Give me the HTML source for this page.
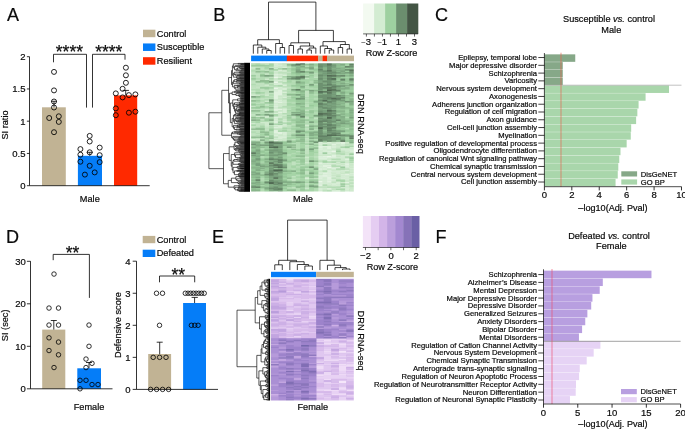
<!DOCTYPE html>
<html lang="en">
<head>
<meta charset="utf-8">
<title>Figure</title>
<style>
html,body{margin:0;padding:0;background:#fff;}
body{width:685px;height:430px;overflow:hidden;}
svg{display:block;font-family:'Liberation Sans', Arial, sans-serif;fill:#000;}
svg text{fill:#0a0a0a;stroke:#0a0a0a;stroke-width:.2px;}
</style>
</head>
<body>
<svg width="685" height="430" viewBox="0 0 685 430" font-family="'Liberation Sans', Arial, sans-serif">
<rect width="685" height="430" fill="#fff"/>
<text x="7" y="21.2" font-size="18" text-anchor="start">A</text>
<text x="213.3" y="21.2" font-size="18" text-anchor="start">B</text>
<text x="435" y="21.2" font-size="18" text-anchor="start">C</text>
<text x="6" y="242.5" font-size="18" text-anchor="start">D</text>
<text x="212" y="242.5" font-size="18" text-anchor="start">E</text>
<text x="435.5" y="242.5" font-size="18" text-anchor="start">F</text>
<rect x="42" y="107.3" width="23.8" height="78.4" fill="#c1b394"/>
<rect x="77.9" y="155.8" width="24.1" height="29.9" fill="#057df8"/>
<rect x="114" y="95.4" width="23.2" height="90.3" fill="#ff2900"/>
<path d="M29.5 56.7V185.7H149.7" stroke="#000" stroke-width="0.8" fill="none"/>
<path d="M26.9 185.7L29.5 185.7" stroke="#000" stroke-width="0.8" fill="none"/>
<text x="25.5" y="189.05" font-size="9.5" text-anchor="end">0</text>
<path d="M26.9 153.45L29.5 153.45" stroke="#000" stroke-width="0.8" fill="none"/>
<text x="25.5" y="156.8" font-size="9.5" text-anchor="end">0.5</text>
<path d="M26.9 121.2L29.5 121.2" stroke="#000" stroke-width="0.8" fill="none"/>
<text x="25.5" y="124.55" font-size="9.5" text-anchor="end">1</text>
<path d="M26.9 88.95L29.5 88.95" stroke="#000" stroke-width="0.8" fill="none"/>
<text x="25.5" y="92.3" font-size="9.5" text-anchor="end">1.5</text>
<path d="M26.9 56.7L29.5 56.7" stroke="#000" stroke-width="0.8" fill="none"/>
<text x="25.5" y="60.05" font-size="9.5" text-anchor="end">2</text>
<text transform="translate(8.2 125) rotate(-90)" font-size="9.2" text-anchor="middle">SI ratio</text>
<text x="89.8" y="201.8" font-size="9.2" text-anchor="middle">Male</text>
<path d="M54 107.3V101.3M51 101.3H57" stroke="#000" stroke-width="0.8" fill="none"/>
<path d="M89.8 155.8V152.3M86.8 152.3H92.8" stroke="#000" stroke-width="0.8" fill="none"/>
<path d="M125.7 95.4V90.4M122.5 90.4H128.9" stroke="#000" stroke-width="0.8" fill="none"/>
<g fill="none" stroke="#000" stroke-width="0.85">
<circle cx="54" cy="71.9" r="2.5"/>
<circle cx="54" cy="90.4" r="2.5"/>
<circle cx="54" cy="101.5" r="2.5"/>
<circle cx="54" cy="107.5" r="2.5"/>
<circle cx="58.8" cy="116.3" r="2.5"/>
<circle cx="49.2" cy="118" r="2.5"/>
<circle cx="58.8" cy="121.9" r="2.5"/>
<circle cx="54" cy="132.2" r="2.5"/>
</g>
<g fill="none" stroke="#000" stroke-width="0.85">
<circle cx="89.7" cy="135.9" r="2.5"/>
<circle cx="89.7" cy="141.5" r="2.5"/>
<circle cx="80.4" cy="149.1" r="2.5"/>
<circle cx="99.7" cy="147.6" r="2.5"/>
<circle cx="89.7" cy="152.3" r="2.5"/>
<circle cx="80.4" cy="154.7" r="2.5"/>
<circle cx="99.7" cy="155.2" r="2.5"/>
<circle cx="80.4" cy="161.7" r="2.5"/>
<circle cx="99.7" cy="162.1" r="2.5"/>
<circle cx="89.7" cy="165.8" r="2.5"/>
<circle cx="94.7" cy="172.4" r="2.5"/>
<circle cx="84.9" cy="174.6" r="2.5"/>
</g>
<g fill="none" stroke="#000" stroke-width="0.85">
<circle cx="125.9" cy="67.7" r="2.5"/>
<circle cx="125.9" cy="75.3" r="2.5"/>
<circle cx="125.9" cy="82.8" r="2.5"/>
<circle cx="122.6" cy="88.8" r="2.5"/>
<circle cx="115.8" cy="93.4" r="2.5"/>
<circle cx="128.9" cy="95.1" r="2.5"/>
<circle cx="135.4" cy="94.4" r="2.5"/>
<circle cx="122.6" cy="97.4" r="2.5"/>
<circle cx="115.8" cy="108.4" r="2.5"/>
<circle cx="115.8" cy="115.2" r="2.5"/>
<circle cx="128.9" cy="112.7" r="2.5"/>
<circle cx="135.4" cy="111.7" r="2.5"/>
</g>
<path d="M53.5 62.3V54.3H86.5V107.6" stroke="#000" stroke-width="0.8" fill="none"/>
<path d="M92.5 107.6V54.3H125V59.7" stroke="#000" stroke-width="0.8" fill="none"/>
<text x="69.4" y="58.4" font-size="17.5" text-anchor="middle" stroke="#111" stroke-width="0.25">****</text>
<text x="108.8" y="58.4" font-size="17.5" text-anchor="middle" stroke="#111" stroke-width="0.25">****</text>
<rect x="143" y="29.7" width="12.4" height="7.5" fill="#c1b394"/>
<text x="156.8" y="36.7" font-size="9.2" text-anchor="start">Control</text>
<rect x="143" y="43.45" width="12.4" height="7.5" fill="#057df8"/>
<text x="156.8" y="50.45" font-size="9.2" text-anchor="start">Susceptible</text>
<rect x="143" y="57.2" width="12.4" height="7.5" fill="#ff2900"/>
<text x="156.8" y="64.2" font-size="9.2" text-anchor="start">Resilient</text>
<rect x="42.2" y="329.6" width="23.1" height="59.2" fill="#c1b394"/>
<rect x="77.3" y="368.3" width="23.7" height="20.5" fill="#057df8"/>
<path d="M30.5 261.2V388.8H112.5" stroke="#000" stroke-width="0.8" fill="none"/>
<path d="M26.9 388.8L30.5 388.8" stroke="#000" stroke-width="0.8" fill="none"/>
<text x="25.8" y="392.15" font-size="9.5" text-anchor="end">0</text>
<path d="M26.9 346.3L30.5 346.3" stroke="#000" stroke-width="0.8" fill="none"/>
<text x="25.8" y="349.65" font-size="9.5" text-anchor="end">10</text>
<path d="M26.9 303.8L30.5 303.8" stroke="#000" stroke-width="0.8" fill="none"/>
<text x="25.8" y="307.15" font-size="9.5" text-anchor="end">20</text>
<path d="M26.9 261.3L30.5 261.3" stroke="#000" stroke-width="0.8" fill="none"/>
<text x="25.8" y="264.65" font-size="9.5" text-anchor="end">30</text>
<text transform="translate(8.4 325.3) rotate(-90)" font-size="9.2" text-anchor="middle">SI (sec)</text>
<text x="89" y="410.2" font-size="9.2" text-anchor="middle">Female</text>
<path d="M53.8 329.6V320.5M50.8 320.5H56.8" stroke="#000" stroke-width="0.8" fill="none"/>
<path d="M89 368.3V362.5M86 362.5H92" stroke="#000" stroke-width="0.8" fill="none"/>
<g fill="none" stroke="#000" stroke-width="0.8">
<circle cx="54" cy="274.05" r="2.25"/>
<circle cx="49" cy="308.05" r="2.25"/>
<circle cx="58.5" cy="308.05" r="2.25"/>
<circle cx="49" cy="325.05" r="2.25"/>
<circle cx="58.5" cy="325.05" r="2.25"/>
<circle cx="49" cy="337.8" r="2.25"/>
<circle cx="58.5" cy="342.05" r="2.25"/>
<circle cx="49" cy="350.55" r="2.25"/>
<circle cx="58.5" cy="354.8" r="2.25"/>
<circle cx="54" cy="367.55" r="2.25"/>
</g>
<g fill="none" stroke="#000" stroke-width="0.8">
<circle cx="89" cy="325.05" r="2.25"/>
<circle cx="89" cy="346.3" r="2.25"/>
<circle cx="86" cy="359.05" r="2.25"/>
<circle cx="92" cy="363.3" r="2.25"/>
<circle cx="86" cy="367.55" r="2.25"/>
<circle cx="80" cy="380.3" r="2.25"/>
<circle cx="86" cy="380.3" r="2.25"/>
<circle cx="92" cy="384.55" r="2.25"/>
<circle cx="98" cy="384.55" r="2.25"/>
<circle cx="80" cy="388.8" r="2.25"/>
</g>
<path d="M53.2 260.2V254.4H89.4V297.9" stroke="#000" stroke-width="0.8" fill="none"/>
<text x="72.5" y="258.8" font-size="17.5" text-anchor="middle" stroke="#111" stroke-width="0.25">**</text>
<rect x="148.2" y="354" width="22.9" height="35.4" fill="#c1b394"/>
<rect x="183.1" y="303" width="22.9" height="86.4" fill="#057df8"/>
<path d="M136.5 261.2V389.4H218" stroke="#000" stroke-width="0.8" fill="none"/>
<path d="M132.7 389.4L136.5 389.4" stroke="#000" stroke-width="0.8" fill="none"/>
<text x="130.5" y="392.75" font-size="9.5" text-anchor="end">0</text>
<path d="M132.7 357.35L136.5 357.35" stroke="#000" stroke-width="0.8" fill="none"/>
<text x="130.5" y="360.7" font-size="9.5" text-anchor="end">1</text>
<path d="M132.7 325.3L136.5 325.3" stroke="#000" stroke-width="0.8" fill="none"/>
<text x="130.5" y="328.65" font-size="9.5" text-anchor="end">2</text>
<path d="M132.7 293.25L136.5 293.25" stroke="#000" stroke-width="0.8" fill="none"/>
<text x="130.5" y="296.6" font-size="9.5" text-anchor="end">3</text>
<path d="M132.7 261.2L136.5 261.2" stroke="#000" stroke-width="0.8" fill="none"/>
<text x="130.5" y="264.55" font-size="9.5" text-anchor="end">4</text>
<text transform="translate(120.6 325) rotate(-90)" font-size="9.2" text-anchor="middle">Defensive score</text>
<path d="M159.7 354V342.2M156.7 342.2H162.7" stroke="#000" stroke-width="0.8" fill="none"/>
<path d="M194.6 303V297.4M191.6 297.4H197.8" stroke="#000" stroke-width="0.8" fill="none"/>
<g fill="none" stroke="#000" stroke-width="0.8">
<circle cx="156.5" cy="293.25" r="2.25"/>
<circle cx="162.5" cy="293.25" r="2.25"/>
<circle cx="159.5" cy="325.3" r="2.25"/>
<circle cx="153.2" cy="357.35" r="2.25"/>
<circle cx="159.6" cy="357.35" r="2.25"/>
<circle cx="166" cy="357.35" r="2.25"/>
<circle cx="150.6" cy="389.4" r="2.25"/>
<circle cx="156.6" cy="389.4" r="2.25"/>
<circle cx="162.6" cy="389.4" r="2.25"/>
<circle cx="168.6" cy="389.4" r="2.25"/>
</g>
<g fill="none" stroke="#000" stroke-width="0.8">
<circle cx="185.3" cy="293.25" r="2.25"/>
<circle cx="188" cy="293.25" r="2.25"/>
<circle cx="190.7" cy="293.25" r="2.25"/>
<circle cx="193.4" cy="293.25" r="2.25"/>
<circle cx="196.1" cy="293.25" r="2.25"/>
<circle cx="198.8" cy="293.25" r="2.25"/>
<circle cx="201.5" cy="293.25" r="2.25"/>
<circle cx="204.2" cy="293.25" r="2.25"/>
<circle cx="191.4" cy="325.3" r="2.25"/>
<circle cx="194.75" cy="325.3" r="2.25"/>
<circle cx="198.1" cy="325.3" r="2.25"/>
</g>
<path d="M159.5 282.3V276H194.7V282.3" stroke="#000" stroke-width="0.8" fill="none"/>
<text x="178.2" y="281.2" font-size="17.5" text-anchor="middle" stroke="#111" stroke-width="0.25">**</text>
<rect x="142.7" y="235.9" width="12.6" height="7.3" fill="#c1b394"/>
<text x="156.7" y="242.5" font-size="9.2" text-anchor="start">Control</text>
<rect x="142.7" y="249.7" width="12.6" height="7.3" fill="#057df8"/>
<text x="156.7" y="256.3" font-size="9.2" text-anchor="start">Defeated</text>
<rect x="544.4" y="54.35" width="30.85" height="7.48" fill="#86a888"/>
<path d="M538.3 57.54L544.4 57.54" stroke="#000" stroke-width="0.75" fill="none"/>
<text x="537" y="59.99" font-size="7.65" text-anchor="end">Epilepsy, temporal lobe</text>
<rect x="544.4" y="62.13" width="18.37" height="7.48" fill="#86a888"/>
<path d="M538.3 65.32L544.4 65.32" stroke="#000" stroke-width="0.75" fill="none"/>
<text x="537" y="67.77" font-size="7.65" text-anchor="end">Major depressive disorder</text>
<rect x="544.4" y="69.91" width="18.37" height="7.48" fill="#86a888"/>
<path d="M538.3 73.1L544.4 73.1" stroke="#000" stroke-width="0.75" fill="none"/>
<text x="537" y="75.55" font-size="7.65" text-anchor="end">Schizophrenia</text>
<rect x="544.4" y="77.69" width="18.37" height="7.48" fill="#86a888"/>
<path d="M538.3 80.88L544.4 80.88" stroke="#000" stroke-width="0.75" fill="none"/>
<text x="537" y="83.33" font-size="7.65" text-anchor="end">Varicosity</text>
<rect x="544.4" y="85.47" width="124.62" height="7.48" fill="#a9d6ab"/>
<path d="M538.3 88.66L544.4 88.66" stroke="#000" stroke-width="0.75" fill="none"/>
<text x="537" y="91.11" font-size="7.65" text-anchor="end">Nervous system development</text>
<rect x="544.4" y="93.25" width="101.18" height="7.48" fill="#a9d6ab"/>
<path d="M538.3 96.44L544.4 96.44" stroke="#000" stroke-width="0.75" fill="none"/>
<text x="537" y="98.89" font-size="7.65" text-anchor="end">Axonogenesis</text>
<rect x="544.4" y="101.03" width="94.19" height="7.48" fill="#a9d6ab"/>
<path d="M538.3 104.22L544.4 104.22" stroke="#000" stroke-width="0.75" fill="none"/>
<text x="537" y="106.67" font-size="7.65" text-anchor="end">Adherens junction organization</text>
<rect x="544.4" y="108.81" width="92.95" height="7.48" fill="#a9d6ab"/>
<path d="M538.3 112L544.4 112" stroke="#000" stroke-width="0.75" fill="none"/>
<text x="537" y="114.45" font-size="7.65" text-anchor="end">Regulation of cell migration</text>
<rect x="544.4" y="116.59" width="91.72" height="7.48" fill="#a9d6ab"/>
<path d="M538.3 119.78L544.4 119.78" stroke="#000" stroke-width="0.75" fill="none"/>
<text x="537" y="122.23" font-size="7.65" text-anchor="end">Axon guidance</text>
<rect x="544.4" y="124.37" width="86.78" height="7.48" fill="#a9d6ab"/>
<path d="M538.3 127.56L544.4 127.56" stroke="#000" stroke-width="0.75" fill="none"/>
<text x="537" y="130.01" font-size="7.65" text-anchor="end">Cell-cell junction assembly</text>
<rect x="544.4" y="132.15" width="86.37" height="7.48" fill="#a9d6ab"/>
<path d="M538.3 135.34L544.4 135.34" stroke="#000" stroke-width="0.75" fill="none"/>
<text x="537" y="137.79" font-size="7.65" text-anchor="end">Myelination</text>
<rect x="544.4" y="139.93" width="82.26" height="7.48" fill="#a9d6ab"/>
<path d="M538.3 143.12L544.4 143.12" stroke="#000" stroke-width="0.75" fill="none"/>
<text x="537" y="145.57" font-size="7.65" text-anchor="end">Positive regulation of developmental process</text>
<rect x="544.4" y="147.71" width="76.09" height="7.48" fill="#a9d6ab"/>
<path d="M538.3 150.9L544.4 150.9" stroke="#000" stroke-width="0.75" fill="none"/>
<text x="537" y="153.35" font-size="7.65" text-anchor="end">Oligodendrocyte differentiation</text>
<rect x="544.4" y="155.49" width="74.86" height="7.48" fill="#a9d6ab"/>
<path d="M538.3 158.68L544.4 158.68" stroke="#000" stroke-width="0.75" fill="none"/>
<text x="537" y="161.13" font-size="7.65" text-anchor="end">Regulation of canonical Wnt signaling pathway</text>
<rect x="544.4" y="163.27" width="73.9" height="7.48" fill="#a9d6ab"/>
<path d="M538.3 166.46L544.4 166.46" stroke="#000" stroke-width="0.75" fill="none"/>
<text x="537" y="168.91" font-size="7.65" text-anchor="end">Chemical synaptic transmission</text>
<rect x="544.4" y="171.05" width="73.35" height="7.48" fill="#a9d6ab"/>
<path d="M538.3 174.24L544.4 174.24" stroke="#000" stroke-width="0.75" fill="none"/>
<text x="537" y="176.69" font-size="7.65" text-anchor="end">Central nervous system development</text>
<rect x="544.4" y="178.83" width="71.15" height="7.48" fill="#a9d6ab"/>
<path d="M538.3 182.02L544.4 182.02" stroke="#000" stroke-width="0.75" fill="none"/>
<text x="537" y="184.47" font-size="7.65" text-anchor="end">Cell junction assembly</text>
<path d="M544.4 85.2L681.5 85.2" stroke="#a8a8a8" stroke-width="0.7" fill="none"/>
<path d="M561 52.7V186.7" stroke="#e8604a" stroke-width="1" stroke-opacity="0.62" fill="none"/>
<path d="M544.4 53.0V186.7H681.5" stroke="#000" stroke-width="0.7" fill="none"/>
<path d="M544.4 186.7L544.4 190.4" stroke="#000" stroke-width="0.8" fill="none"/>
<text x="544.4" y="198" font-size="9.5" text-anchor="middle">0</text>
<path d="M571.82 186.7L571.82 190.4" stroke="#000" stroke-width="0.8" fill="none"/>
<text x="571.82" y="198" font-size="9.5" text-anchor="middle">2</text>
<path d="M599.24 186.7L599.24 190.4" stroke="#000" stroke-width="0.8" fill="none"/>
<text x="599.24" y="198" font-size="9.5" text-anchor="middle">4</text>
<path d="M626.66 186.7L626.66 190.4" stroke="#000" stroke-width="0.8" fill="none"/>
<text x="626.66" y="198" font-size="9.5" text-anchor="middle">6</text>
<path d="M654.08 186.7L654.08 190.4" stroke="#000" stroke-width="0.8" fill="none"/>
<text x="654.08" y="198" font-size="9.5" text-anchor="middle">8</text>
<path d="M681.5 186.7L681.5 190.4" stroke="#000" stroke-width="0.8" fill="none"/>
<text x="681.5" y="198" font-size="9.5" text-anchor="middle">10</text>
<text x="613" y="210.5" font-size="9.1" text-anchor="middle">–log10(Adj. Pval)</text>
<text x="609" y="21.6" font-size="9.2" text-anchor="middle">Susceptible <tspan font-style="italic">vs.</tspan> control</text>
<text x="611.3" y="33.3" font-size="9.2" text-anchor="middle">Male</text>
<rect x="621.3" y="171.3" width="15.8" height="5.2" fill="#86a888"/>
<rect x="621.3" y="179.4" width="15.8" height="5.2" fill="#a9d6ab"/>
<text x="640.8" y="176.6" font-size="7.6" text-anchor="start">DisGeNET</text>
<text x="640.8" y="184.7" font-size="7.6" text-anchor="start">GO BP</text>
<rect x="543.5" y="270.65" width="107.97" height="7.54" fill="#b89fe0"/>
<path d="M538.3 274.57L543.5 274.57" stroke="#000" stroke-width="0.75" fill="none"/>
<text x="537" y="277.02" font-size="7.65" text-anchor="end">Schizophrenia</text>
<rect x="543.5" y="278.49" width="59.3" height="7.54" fill="#b89fe0"/>
<path d="M538.3 282.41L543.5 282.41" stroke="#000" stroke-width="0.75" fill="none"/>
<text x="537" y="284.86" font-size="7.65" text-anchor="end">Alzheimer’s Disease</text>
<rect x="543.5" y="286.33" width="56.21" height="7.54" fill="#b89fe0"/>
<path d="M538.3 290.25L543.5 290.25" stroke="#000" stroke-width="0.75" fill="none"/>
<text x="537" y="292.7" font-size="7.65" text-anchor="end">Mental Depression</text>
<rect x="543.5" y="294.17" width="48.94" height="7.54" fill="#b89fe0"/>
<path d="M538.3 298.09L543.5 298.09" stroke="#000" stroke-width="0.75" fill="none"/>
<text x="537" y="300.54" font-size="7.65" text-anchor="end">Major Depressive Disorder</text>
<rect x="543.5" y="302.01" width="47.71" height="7.54" fill="#b89fe0"/>
<path d="M538.3 305.93L543.5 305.93" stroke="#000" stroke-width="0.75" fill="none"/>
<text x="537" y="308.38" font-size="7.65" text-anchor="end">Depressive Disorder</text>
<rect x="543.5" y="309.85" width="43.87" height="7.54" fill="#b89fe0"/>
<path d="M538.3 313.77L543.5 313.77" stroke="#000" stroke-width="0.75" fill="none"/>
<text x="537" y="316.22" font-size="7.65" text-anchor="end">Generalized Seizures</text>
<rect x="543.5" y="317.69" width="41.75" height="7.54" fill="#b89fe0"/>
<path d="M538.3 321.61L543.5 321.61" stroke="#000" stroke-width="0.75" fill="none"/>
<text x="537" y="324.06" font-size="7.65" text-anchor="end">Anxiety Disorders</text>
<rect x="543.5" y="325.53" width="38.59" height="7.54" fill="#b89fe0"/>
<path d="M538.3 329.45L543.5 329.45" stroke="#000" stroke-width="0.75" fill="none"/>
<text x="537" y="331.9" font-size="7.65" text-anchor="end">Bipolar Disorder</text>
<rect x="543.5" y="333.37" width="35.44" height="7.54" fill="#b89fe0"/>
<path d="M538.3 337.29L543.5 337.29" stroke="#000" stroke-width="0.75" fill="none"/>
<text x="537" y="339.74" font-size="7.65" text-anchor="end">Mental Disorders</text>
<rect x="543.5" y="341.21" width="56.9" height="7.54" fill="#e6d3f5"/>
<path d="M538.3 345.13L543.5 345.13" stroke="#000" stroke-width="0.75" fill="none"/>
<text x="537" y="347.58" font-size="7.65" text-anchor="end">Regulation of Cation Channel Activity</text>
<rect x="543.5" y="349.05" width="50.18" height="7.54" fill="#e6d3f5"/>
<path d="M538.3 352.97L543.5 352.97" stroke="#000" stroke-width="0.75" fill="none"/>
<text x="537" y="355.42" font-size="7.65" text-anchor="end">Nervous System Development</text>
<rect x="543.5" y="356.89" width="43.19" height="7.54" fill="#e6d3f5"/>
<path d="M538.3 360.81L543.5 360.81" stroke="#000" stroke-width="0.75" fill="none"/>
<text x="537" y="363.26" font-size="7.65" text-anchor="end">Chemical Synaptic Transmission</text>
<rect x="543.5" y="364.73" width="36.26" height="7.54" fill="#e6d3f5"/>
<path d="M538.3 368.65L543.5 368.65" stroke="#000" stroke-width="0.75" fill="none"/>
<text x="537" y="371.1" font-size="7.65" text-anchor="end">Anterograde trans-synaptic signaling</text>
<rect x="543.5" y="372.57" width="35.58" height="7.54" fill="#e6d3f5"/>
<path d="M538.3 376.49L543.5 376.49" stroke="#000" stroke-width="0.75" fill="none"/>
<text x="537" y="378.94" font-size="7.65" text-anchor="end">Regulation of Neuron Apoptotic Process</text>
<rect x="543.5" y="380.41" width="32.49" height="7.54" fill="#e6d3f5"/>
<path d="M538.3 384.33L543.5 384.33" stroke="#000" stroke-width="0.75" fill="none"/>
<text x="537" y="386.78" font-size="7.65" text-anchor="end">Regulation of Neurotransmitter Receptor Activity</text>
<rect x="543.5" y="388.25" width="32.22" height="7.54" fill="#e6d3f5"/>
<path d="M538.3 392.17L543.5 392.17" stroke="#000" stroke-width="0.75" fill="none"/>
<text x="537" y="394.62" font-size="7.65" text-anchor="end">Neuron Differentiation</text>
<rect x="543.5" y="396.09" width="26.46" height="7.54" fill="#e6d3f5"/>
<path d="M538.3 400.01L543.5 400.01" stroke="#000" stroke-width="0.75" fill="none"/>
<text x="537" y="402.46" font-size="7.65" text-anchor="end">Regulation of Neuronal Synaptic Plasticity</text>
<path d="M543.5 341.3L680.6 341.3" stroke="#7a7a7a" stroke-width="0.7" fill="none"/>
<path d="M552 269V404" stroke="#ee4a6a" stroke-width="1" stroke-opacity="0.62" fill="none"/>
<path d="M543.5 269.3V404H680.6" stroke="#000" stroke-width="0.7" fill="none"/>
<path d="M543.5 404L543.5 407.7" stroke="#000" stroke-width="0.8" fill="none"/>
<text x="543.5" y="415.6" font-size="9.5" text-anchor="middle">0</text>
<path d="M577.77 404L577.77 407.7" stroke="#000" stroke-width="0.8" fill="none"/>
<text x="577.77" y="415.6" font-size="9.5" text-anchor="middle">5</text>
<path d="M612.05 404L612.05 407.7" stroke="#000" stroke-width="0.8" fill="none"/>
<text x="612.05" y="415.6" font-size="9.5" text-anchor="middle">10</text>
<path d="M646.33 404L646.33 407.7" stroke="#000" stroke-width="0.8" fill="none"/>
<text x="646.33" y="415.6" font-size="9.5" text-anchor="middle">15</text>
<path d="M680.6 404L680.6 407.7" stroke="#000" stroke-width="0.8" fill="none"/>
<text x="680.6" y="415.6" font-size="9.5" text-anchor="middle">20</text>
<text x="613" y="426.5" font-size="9.1" text-anchor="middle">–log10(Adj. Pval)</text>
<text x="609" y="238.5" font-size="9.2" text-anchor="middle">Defeated <tspan font-style="italic">vs.</tspan> control</text>
<text x="611.4" y="248.9" font-size="9.2" text-anchor="middle">Female</text>
<rect x="621" y="389" width="15.8" height="5.2" fill="#b89fe0"/>
<rect x="621" y="397.1" width="15.8" height="5.2" fill="#e6d3f5"/>
<text x="640.5" y="394.3" font-size="7.6" text-anchor="start">DisGeNET</text>
<text x="640.5" y="402.4" font-size="7.6" text-anchor="start">GO BP</text>
<defs><filter id="hb1" x="-5%" y="-5%" width="110%" height="110%"><feGaussianBlur stdDeviation="0.32"/></filter><clipPath id="hc1"><rect x="251.1" y="63.2" width="102.7" height="128.4"/></clipPath></defs>
<g clip-path="url(#hc1)"><g filter="url(#hb1)">
<rect x="248.1" y="60.2" width="108.7" height="134.4" fill="#9ed0a0"/>
<path d="M273.43 101.32h4.72v1.25h-4.72zM273.43 122.38h4.72v1.25h-4.72zM273.43 124.39h4.72v1.25h-4.72zM273.43 129.41h4.72v1.25h-4.72zM331.47 157.49h4.72v1.25h-4.72zM327.01 159.5h4.72v1.25h-4.72zM327.01 162.51h4.72v1.25h-4.72zM318.08 172.54h4.72v1.25h-4.72zM322.54 175.55h4.72v1.25h-4.72zM327.01 176.55h4.72v1.25h-4.72zM327.01 178.56h4.72v1.25h-4.72zM327.01 181.57h4.72v1.25h-4.72z" fill="#f2f9f0"/>
<path d="M273.43 64.2h4.72v1.25h-4.72zM273.43 71.22h4.72v1.25h-4.72zM273.43 74.23h4.72v1.25h-4.72zM273.43 76.24h4.72v1.25h-4.72zM273.43 77.24h4.72v1.25h-4.72zM277.89 80.25h4.72v1.25h-4.72zM273.43 81.26h4.72v1.25h-4.72zM273.43 82.26h4.72v1.25h-4.72zM273.43 84.27h4.72v1.25h-4.72zM273.43 87.28h4.72v1.25h-4.72zM273.43 88.28h4.72v1.25h-4.72zM273.43 90.28h4.72v1.25h-4.72zM273.43 106.33h4.72v1.25h-4.72zM273.43 110.35h4.72v1.25h-4.72zM273.43 117.37h4.72v1.25h-4.72zM273.43 120.38h4.72v1.25h-4.72zM273.43 126.4h4.72v1.25h-4.72zM282.36 131.41h4.72v1.25h-4.72zM273.43 135.43h4.72v1.25h-4.72zM273.43 137.43h4.72v1.25h-4.72zM318.08 142.45h4.72v1.25h-4.72zM318.08 148.47h4.72v1.25h-4.72zM327.01 150.47h4.72v1.25h-4.72zM331.47 150.47h4.72v1.25h-4.72zM318.08 151.47h4.72v1.25h-4.72zM331.47 151.47h4.72v1.25h-4.72zM318.08 153.48h4.72v1.25h-4.72zM318.08 155.49h4.72v1.25h-4.72zM327.01 155.49h4.72v1.25h-4.72zM327.01 156.49h4.72v1.25h-4.72zM318.08 157.49h4.72v1.25h-4.72zM322.54 157.49h4.72v1.25h-4.72zM322.54 162.51h4.72v1.25h-4.72zM331.47 162.51h4.72v1.25h-4.72zM344.87 162.51h4.72v1.25h-4.72zM318.08 165.52h4.72v1.25h-4.72zM340.4 165.52h4.72v1.25h-4.72zM344.87 165.52h4.72v1.25h-4.72zM327.01 166.52h4.72v1.25h-4.72zM327.01 167.52h4.72v1.25h-4.72zM331.47 167.52h4.72v1.25h-4.72zM318.08 168.53h4.72v1.25h-4.72zM344.87 169.53h4.72v1.25h-4.72zM327.01 170.53h4.72v1.25h-4.72zM331.47 170.53h4.72v1.25h-4.72zM327.01 172.54h4.72v1.25h-4.72zM335.94 172.54h4.72v1.25h-4.72zM322.54 174.55h4.72v1.25h-4.72zM327.01 174.55h4.72v1.25h-4.72zM318.08 175.55h4.72v1.25h-4.72zM318.08 177.56h4.72v1.25h-4.72zM327.01 177.56h4.72v1.25h-4.72zM340.4 177.56h4.72v1.25h-4.72zM318.08 180.57h4.72v1.25h-4.72zM327.01 180.57h4.72v1.25h-4.72zM318.08 181.57h4.72v1.25h-4.72zM318.08 183.57h4.72v1.25h-4.72zM327.01 183.57h4.72v1.25h-4.72zM318.08 187.59h4.72v1.25h-4.72zM327.01 187.59h4.72v1.25h-4.72zM335.94 187.59h4.72v1.25h-4.72zM318.08 190.6h4.72v1.25h-4.72z" fill="#eaf6e8"/>
<path d="M277.89 65.21h4.72v1.25h-4.72zM273.43 66.21h4.72v1.25h-4.72zM273.43 68.22h4.72v1.25h-4.72zM273.43 73.23h4.72v1.25h-4.72zM277.89 74.23h4.72v1.25h-4.72zM273.43 80.25h4.72v1.25h-4.72zM277.89 84.27h4.72v1.25h-4.72zM277.89 87.28h4.72v1.25h-4.72zM277.89 89.28h4.72v1.25h-4.72zM277.89 90.28h4.72v1.25h-4.72zM273.43 91.29h4.72v1.25h-4.72zM277.89 91.29h4.72v1.25h-4.72zM273.43 92.29h4.72v1.25h-4.72zM277.89 92.29h4.72v1.25h-4.72zM273.43 93.29h4.72v1.25h-4.72zM277.89 93.29h4.72v1.25h-4.72zM273.43 94.3h4.72v1.25h-4.72zM277.89 94.3h4.72v1.25h-4.72zM273.43 95.3h4.72v1.25h-4.72zM273.43 96.3h4.72v1.25h-4.72zM273.43 97.31h4.72v1.25h-4.72zM277.89 97.31h4.72v1.25h-4.72zM273.43 98.31h4.72v1.25h-4.72zM273.43 100.32h4.72v1.25h-4.72zM277.89 101.32h4.72v1.25h-4.72zM282.36 101.32h4.72v1.25h-4.72zM273.43 102.32h4.72v1.25h-4.72zM277.89 102.32h4.72v1.25h-4.72zM273.43 105.33h4.72v1.25h-4.72zM273.43 108.34h4.72v1.25h-4.72zM277.89 108.34h4.72v1.25h-4.72zM273.43 109.34h4.72v1.25h-4.72zM277.89 109.34h4.72v1.25h-4.72zM277.89 111.35h4.72v1.25h-4.72zM277.89 112.35h4.72v1.25h-4.72zM282.36 114.36h4.72v1.25h-4.72zM273.43 116.37h4.72v1.25h-4.72zM277.89 117.37h4.72v1.25h-4.72zM282.36 120.38h4.72v1.25h-4.72zM273.43 121.38h4.72v1.25h-4.72zM277.89 122.38h4.72v1.25h-4.72zM277.89 124.39h4.72v1.25h-4.72zM282.36 124.39h4.72v1.25h-4.72zM273.43 127.4h4.72v1.25h-4.72zM273.43 130.41h4.72v1.25h-4.72zM273.43 131.41h4.72v1.25h-4.72zM277.89 131.41h4.72v1.25h-4.72zM273.43 132.42h4.72v1.25h-4.72zM277.89 132.42h4.72v1.25h-4.72zM277.89 133.42h4.72v1.25h-4.72zM273.43 134.42h4.72v1.25h-4.72zM277.89 135.43h4.72v1.25h-4.72zM282.36 135.43h4.72v1.25h-4.72zM273.43 139.44h4.72v1.25h-4.72zM282.36 139.44h4.72v1.25h-4.72zM273.43 140.44h4.72v1.25h-4.72zM318.08 141.44h4.72v1.25h-4.72zM335.94 141.44h4.72v1.25h-4.72zM340.4 141.44h4.72v1.25h-4.72zM340.4 142.45h4.72v1.25h-4.72zM344.87 142.45h4.72v1.25h-4.72zM327.01 143.45h4.72v1.25h-4.72zM331.47 143.45h4.72v1.25h-4.72zM340.4 143.45h4.72v1.25h-4.72zM331.47 144.45h4.72v1.25h-4.72zM349.33 144.45h4.72v1.25h-4.72zM318.08 145.46h4.72v1.25h-4.72zM322.54 145.46h4.72v1.25h-4.72zM327.01 145.46h4.72v1.25h-4.72zM335.94 145.46h4.72v1.25h-4.72zM340.4 145.46h4.72v1.25h-4.72zM318.08 146.46h4.72v1.25h-4.72zM322.54 146.46h4.72v1.25h-4.72zM327.01 146.46h4.72v1.25h-4.72zM318.08 147.46h4.72v1.25h-4.72zM327.01 147.46h4.72v1.25h-4.72zM335.94 147.46h4.72v1.25h-4.72zM322.54 148.47h4.72v1.25h-4.72zM327.01 148.47h4.72v1.25h-4.72zM340.4 148.47h4.72v1.25h-4.72zM344.87 148.47h4.72v1.25h-4.72zM349.33 148.47h4.72v1.25h-4.72zM318.08 149.47h4.72v1.25h-4.72zM331.47 149.47h4.72v1.25h-4.72zM344.87 150.47h4.72v1.25h-4.72zM327.01 151.47h4.72v1.25h-4.72zM331.47 154.48h4.72v1.25h-4.72zM335.94 154.48h4.72v1.25h-4.72zM322.54 155.49h4.72v1.25h-4.72zM331.47 155.49h4.72v1.25h-4.72zM340.4 155.49h4.72v1.25h-4.72zM318.08 156.49h4.72v1.25h-4.72zM322.54 156.49h4.72v1.25h-4.72zM331.47 156.49h4.72v1.25h-4.72zM327.01 157.49h4.72v1.25h-4.72zM335.94 157.49h4.72v1.25h-4.72zM340.4 157.49h4.72v1.25h-4.72zM318.08 158.5h4.72v1.25h-4.72zM322.54 158.5h4.72v1.25h-4.72zM344.87 158.5h4.72v1.25h-4.72zM335.94 159.5h4.72v1.25h-4.72zM344.87 159.5h4.72v1.25h-4.72zM340.4 160.5h4.72v1.25h-4.72zM335.94 161.51h4.72v1.25h-4.72zM318.08 162.51h4.72v1.25h-4.72zM340.4 162.51h4.72v1.25h-4.72zM318.08 163.51h4.72v1.25h-4.72zM344.87 163.51h4.72v1.25h-4.72zM322.54 164.52h4.72v1.25h-4.72zM327.01 164.52h4.72v1.25h-4.72zM335.94 164.52h4.72v1.25h-4.72zM344.87 164.52h4.72v1.25h-4.72zM322.54 165.52h4.72v1.25h-4.72zM327.01 165.52h4.72v1.25h-4.72zM322.54 166.52h4.72v1.25h-4.72zM344.87 166.52h4.72v1.25h-4.72zM318.08 167.52h4.72v1.25h-4.72zM349.33 167.52h4.72v1.25h-4.72zM331.47 168.53h4.72v1.25h-4.72zM318.08 169.53h4.72v1.25h-4.72zM327.01 169.53h4.72v1.25h-4.72zM335.94 170.53h4.72v1.25h-4.72zM340.4 170.53h4.72v1.25h-4.72zM327.01 171.54h4.72v1.25h-4.72zM322.54 172.54h4.72v1.25h-4.72zM322.54 173.54h4.72v1.25h-4.72zM327.01 173.54h4.72v1.25h-4.72zM331.47 173.54h4.72v1.25h-4.72zM344.87 173.54h4.72v1.25h-4.72zM318.08 174.55h4.72v1.25h-4.72zM344.87 174.55h4.72v1.25h-4.72zM349.33 174.55h4.72v1.25h-4.72zM327.01 175.55h4.72v1.25h-4.72zM340.4 175.55h4.72v1.25h-4.72zM318.08 176.55h4.72v1.25h-4.72zM322.54 176.55h4.72v1.25h-4.72zM331.47 176.55h4.72v1.25h-4.72zM344.87 176.55h4.72v1.25h-4.72zM318.08 178.56h4.72v1.25h-4.72zM322.54 178.56h4.72v1.25h-4.72zM331.47 178.56h4.72v1.25h-4.72zM344.87 178.56h4.72v1.25h-4.72zM327.01 179.56h4.72v1.25h-4.72zM322.54 180.57h4.72v1.25h-4.72zM331.47 180.57h4.72v1.25h-4.72zM344.87 181.57h4.72v1.25h-4.72zM318.08 182.57h4.72v1.25h-4.72zM322.54 182.57h4.72v1.25h-4.72zM331.47 182.57h4.72v1.25h-4.72zM344.87 182.57h4.72v1.25h-4.72zM318.08 184.58h4.72v1.25h-4.72zM335.94 184.58h4.72v1.25h-4.72zM318.08 185.58h4.72v1.25h-4.72zM331.47 185.58h4.72v1.25h-4.72zM344.87 186.58h4.72v1.25h-4.72zM322.54 187.59h4.72v1.25h-4.72zM340.4 187.59h4.72v1.25h-4.72zM327.01 188.59h4.72v1.25h-4.72zM331.47 189.59h4.72v1.25h-4.72zM344.87 190.6h4.72v1.25h-4.72z" fill="#e1f2df"/>
<path d="M273.43 63.2h4.72v1.25h-4.72zM277.89 64.2h4.72v1.25h-4.72zM282.36 64.2h4.72v1.25h-4.72zM273.43 65.21h4.72v1.25h-4.72zM282.36 66.21h4.72v1.25h-4.72zM251.1 67.21h4.72v1.25h-4.72zM277.89 67.21h4.72v1.25h-4.72zM282.36 67.21h4.72v1.25h-4.72zM277.89 69.22h4.72v1.25h-4.72zM277.89 70.22h4.72v1.25h-4.72zM277.89 73.23h4.72v1.25h-4.72zM282.36 74.23h4.72v1.25h-4.72zM273.43 75.24h4.72v1.25h-4.72zM282.36 75.24h4.72v1.25h-4.72zM304.68 75.24h4.72v1.25h-4.72zM277.89 76.24h4.72v1.25h-4.72zM277.89 77.24h4.72v1.25h-4.72zM273.43 79.25h4.72v1.25h-4.72zM277.89 79.25h4.72v1.25h-4.72zM277.89 82.26h4.72v1.25h-4.72zM273.43 83.26h4.72v1.25h-4.72zM277.89 83.26h4.72v1.25h-4.72zM282.36 84.27h4.72v1.25h-4.72zM282.36 85.27h4.72v1.25h-4.72zM273.43 86.27h4.72v1.25h-4.72zM277.89 86.27h4.72v1.25h-4.72zM255.57 87.28h4.72v1.25h-4.72zM282.36 87.28h4.72v1.25h-4.72zM277.89 88.28h4.72v1.25h-4.72zM282.36 88.28h4.72v1.25h-4.72zM273.43 89.28h4.72v1.25h-4.72zM282.36 89.28h4.72v1.25h-4.72zM251.1 90.28h4.72v1.25h-4.72zM282.36 91.29h4.72v1.25h-4.72zM282.36 92.29h4.72v1.25h-4.72zM251.1 93.29h4.72v1.25h-4.72zM264.5 93.29h4.72v1.25h-4.72zM255.57 94.3h4.72v1.25h-4.72zM282.36 94.3h4.72v1.25h-4.72zM277.89 95.3h4.72v1.25h-4.72zM282.36 96.3h4.72v1.25h-4.72zM282.36 97.31h4.72v1.25h-4.72zM273.43 99.31h4.72v1.25h-4.72zM277.89 99.31h4.72v1.25h-4.72zM277.89 100.32h4.72v1.25h-4.72zM282.36 102.32h4.72v1.25h-4.72zM273.43 103.32h4.72v1.25h-4.72zM273.43 104.33h4.72v1.25h-4.72zM282.36 104.33h4.72v1.25h-4.72zM277.89 106.33h4.72v1.25h-4.72zM273.43 107.34h4.72v1.25h-4.72zM282.36 108.34h4.72v1.25h-4.72zM255.57 109.34h4.72v1.25h-4.72zM282.36 109.34h4.72v1.25h-4.72zM282.36 110.35h4.72v1.25h-4.72zM282.36 111.35h4.72v1.25h-4.72zM273.43 112.35h4.72v1.25h-4.72zM282.36 112.35h4.72v1.25h-4.72zM273.43 113.36h4.72v1.25h-4.72zM277.89 114.36h4.72v1.25h-4.72zM273.43 118.37h4.72v1.25h-4.72zM273.43 119.38h4.72v1.25h-4.72zM277.89 120.38h4.72v1.25h-4.72zM282.36 121.38h4.72v1.25h-4.72zM282.36 123.39h4.72v1.25h-4.72zM277.89 125.39h4.72v1.25h-4.72zM255.57 126.4h4.72v1.25h-4.72zM264.5 126.4h4.72v1.25h-4.72zM277.89 126.4h4.72v1.25h-4.72zM282.36 126.4h4.72v1.25h-4.72zM277.89 127.4h4.72v1.25h-4.72zM255.57 131.41h4.72v1.25h-4.72zM282.36 132.42h4.72v1.25h-4.72zM255.57 133.42h4.72v1.25h-4.72zM273.43 133.42h4.72v1.25h-4.72zM282.36 133.42h4.72v1.25h-4.72zM282.36 134.42h4.72v1.25h-4.72zM255.57 135.43h4.72v1.25h-4.72zM277.89 136.43h4.72v1.25h-4.72zM282.36 136.43h4.72v1.25h-4.72zM277.89 137.43h4.72v1.25h-4.72zM282.36 137.43h4.72v1.25h-4.72zM251.1 138.43h4.72v1.25h-4.72zM277.89 138.43h4.72v1.25h-4.72zM251.1 139.44h4.72v1.25h-4.72zM327.01 141.44h4.72v1.25h-4.72zM322.54 142.45h4.72v1.25h-4.72zM327.01 142.45h4.72v1.25h-4.72zM331.47 142.45h4.72v1.25h-4.72zM335.94 142.45h4.72v1.25h-4.72zM318.08 143.45h4.72v1.25h-4.72zM322.54 143.45h4.72v1.25h-4.72zM335.94 143.45h4.72v1.25h-4.72zM304.68 144.45h4.72v1.25h-4.72zM318.08 144.45h4.72v1.25h-4.72zM340.4 144.45h4.72v1.25h-4.72zM344.87 144.45h4.72v1.25h-4.72zM331.47 145.46h4.72v1.25h-4.72zM331.47 146.46h4.72v1.25h-4.72zM291.29 147.46h4.72v1.25h-4.72zM322.54 147.46h4.72v1.25h-4.72zM331.47 147.46h4.72v1.25h-4.72zM340.4 147.46h4.72v1.25h-4.72zM322.54 149.47h4.72v1.25h-4.72zM327.01 149.47h4.72v1.25h-4.72zM340.4 149.47h4.72v1.25h-4.72zM344.87 149.47h4.72v1.25h-4.72zM349.33 149.47h4.72v1.25h-4.72zM318.08 150.47h4.72v1.25h-4.72zM322.54 150.47h4.72v1.25h-4.72zM349.33 150.47h4.72v1.25h-4.72zM322.54 151.47h4.72v1.25h-4.72zM349.33 151.47h4.72v1.25h-4.72zM318.08 152.48h4.72v1.25h-4.72zM327.01 152.48h4.72v1.25h-4.72zM344.87 152.48h4.72v1.25h-4.72zM322.54 153.48h4.72v1.25h-4.72zM327.01 153.48h4.72v1.25h-4.72zM331.47 153.48h4.72v1.25h-4.72zM340.4 154.48h4.72v1.25h-4.72zM344.87 154.48h4.72v1.25h-4.72zM344.87 155.49h4.72v1.25h-4.72zM335.94 156.49h4.72v1.25h-4.72zM340.4 156.49h4.72v1.25h-4.72zM344.87 157.49h4.72v1.25h-4.72zM318.08 159.5h4.72v1.25h-4.72zM322.54 159.5h4.72v1.25h-4.72zM327.01 160.5h4.72v1.25h-4.72zM318.08 161.51h4.72v1.25h-4.72zM322.54 163.51h4.72v1.25h-4.72zM327.01 163.51h4.72v1.25h-4.72zM331.47 163.51h4.72v1.25h-4.72zM335.94 163.51h4.72v1.25h-4.72zM318.08 164.52h4.72v1.25h-4.72zM340.4 164.52h4.72v1.25h-4.72zM349.33 164.52h4.72v1.25h-4.72zM318.08 166.52h4.72v1.25h-4.72zM331.47 166.52h4.72v1.25h-4.72zM335.94 166.52h4.72v1.25h-4.72zM322.54 167.52h4.72v1.25h-4.72zM335.94 167.52h4.72v1.25h-4.72zM344.87 167.52h4.72v1.25h-4.72zM322.54 168.53h4.72v1.25h-4.72zM349.33 168.53h4.72v1.25h-4.72zM322.54 169.53h4.72v1.25h-4.72zM340.4 169.53h4.72v1.25h-4.72zM344.87 170.53h4.72v1.25h-4.72zM318.08 171.54h4.72v1.25h-4.72zM322.54 171.54h4.72v1.25h-4.72zM335.94 171.54h4.72v1.25h-4.72zM349.33 172.54h4.72v1.25h-4.72zM304.68 173.54h4.72v1.25h-4.72zM340.4 173.54h4.72v1.25h-4.72zM349.33 173.54h4.72v1.25h-4.72zM335.94 174.55h4.72v1.25h-4.72zM340.4 174.55h4.72v1.25h-4.72zM331.47 175.55h4.72v1.25h-4.72zM344.87 175.55h4.72v1.25h-4.72zM349.33 175.55h4.72v1.25h-4.72zM335.94 176.55h4.72v1.25h-4.72zM340.4 176.55h4.72v1.25h-4.72zM304.68 177.56h4.72v1.25h-4.72zM322.54 177.56h4.72v1.25h-4.72zM344.87 177.56h4.72v1.25h-4.72zM349.33 177.56h4.72v1.25h-4.72zM304.68 178.56h4.72v1.25h-4.72zM335.94 178.56h4.72v1.25h-4.72zM340.4 178.56h4.72v1.25h-4.72zM318.08 179.56h4.72v1.25h-4.72zM322.54 179.56h4.72v1.25h-4.72zM331.47 179.56h4.72v1.25h-4.72zM344.87 179.56h4.72v1.25h-4.72zM322.54 181.57h4.72v1.25h-4.72zM335.94 181.57h4.72v1.25h-4.72zM327.01 182.57h4.72v1.25h-4.72zM335.94 182.57h4.72v1.25h-4.72zM322.54 183.57h4.72v1.25h-4.72zM331.47 183.57h4.72v1.25h-4.72zM335.94 183.57h4.72v1.25h-4.72zM331.47 184.58h4.72v1.25h-4.72zM340.4 184.58h4.72v1.25h-4.72zM344.87 184.58h4.72v1.25h-4.72zM322.54 185.58h4.72v1.25h-4.72zM327.01 185.58h4.72v1.25h-4.72zM335.94 185.58h4.72v1.25h-4.72zM344.87 185.58h4.72v1.25h-4.72zM340.4 186.58h4.72v1.25h-4.72zM304.68 187.59h4.72v1.25h-4.72zM331.47 187.59h4.72v1.25h-4.72zM344.87 187.59h4.72v1.25h-4.72zM349.33 187.59h4.72v1.25h-4.72zM318.08 188.59h4.72v1.25h-4.72zM344.87 188.59h4.72v1.25h-4.72zM318.08 189.59h4.72v1.25h-4.72zM322.54 189.59h4.72v1.25h-4.72zM327.01 189.59h4.72v1.25h-4.72zM335.94 189.59h4.72v1.25h-4.72zM340.4 189.59h4.72v1.25h-4.72zM344.87 189.59h4.72v1.25h-4.72zM331.47 190.6h4.72v1.25h-4.72zM335.94 190.6h4.72v1.25h-4.72z" fill="#d8eed6"/>
<path d="M277.89 63.2h4.72v1.25h-4.72zM264.5 64.2h4.72v1.25h-4.72zM282.36 65.21h4.72v1.25h-4.72zM304.68 65.21h4.72v1.25h-4.72zM251.1 66.21h4.72v1.25h-4.72zM255.57 66.21h4.72v1.25h-4.72zM260.03 66.21h4.72v1.25h-4.72zM277.89 66.21h4.72v1.25h-4.72zM268.96 67.21h4.72v1.25h-4.72zM273.43 67.21h4.72v1.25h-4.72zM286.82 67.21h4.72v1.25h-4.72zM251.1 68.22h4.72v1.25h-4.72zM260.03 69.22h4.72v1.25h-4.72zM282.36 69.22h4.72v1.25h-4.72zM273.43 70.22h4.72v1.25h-4.72zM282.36 70.22h4.72v1.25h-4.72zM277.89 71.22h4.72v1.25h-4.72zM282.36 71.22h4.72v1.25h-4.72zM255.57 72.23h4.72v1.25h-4.72zM260.03 72.23h4.72v1.25h-4.72zM273.43 72.23h4.72v1.25h-4.72zM251.1 73.23h4.72v1.25h-4.72zM282.36 73.23h4.72v1.25h-4.72zM255.57 74.23h4.72v1.25h-4.72zM277.89 75.24h4.72v1.25h-4.72zM282.36 77.24h4.72v1.25h-4.72zM264.5 78.25h4.72v1.25h-4.72zM273.43 78.25h4.72v1.25h-4.72zM304.68 78.25h4.72v1.25h-4.72zM264.5 79.25h4.72v1.25h-4.72zM268.96 79.25h4.72v1.25h-4.72zM282.36 79.25h4.72v1.25h-4.72zM282.36 80.25h4.72v1.25h-4.72zM282.36 81.26h4.72v1.25h-4.72zM251.1 82.26h4.72v1.25h-4.72zM282.36 83.26h4.72v1.25h-4.72zM255.57 84.27h4.72v1.25h-4.72zM264.5 84.27h4.72v1.25h-4.72zM251.1 85.27h4.72v1.25h-4.72zM260.03 85.27h4.72v1.25h-4.72zM264.5 85.27h4.72v1.25h-4.72zM304.68 86.27h4.72v1.25h-4.72zM286.82 87.28h4.72v1.25h-4.72zM251.1 88.28h4.72v1.25h-4.72zM251.1 91.29h4.72v1.25h-4.72zM260.03 91.29h4.72v1.25h-4.72zM291.29 92.29h4.72v1.25h-4.72zM251.1 94.3h4.72v1.25h-4.72zM264.5 94.3h4.72v1.25h-4.72zM251.1 95.3h4.72v1.25h-4.72zM255.57 95.3h4.72v1.25h-4.72zM264.5 95.3h4.72v1.25h-4.72zM282.36 95.3h4.72v1.25h-4.72zM268.96 96.3h4.72v1.25h-4.72zM277.89 96.3h4.72v1.25h-4.72zM304.68 96.3h4.72v1.25h-4.72zM264.5 98.31h4.72v1.25h-4.72zM268.96 98.31h4.72v1.25h-4.72zM277.89 98.31h4.72v1.25h-4.72zM304.68 98.31h4.72v1.25h-4.72zM282.36 99.31h4.72v1.25h-4.72zM264.5 100.32h4.72v1.25h-4.72zM282.36 100.32h4.72v1.25h-4.72zM264.5 101.32h4.72v1.25h-4.72zM260.03 102.32h4.72v1.25h-4.72zM304.68 102.32h4.72v1.25h-4.72zM255.57 103.32h4.72v1.25h-4.72zM277.89 103.32h4.72v1.25h-4.72zM282.36 103.32h4.72v1.25h-4.72zM277.89 104.33h4.72v1.25h-4.72zM304.68 104.33h4.72v1.25h-4.72zM255.57 105.33h4.72v1.25h-4.72zM264.5 105.33h4.72v1.25h-4.72zM277.89 105.33h4.72v1.25h-4.72zM282.36 105.33h4.72v1.25h-4.72zM251.1 106.33h4.72v1.25h-4.72zM282.36 107.34h4.72v1.25h-4.72zM264.5 108.34h4.72v1.25h-4.72zM260.03 109.34h4.72v1.25h-4.72zM264.5 109.34h4.72v1.25h-4.72zM286.82 109.34h4.72v1.25h-4.72zM264.5 110.35h4.72v1.25h-4.72zM277.89 110.35h4.72v1.25h-4.72zM304.68 110.35h4.72v1.25h-4.72zM260.03 111.35h4.72v1.25h-4.72zM255.57 113.36h4.72v1.25h-4.72zM277.89 113.36h4.72v1.25h-4.72zM251.1 114.36h4.72v1.25h-4.72zM255.57 115.36h4.72v1.25h-4.72zM264.5 115.36h4.72v1.25h-4.72zM277.89 115.36h4.72v1.25h-4.72zM282.36 115.36h4.72v1.25h-4.72zM255.57 116.37h4.72v1.25h-4.72zM264.5 116.37h4.72v1.25h-4.72zM277.89 116.37h4.72v1.25h-4.72zM291.29 116.37h4.72v1.25h-4.72zM264.5 117.37h4.72v1.25h-4.72zM282.36 118.37h4.72v1.25h-4.72zM282.36 119.38h4.72v1.25h-4.72zM268.96 120.38h4.72v1.25h-4.72zM260.03 121.38h4.72v1.25h-4.72zM264.5 121.38h4.72v1.25h-4.72zM251.1 122.38h4.72v1.25h-4.72zM260.03 122.38h4.72v1.25h-4.72zM264.5 122.38h4.72v1.25h-4.72zM251.1 123.39h4.72v1.25h-4.72zM264.5 123.39h4.72v1.25h-4.72zM260.03 124.39h4.72v1.25h-4.72zM264.5 124.39h4.72v1.25h-4.72zM268.96 124.39h4.72v1.25h-4.72zM286.82 124.39h4.72v1.25h-4.72zM291.29 124.39h4.72v1.25h-4.72zM304.68 124.39h4.72v1.25h-4.72zM251.1 125.39h4.72v1.25h-4.72zM264.5 125.39h4.72v1.25h-4.72zM273.43 125.39h4.72v1.25h-4.72zM282.36 125.39h4.72v1.25h-4.72zM304.68 125.39h4.72v1.25h-4.72zM286.82 126.4h4.72v1.25h-4.72zM251.1 127.4h4.72v1.25h-4.72zM264.5 128.4h4.72v1.25h-4.72zM282.36 128.4h4.72v1.25h-4.72zM251.1 129.41h4.72v1.25h-4.72zM255.57 129.41h4.72v1.25h-4.72zM277.89 129.41h4.72v1.25h-4.72zM286.82 129.41h4.72v1.25h-4.72zM304.68 129.41h4.72v1.25h-4.72zM264.5 130.41h4.72v1.25h-4.72zM291.29 131.41h4.72v1.25h-4.72zM251.1 133.42h4.72v1.25h-4.72zM286.82 133.42h4.72v1.25h-4.72zM277.89 134.42h4.72v1.25h-4.72zM251.1 135.43h4.72v1.25h-4.72zM264.5 135.43h4.72v1.25h-4.72zM286.82 135.43h4.72v1.25h-4.72zM304.68 135.43h4.72v1.25h-4.72zM255.57 138.43h4.72v1.25h-4.72zM273.43 138.43h4.72v1.25h-4.72zM282.36 138.43h4.72v1.25h-4.72zM255.57 139.44h4.72v1.25h-4.72zM277.89 139.44h4.72v1.25h-4.72zM304.68 139.44h4.72v1.25h-4.72zM264.5 140.44h4.72v1.25h-4.72zM277.89 140.44h4.72v1.25h-4.72zM304.68 141.44h4.72v1.25h-4.72zM331.47 141.44h4.72v1.25h-4.72zM344.87 141.44h4.72v1.25h-4.72zM335.94 144.45h4.72v1.25h-4.72zM335.94 146.46h4.72v1.25h-4.72zM349.33 146.46h4.72v1.25h-4.72zM295.75 147.46h4.72v1.25h-4.72zM304.68 147.46h4.72v1.25h-4.72zM344.87 147.46h4.72v1.25h-4.72zM349.33 147.46h4.72v1.25h-4.72zM331.47 148.47h4.72v1.25h-4.72zM304.68 149.47h4.72v1.25h-4.72zM335.94 149.47h4.72v1.25h-4.72zM340.4 150.47h4.72v1.25h-4.72zM344.87 151.47h4.72v1.25h-4.72zM331.47 152.48h4.72v1.25h-4.72zM349.33 152.48h4.72v1.25h-4.72zM344.87 153.48h4.72v1.25h-4.72zM318.08 154.48h4.72v1.25h-4.72zM322.54 154.48h4.72v1.25h-4.72zM327.01 154.48h4.72v1.25h-4.72zM349.33 154.48h4.72v1.25h-4.72zM335.94 155.49h4.72v1.25h-4.72zM349.33 155.49h4.72v1.25h-4.72zM304.68 156.49h4.72v1.25h-4.72zM313.61 156.49h4.72v1.25h-4.72zM304.68 157.49h4.72v1.25h-4.72zM327.01 158.5h4.72v1.25h-4.72zM340.4 158.5h4.72v1.25h-4.72zM331.47 159.5h4.72v1.25h-4.72zM340.4 159.5h4.72v1.25h-4.72zM331.47 160.5h4.72v1.25h-4.72zM344.87 160.5h4.72v1.25h-4.72zM349.33 160.5h4.72v1.25h-4.72zM304.68 161.51h4.72v1.25h-4.72zM344.87 161.51h4.72v1.25h-4.72zM295.75 162.51h4.72v1.25h-4.72zM304.68 162.51h4.72v1.25h-4.72zM335.94 162.51h4.72v1.25h-4.72zM349.33 162.51h4.72v1.25h-4.72zM340.4 163.51h4.72v1.25h-4.72zM349.33 163.51h4.72v1.25h-4.72zM349.33 165.52h4.72v1.25h-4.72zM349.33 166.52h4.72v1.25h-4.72zM304.68 167.52h4.72v1.25h-4.72zM327.01 168.53h4.72v1.25h-4.72zM331.47 169.53h4.72v1.25h-4.72zM335.94 169.53h4.72v1.25h-4.72zM349.33 169.53h4.72v1.25h-4.72zM318.08 170.53h4.72v1.25h-4.72zM349.33 170.53h4.72v1.25h-4.72zM331.47 171.54h4.72v1.25h-4.72zM340.4 171.54h4.72v1.25h-4.72zM349.33 171.54h4.72v1.25h-4.72zM331.47 172.54h4.72v1.25h-4.72zM340.4 172.54h4.72v1.25h-4.72zM344.87 172.54h4.72v1.25h-4.72zM318.08 173.54h4.72v1.25h-4.72zM335.94 173.54h4.72v1.25h-4.72zM313.61 174.55h4.72v1.25h-4.72zM331.47 174.55h4.72v1.25h-4.72zM304.68 176.55h4.72v1.25h-4.72zM335.94 177.56h4.72v1.25h-4.72zM349.33 178.56h4.72v1.25h-4.72zM304.68 180.57h4.72v1.25h-4.72zM344.87 180.57h4.72v1.25h-4.72zM349.33 180.57h4.72v1.25h-4.72zM340.4 181.57h4.72v1.25h-4.72zM349.33 181.57h4.72v1.25h-4.72zM340.4 182.57h4.72v1.25h-4.72zM349.33 183.57h4.72v1.25h-4.72zM327.01 184.58h4.72v1.25h-4.72zM349.33 184.58h4.72v1.25h-4.72zM349.33 186.58h4.72v1.25h-4.72zM304.68 188.59h4.72v1.25h-4.72zM322.54 188.59h4.72v1.25h-4.72zM349.33 188.59h4.72v1.25h-4.72zM349.33 189.59h4.72v1.25h-4.72zM349.33 190.6h4.72v1.25h-4.72z" fill="#cfeacd"/>
<path d="M260.03 63.2h4.72v1.25h-4.72zM264.5 63.2h4.72v1.25h-4.72zM282.36 63.2h4.72v1.25h-4.72zM304.68 63.2h4.72v1.25h-4.72zM251.1 64.2h4.72v1.25h-4.72zM264.5 66.21h4.72v1.25h-4.72zM268.96 66.21h4.72v1.25h-4.72zM286.82 66.21h4.72v1.25h-4.72zM255.57 67.21h4.72v1.25h-4.72zM260.03 67.21h4.72v1.25h-4.72zM260.03 68.22h4.72v1.25h-4.72zM251.1 69.22h4.72v1.25h-4.72zM264.5 69.22h4.72v1.25h-4.72zM286.82 69.22h4.72v1.25h-4.72zM255.57 70.22h4.72v1.25h-4.72zM264.5 70.22h4.72v1.25h-4.72zM304.68 70.22h4.72v1.25h-4.72zM251.1 71.22h4.72v1.25h-4.72zM286.82 71.22h4.72v1.25h-4.72zM251.1 72.23h4.72v1.25h-4.72zM264.5 72.23h4.72v1.25h-4.72zM277.89 72.23h4.72v1.25h-4.72zM282.36 72.23h4.72v1.25h-4.72zM286.82 72.23h4.72v1.25h-4.72zM255.57 73.23h4.72v1.25h-4.72zM264.5 73.23h4.72v1.25h-4.72zM304.68 73.23h4.72v1.25h-4.72zM313.61 73.23h4.72v1.25h-4.72zM251.1 74.23h4.72v1.25h-4.72zM264.5 74.23h4.72v1.25h-4.72zM268.96 74.23h4.72v1.25h-4.72zM255.57 75.24h4.72v1.25h-4.72zM251.1 76.24h4.72v1.25h-4.72zM255.57 76.24h4.72v1.25h-4.72zM268.96 76.24h4.72v1.25h-4.72zM313.61 76.24h4.72v1.25h-4.72zM255.57 77.24h4.72v1.25h-4.72zM264.5 77.24h4.72v1.25h-4.72zM268.96 77.24h4.72v1.25h-4.72zM304.68 77.24h4.72v1.25h-4.72zM313.61 77.24h4.72v1.25h-4.72zM282.36 78.25h4.72v1.25h-4.72zM255.57 79.25h4.72v1.25h-4.72zM286.82 79.25h4.72v1.25h-4.72zM251.1 80.25h4.72v1.25h-4.72zM255.57 80.25h4.72v1.25h-4.72zM251.1 81.26h4.72v1.25h-4.72zM277.89 81.26h4.72v1.25h-4.72zM291.29 81.26h4.72v1.25h-4.72zM255.57 82.26h4.72v1.25h-4.72zM260.03 82.26h4.72v1.25h-4.72zM268.96 82.26h4.72v1.25h-4.72zM251.1 83.26h4.72v1.25h-4.72zM255.57 83.26h4.72v1.25h-4.72zM260.03 83.26h4.72v1.25h-4.72zM264.5 83.26h4.72v1.25h-4.72zM268.96 83.26h4.72v1.25h-4.72zM260.03 84.27h4.72v1.25h-4.72zM286.82 84.27h4.72v1.25h-4.72zM304.68 84.27h4.72v1.25h-4.72zM255.57 85.27h4.72v1.25h-4.72zM268.96 85.27h4.72v1.25h-4.72zM251.1 86.27h4.72v1.25h-4.72zM255.57 86.27h4.72v1.25h-4.72zM260.03 86.27h4.72v1.25h-4.72zM264.5 86.27h4.72v1.25h-4.72zM268.96 86.27h4.72v1.25h-4.72zM282.36 86.27h4.72v1.25h-4.72zM286.82 86.27h4.72v1.25h-4.72zM251.1 87.28h4.72v1.25h-4.72zM255.57 88.28h4.72v1.25h-4.72zM260.03 88.28h4.72v1.25h-4.72zM268.96 88.28h4.72v1.25h-4.72zM286.82 88.28h4.72v1.25h-4.72zM304.68 88.28h4.72v1.25h-4.72zM313.61 88.28h4.72v1.25h-4.72zM260.03 89.28h4.72v1.25h-4.72zM264.5 89.28h4.72v1.25h-4.72zM268.96 89.28h4.72v1.25h-4.72zM260.03 90.28h4.72v1.25h-4.72zM264.5 90.28h4.72v1.25h-4.72zM268.96 90.28h4.72v1.25h-4.72zM282.36 90.28h4.72v1.25h-4.72zM286.82 90.28h4.72v1.25h-4.72zM304.68 90.28h4.72v1.25h-4.72zM255.57 91.29h4.72v1.25h-4.72zM264.5 91.29h4.72v1.25h-4.72zM304.68 91.29h4.72v1.25h-4.72zM313.61 91.29h4.72v1.25h-4.72zM264.5 92.29h4.72v1.25h-4.72zM268.96 92.29h4.72v1.25h-4.72zM286.82 92.29h4.72v1.25h-4.72zM304.68 92.29h4.72v1.25h-4.72zM260.03 93.29h4.72v1.25h-4.72zM268.96 93.29h4.72v1.25h-4.72zM282.36 93.29h4.72v1.25h-4.72zM304.68 93.29h4.72v1.25h-4.72zM260.03 94.3h4.72v1.25h-4.72zM304.68 94.3h4.72v1.25h-4.72zM313.61 94.3h4.72v1.25h-4.72zM286.82 95.3h4.72v1.25h-4.72zM304.68 95.3h4.72v1.25h-4.72zM286.82 96.3h4.72v1.25h-4.72zM260.03 97.31h4.72v1.25h-4.72zM264.5 97.31h4.72v1.25h-4.72zM251.1 98.31h4.72v1.25h-4.72zM260.03 98.31h4.72v1.25h-4.72zM282.36 98.31h4.72v1.25h-4.72zM286.82 98.31h4.72v1.25h-4.72zM313.61 98.31h4.72v1.25h-4.72zM251.1 99.31h4.72v1.25h-4.72zM255.57 99.31h4.72v1.25h-4.72zM260.03 99.31h4.72v1.25h-4.72zM255.57 101.32h4.72v1.25h-4.72zM260.03 101.32h4.72v1.25h-4.72zM251.1 102.32h4.72v1.25h-4.72zM291.29 102.32h4.72v1.25h-4.72zM309.15 102.32h4.72v1.25h-4.72zM344.87 102.32h4.72v1.25h-4.72zM264.5 103.32h4.72v1.25h-4.72zM264.5 104.33h4.72v1.25h-4.72zM251.1 105.33h4.72v1.25h-4.72zM304.68 105.33h4.72v1.25h-4.72zM268.96 106.33h4.72v1.25h-4.72zM304.68 106.33h4.72v1.25h-4.72zM277.89 107.34h4.72v1.25h-4.72zM251.1 108.34h4.72v1.25h-4.72zM268.96 108.34h4.72v1.25h-4.72zM251.1 109.34h4.72v1.25h-4.72zM304.68 109.34h4.72v1.25h-4.72zM273.43 111.35h4.72v1.25h-4.72zM286.82 111.35h4.72v1.25h-4.72zM264.5 112.35h4.72v1.25h-4.72zM268.96 112.35h4.72v1.25h-4.72zM251.1 113.36h4.72v1.25h-4.72zM260.03 113.36h4.72v1.25h-4.72zM268.96 113.36h4.72v1.25h-4.72zM304.68 113.36h4.72v1.25h-4.72zM251.1 115.36h4.72v1.25h-4.72zM260.03 115.36h4.72v1.25h-4.72zM260.03 116.37h4.72v1.25h-4.72zM282.36 116.37h4.72v1.25h-4.72zM286.82 116.37h4.72v1.25h-4.72zM304.68 116.37h4.72v1.25h-4.72zM282.36 117.37h4.72v1.25h-4.72zM291.29 117.37h4.72v1.25h-4.72zM304.68 117.37h4.72v1.25h-4.72zM313.61 117.37h4.72v1.25h-4.72zM344.87 117.37h4.72v1.25h-4.72zM251.1 118.37h4.72v1.25h-4.72zM255.57 118.37h4.72v1.25h-4.72zM260.03 118.37h4.72v1.25h-4.72zM304.68 118.37h4.72v1.25h-4.72zM313.61 118.37h4.72v1.25h-4.72zM260.03 119.38h4.72v1.25h-4.72zM277.89 119.38h4.72v1.25h-4.72zM251.1 120.38h4.72v1.25h-4.72zM286.82 120.38h4.72v1.25h-4.72zM304.68 120.38h4.72v1.25h-4.72zM286.82 121.38h4.72v1.25h-4.72zM255.57 122.38h4.72v1.25h-4.72zM255.57 123.39h4.72v1.25h-4.72zM260.03 123.39h4.72v1.25h-4.72zM291.29 123.39h4.72v1.25h-4.72zM304.68 123.39h4.72v1.25h-4.72zM255.57 124.39h4.72v1.25h-4.72zM255.57 125.39h4.72v1.25h-4.72zM286.82 125.39h4.72v1.25h-4.72zM251.1 126.4h4.72v1.25h-4.72zM260.03 126.4h4.72v1.25h-4.72zM268.96 126.4h4.72v1.25h-4.72zM291.29 126.4h4.72v1.25h-4.72zM264.5 127.4h4.72v1.25h-4.72zM304.68 127.4h4.72v1.25h-4.72zM273.43 128.4h4.72v1.25h-4.72zM277.89 128.4h4.72v1.25h-4.72zM286.82 128.4h4.72v1.25h-4.72zM304.68 128.4h4.72v1.25h-4.72zM313.61 128.4h4.72v1.25h-4.72zM264.5 129.41h4.72v1.25h-4.72zM251.1 130.41h4.72v1.25h-4.72zM255.57 130.41h4.72v1.25h-4.72zM268.96 131.41h4.72v1.25h-4.72zM286.82 131.41h4.72v1.25h-4.72zM251.1 132.42h4.72v1.25h-4.72zM286.82 132.42h4.72v1.25h-4.72zM268.96 133.42h4.72v1.25h-4.72zM291.29 133.42h4.72v1.25h-4.72zM304.68 133.42h4.72v1.25h-4.72zM251.1 134.42h4.72v1.25h-4.72zM260.03 135.43h4.72v1.25h-4.72zM264.5 136.43h4.72v1.25h-4.72zM273.43 136.43h4.72v1.25h-4.72zM255.57 137.43h4.72v1.25h-4.72zM304.68 137.43h4.72v1.25h-4.72zM260.03 138.43h4.72v1.25h-4.72zM268.96 138.43h4.72v1.25h-4.72zM291.29 138.43h4.72v1.25h-4.72zM304.68 138.43h4.72v1.25h-4.72zM268.96 139.44h4.72v1.25h-4.72zM286.82 139.44h4.72v1.25h-4.72zM291.29 139.44h4.72v1.25h-4.72zM309.15 139.44h4.72v1.25h-4.72zM255.57 140.44h4.72v1.25h-4.72zM282.36 140.44h4.72v1.25h-4.72zM322.54 141.44h4.72v1.25h-4.72zM291.29 142.45h4.72v1.25h-4.72zM304.68 142.45h4.72v1.25h-4.72zM309.15 142.45h4.72v1.25h-4.72zM313.61 143.45h4.72v1.25h-4.72zM344.87 143.45h4.72v1.25h-4.72zM349.33 143.45h4.72v1.25h-4.72zM309.15 144.45h4.72v1.25h-4.72zM327.01 144.45h4.72v1.25h-4.72zM291.29 145.46h4.72v1.25h-4.72zM304.68 145.46h4.72v1.25h-4.72zM313.61 145.46h4.72v1.25h-4.72zM344.87 145.46h4.72v1.25h-4.72zM304.68 146.46h4.72v1.25h-4.72zM304.68 148.47h4.72v1.25h-4.72zM295.75 150.47h4.72v1.25h-4.72zM304.68 150.47h4.72v1.25h-4.72zM313.61 150.47h4.72v1.25h-4.72zM304.68 151.47h4.72v1.25h-4.72zM335.94 151.47h4.72v1.25h-4.72zM340.4 151.47h4.72v1.25h-4.72zM304.68 152.48h4.72v1.25h-4.72zM340.4 152.48h4.72v1.25h-4.72zM304.68 153.48h4.72v1.25h-4.72zM335.94 153.48h4.72v1.25h-4.72zM304.68 155.49h4.72v1.25h-4.72zM313.61 155.49h4.72v1.25h-4.72zM304.68 158.5h4.72v1.25h-4.72zM349.33 158.5h4.72v1.25h-4.72zM304.68 159.5h4.72v1.25h-4.72zM313.61 159.5h4.72v1.25h-4.72zM304.68 160.5h4.72v1.25h-4.72zM318.08 160.5h4.72v1.25h-4.72zM335.94 160.5h4.72v1.25h-4.72zM291.29 161.51h4.72v1.25h-4.72zM260.03 162.51h4.72v1.25h-4.72zM291.29 162.51h4.72v1.25h-4.72zM291.29 163.51h4.72v1.25h-4.72zM304.68 163.51h4.72v1.25h-4.72zM291.29 164.52h4.72v1.25h-4.72zM300.22 164.52h4.72v1.25h-4.72zM313.61 164.52h4.72v1.25h-4.72zM331.47 164.52h4.72v1.25h-4.72zM295.75 165.52h4.72v1.25h-4.72zM313.61 165.52h4.72v1.25h-4.72zM344.87 168.53h4.72v1.25h-4.72zM295.75 170.53h4.72v1.25h-4.72zM304.68 170.53h4.72v1.25h-4.72zM304.68 171.54h4.72v1.25h-4.72zM344.87 171.54h4.72v1.25h-4.72zM304.68 172.54h4.72v1.25h-4.72zM295.75 174.55h4.72v1.25h-4.72zM291.29 175.55h4.72v1.25h-4.72zM335.94 175.55h4.72v1.25h-4.72zM291.29 176.55h4.72v1.25h-4.72zM349.33 176.55h4.72v1.25h-4.72zM260.03 177.56h4.72v1.25h-4.72zM313.61 177.56h4.72v1.25h-4.72zM331.47 177.56h4.72v1.25h-4.72zM286.82 178.56h4.72v1.25h-4.72zM291.29 178.56h4.72v1.25h-4.72zM295.75 178.56h4.72v1.25h-4.72zM313.61 178.56h4.72v1.25h-4.72zM291.29 179.56h4.72v1.25h-4.72zM349.33 179.56h4.72v1.25h-4.72zM260.03 180.57h4.72v1.25h-4.72zM291.29 180.57h4.72v1.25h-4.72zM313.61 180.57h4.72v1.25h-4.72zM335.94 180.57h4.72v1.25h-4.72zM331.47 181.57h4.72v1.25h-4.72zM304.68 182.57h4.72v1.25h-4.72zM349.33 182.57h4.72v1.25h-4.72zM304.68 183.57h4.72v1.25h-4.72zM344.87 183.57h4.72v1.25h-4.72zM304.68 184.58h4.72v1.25h-4.72zM313.61 184.58h4.72v1.25h-4.72zM349.33 185.58h4.72v1.25h-4.72zM291.29 186.58h4.72v1.25h-4.72zM304.68 186.58h4.72v1.25h-4.72zM318.08 186.58h4.72v1.25h-4.72zM322.54 186.58h4.72v1.25h-4.72zM291.29 187.59h4.72v1.25h-4.72zM331.47 188.59h4.72v1.25h-4.72zM295.75 190.6h4.72v1.25h-4.72zM313.61 190.6h4.72v1.25h-4.72z" fill="#c1e2c0"/>
<path d="M251.1 63.2h4.72v1.25h-4.72zM286.82 63.2h4.72v1.25h-4.72zM291.29 63.2h4.72v1.25h-4.72zM255.57 64.2h4.72v1.25h-4.72zM260.03 64.2h4.72v1.25h-4.72zM344.87 64.2h4.72v1.25h-4.72zM286.82 65.21h4.72v1.25h-4.72zM309.15 65.21h4.72v1.25h-4.72zM291.29 66.21h4.72v1.25h-4.72zM304.68 66.21h4.72v1.25h-4.72zM313.61 66.21h4.72v1.25h-4.72zM313.61 67.21h4.72v1.25h-4.72zM264.5 68.22h4.72v1.25h-4.72zM304.68 68.22h4.72v1.25h-4.72zM255.57 69.22h4.72v1.25h-4.72zM268.96 69.22h4.72v1.25h-4.72zM304.68 69.22h4.72v1.25h-4.72zM251.1 70.22h4.72v1.25h-4.72zM260.03 70.22h4.72v1.25h-4.72zM268.96 70.22h4.72v1.25h-4.72zM286.82 70.22h4.72v1.25h-4.72zM309.15 70.22h4.72v1.25h-4.72zM268.96 71.22h4.72v1.25h-4.72zM313.61 72.23h4.72v1.25h-4.72zM260.03 73.23h4.72v1.25h-4.72zM286.82 73.23h4.72v1.25h-4.72zM309.15 73.23h4.72v1.25h-4.72zM286.82 74.23h4.72v1.25h-4.72zM313.61 74.23h4.72v1.25h-4.72zM286.82 75.24h4.72v1.25h-4.72zM291.29 75.24h4.72v1.25h-4.72zM313.61 75.24h4.72v1.25h-4.72zM260.03 76.24h4.72v1.25h-4.72zM264.5 76.24h4.72v1.25h-4.72zM309.15 76.24h4.72v1.25h-4.72zM251.1 77.24h4.72v1.25h-4.72zM260.03 77.24h4.72v1.25h-4.72zM286.82 77.24h4.72v1.25h-4.72zM255.57 78.25h4.72v1.25h-4.72zM260.03 78.25h4.72v1.25h-4.72zM277.89 78.25h4.72v1.25h-4.72zM309.15 78.25h4.72v1.25h-4.72zM251.1 79.25h4.72v1.25h-4.72zM260.03 79.25h4.72v1.25h-4.72zM291.29 79.25h4.72v1.25h-4.72zM313.61 79.25h4.72v1.25h-4.72zM268.96 80.25h4.72v1.25h-4.72zM291.29 80.25h4.72v1.25h-4.72zM295.75 80.25h4.72v1.25h-4.72zM309.15 80.25h4.72v1.25h-4.72zM309.15 81.26h4.72v1.25h-4.72zM282.36 82.26h4.72v1.25h-4.72zM286.82 82.26h4.72v1.25h-4.72zM291.29 82.26h4.72v1.25h-4.72zM309.15 82.26h4.72v1.25h-4.72zM344.87 82.26h4.72v1.25h-4.72zM286.82 83.26h4.72v1.25h-4.72zM291.29 83.26h4.72v1.25h-4.72zM304.68 83.26h4.72v1.25h-4.72zM313.61 83.26h4.72v1.25h-4.72zM251.1 84.27h4.72v1.25h-4.72zM268.96 84.27h4.72v1.25h-4.72zM291.29 84.27h4.72v1.25h-4.72zM313.61 84.27h4.72v1.25h-4.72zM273.43 85.27h4.72v1.25h-4.72zM286.82 85.27h4.72v1.25h-4.72zM291.29 86.27h4.72v1.25h-4.72zM344.87 86.27h4.72v1.25h-4.72zM291.29 87.28h4.72v1.25h-4.72zM304.68 87.28h4.72v1.25h-4.72zM309.15 87.28h4.72v1.25h-4.72zM291.29 88.28h4.72v1.25h-4.72zM309.15 88.28h4.72v1.25h-4.72zM251.1 89.28h4.72v1.25h-4.72zM255.57 89.28h4.72v1.25h-4.72zM286.82 89.28h4.72v1.25h-4.72zM255.57 90.28h4.72v1.25h-4.72zM291.29 90.28h4.72v1.25h-4.72zM344.87 90.28h4.72v1.25h-4.72zM286.82 91.29h4.72v1.25h-4.72zM309.15 91.29h4.72v1.25h-4.72zM251.1 92.29h4.72v1.25h-4.72zM255.57 93.29h4.72v1.25h-4.72zM313.61 93.29h4.72v1.25h-4.72zM268.96 94.3h4.72v1.25h-4.72zM309.15 94.3h4.72v1.25h-4.72zM344.87 94.3h4.72v1.25h-4.72zM260.03 95.3h4.72v1.25h-4.72zM268.96 95.3h4.72v1.25h-4.72zM291.29 95.3h4.72v1.25h-4.72zM313.61 95.3h4.72v1.25h-4.72zM264.5 96.3h4.72v1.25h-4.72zM295.75 96.3h4.72v1.25h-4.72zM251.1 97.31h4.72v1.25h-4.72zM255.57 97.31h4.72v1.25h-4.72zM268.96 97.31h4.72v1.25h-4.72zM286.82 97.31h4.72v1.25h-4.72zM304.68 97.31h4.72v1.25h-4.72zM313.61 97.31h4.72v1.25h-4.72zM255.57 98.31h4.72v1.25h-4.72zM291.29 98.31h4.72v1.25h-4.72zM309.15 98.31h4.72v1.25h-4.72zM264.5 99.31h4.72v1.25h-4.72zM304.68 99.31h4.72v1.25h-4.72zM313.61 99.31h4.72v1.25h-4.72zM260.03 100.32h4.72v1.25h-4.72zM304.68 100.32h4.72v1.25h-4.72zM251.1 101.32h4.72v1.25h-4.72zM286.82 101.32h4.72v1.25h-4.72zM291.29 101.32h4.72v1.25h-4.72zM304.68 101.32h4.72v1.25h-4.72zM255.57 102.32h4.72v1.25h-4.72zM286.82 102.32h4.72v1.25h-4.72zM260.03 103.32h4.72v1.25h-4.72zM268.96 103.32h4.72v1.25h-4.72zM291.29 103.32h4.72v1.25h-4.72zM304.68 103.32h4.72v1.25h-4.72zM268.96 104.33h4.72v1.25h-4.72zM344.87 104.33h4.72v1.25h-4.72zM260.03 105.33h4.72v1.25h-4.72zM286.82 105.33h4.72v1.25h-4.72zM291.29 105.33h4.72v1.25h-4.72zM282.36 106.33h4.72v1.25h-4.72zM286.82 106.33h4.72v1.25h-4.72zM291.29 106.33h4.72v1.25h-4.72zM309.15 106.33h4.72v1.25h-4.72zM313.61 106.33h4.72v1.25h-4.72zM260.03 107.34h4.72v1.25h-4.72zM264.5 107.34h4.72v1.25h-4.72zM286.82 107.34h4.72v1.25h-4.72zM313.61 107.34h4.72v1.25h-4.72zM255.57 108.34h4.72v1.25h-4.72zM260.03 108.34h4.72v1.25h-4.72zM286.82 108.34h4.72v1.25h-4.72zM291.29 108.34h4.72v1.25h-4.72zM304.68 108.34h4.72v1.25h-4.72zM309.15 108.34h4.72v1.25h-4.72zM313.61 108.34h4.72v1.25h-4.72zM268.96 109.34h4.72v1.25h-4.72zM309.15 109.34h4.72v1.25h-4.72zM313.61 109.34h4.72v1.25h-4.72zM260.03 110.35h4.72v1.25h-4.72zM291.29 110.35h4.72v1.25h-4.72zM251.1 111.35h4.72v1.25h-4.72zM255.57 111.35h4.72v1.25h-4.72zM313.61 111.35h4.72v1.25h-4.72zM251.1 112.35h4.72v1.25h-4.72zM255.57 112.35h4.72v1.25h-4.72zM260.03 112.35h4.72v1.25h-4.72zM286.82 112.35h4.72v1.25h-4.72zM304.68 112.35h4.72v1.25h-4.72zM313.61 112.35h4.72v1.25h-4.72zM264.5 113.36h4.72v1.25h-4.72zM282.36 113.36h4.72v1.25h-4.72zM286.82 113.36h4.72v1.25h-4.72zM291.29 113.36h4.72v1.25h-4.72zM309.15 113.36h4.72v1.25h-4.72zM313.61 113.36h4.72v1.25h-4.72zM335.94 113.36h4.72v1.25h-4.72zM286.82 114.36h4.72v1.25h-4.72zM273.43 115.36h4.72v1.25h-4.72zM291.29 115.36h4.72v1.25h-4.72zM304.68 115.36h4.72v1.25h-4.72zM251.1 116.37h4.72v1.25h-4.72zM268.96 116.37h4.72v1.25h-4.72zM313.61 116.37h4.72v1.25h-4.72zM268.96 117.37h4.72v1.25h-4.72zM295.75 117.37h4.72v1.25h-4.72zM277.89 118.37h4.72v1.25h-4.72zM286.82 118.37h4.72v1.25h-4.72zM291.29 118.37h4.72v1.25h-4.72zM309.15 118.37h4.72v1.25h-4.72zM313.61 119.38h4.72v1.25h-4.72zM255.57 120.38h4.72v1.25h-4.72zM260.03 120.38h4.72v1.25h-4.72zM264.5 120.38h4.72v1.25h-4.72zM291.29 120.38h4.72v1.25h-4.72zM251.1 121.38h4.72v1.25h-4.72zM268.96 121.38h4.72v1.25h-4.72zM304.68 121.38h4.72v1.25h-4.72zM268.96 122.38h4.72v1.25h-4.72zM282.36 122.38h4.72v1.25h-4.72zM291.29 122.38h4.72v1.25h-4.72zM304.68 122.38h4.72v1.25h-4.72zM309.15 122.38h4.72v1.25h-4.72zM313.61 122.38h4.72v1.25h-4.72zM313.61 123.39h4.72v1.25h-4.72zM309.15 124.39h4.72v1.25h-4.72zM313.61 124.39h4.72v1.25h-4.72zM268.96 125.39h4.72v1.25h-4.72zM304.68 126.4h4.72v1.25h-4.72zM313.61 126.4h4.72v1.25h-4.72zM268.96 127.4h4.72v1.25h-4.72zM286.82 127.4h4.72v1.25h-4.72zM295.75 127.4h4.72v1.25h-4.72zM344.87 127.4h4.72v1.25h-4.72zM344.87 128.4h4.72v1.25h-4.72zM291.29 129.41h4.72v1.25h-4.72zM309.15 129.41h4.72v1.25h-4.72zM313.61 129.41h4.72v1.25h-4.72zM268.96 130.41h4.72v1.25h-4.72zM286.82 130.41h4.72v1.25h-4.72zM291.29 130.41h4.72v1.25h-4.72zM251.1 131.41h4.72v1.25h-4.72zM255.57 132.42h4.72v1.25h-4.72zM260.03 132.42h4.72v1.25h-4.72zM268.96 132.42h4.72v1.25h-4.72zM291.29 132.42h4.72v1.25h-4.72zM255.57 134.42h4.72v1.25h-4.72zM268.96 134.42h4.72v1.25h-4.72zM286.82 134.42h4.72v1.25h-4.72zM291.29 135.43h4.72v1.25h-4.72zM295.75 135.43h4.72v1.25h-4.72zM268.96 136.43h4.72v1.25h-4.72zM286.82 136.43h4.72v1.25h-4.72zM304.68 136.43h4.72v1.25h-4.72zM251.1 137.43h4.72v1.25h-4.72zM260.03 137.43h4.72v1.25h-4.72zM264.5 138.43h4.72v1.25h-4.72zM286.82 138.43h4.72v1.25h-4.72zM313.61 138.43h4.72v1.25h-4.72zM313.61 139.44h4.72v1.25h-4.72zM251.1 140.44h4.72v1.25h-4.72zM260.03 140.44h4.72v1.25h-4.72zM268.96 140.44h4.72v1.25h-4.72zM304.68 140.44h4.72v1.25h-4.72zM260.03 141.44h4.72v1.25h-4.72zM295.75 141.44h4.72v1.25h-4.72zM300.22 141.44h4.72v1.25h-4.72zM286.82 142.45h4.72v1.25h-4.72zM295.75 142.45h4.72v1.25h-4.72zM313.61 142.45h4.72v1.25h-4.72zM260.03 143.45h4.72v1.25h-4.72zM291.29 143.45h4.72v1.25h-4.72zM295.75 143.45h4.72v1.25h-4.72zM295.75 144.45h4.72v1.25h-4.72zM260.03 145.46h4.72v1.25h-4.72zM295.75 145.46h4.72v1.25h-4.72zM295.75 146.46h4.72v1.25h-4.72zM313.61 146.46h4.72v1.25h-4.72zM260.03 147.46h4.72v1.25h-4.72zM264.5 147.46h4.72v1.25h-4.72zM286.82 147.46h4.72v1.25h-4.72zM260.03 148.47h4.72v1.25h-4.72zM286.82 148.47h4.72v1.25h-4.72zM313.61 148.47h4.72v1.25h-4.72zM335.94 148.47h4.72v1.25h-4.72zM260.03 149.47h4.72v1.25h-4.72zM313.61 149.47h4.72v1.25h-4.72zM295.75 151.47h4.72v1.25h-4.72zM300.22 151.47h4.72v1.25h-4.72zM291.29 152.48h4.72v1.25h-4.72zM313.61 152.48h4.72v1.25h-4.72zM335.94 152.48h4.72v1.25h-4.72zM286.82 153.48h4.72v1.25h-4.72zM291.29 153.48h4.72v1.25h-4.72zM295.75 153.48h4.72v1.25h-4.72zM313.61 153.48h4.72v1.25h-4.72zM340.4 153.48h4.72v1.25h-4.72zM286.82 154.48h4.72v1.25h-4.72zM304.68 154.48h4.72v1.25h-4.72zM313.61 154.48h4.72v1.25h-4.72zM260.03 155.49h4.72v1.25h-4.72zM286.82 155.49h4.72v1.25h-4.72zM309.15 155.49h4.72v1.25h-4.72zM260.03 156.49h4.72v1.25h-4.72zM291.29 156.49h4.72v1.25h-4.72zM295.75 156.49h4.72v1.25h-4.72zM309.15 156.49h4.72v1.25h-4.72zM344.87 156.49h4.72v1.25h-4.72zM349.33 156.49h4.72v1.25h-4.72zM260.03 157.49h4.72v1.25h-4.72zM286.82 157.49h4.72v1.25h-4.72zM291.29 157.49h4.72v1.25h-4.72zM295.75 157.49h4.72v1.25h-4.72zM300.22 157.49h4.72v1.25h-4.72zM313.61 157.49h4.72v1.25h-4.72zM313.61 158.5h4.72v1.25h-4.72zM331.47 158.5h4.72v1.25h-4.72zM335.94 158.5h4.72v1.25h-4.72zM286.82 159.5h4.72v1.25h-4.72zM295.75 159.5h4.72v1.25h-4.72zM291.29 160.5h4.72v1.25h-4.72zM295.75 160.5h4.72v1.25h-4.72zM313.61 161.51h4.72v1.25h-4.72zM327.01 161.51h4.72v1.25h-4.72zM349.33 161.51h4.72v1.25h-4.72zM286.82 162.51h4.72v1.25h-4.72zM300.22 162.51h4.72v1.25h-4.72zM313.61 162.51h4.72v1.25h-4.72zM286.82 163.51h4.72v1.25h-4.72zM295.75 163.51h4.72v1.25h-4.72zM313.61 163.51h4.72v1.25h-4.72zM286.82 164.52h4.72v1.25h-4.72zM304.68 164.52h4.72v1.25h-4.72zM286.82 165.52h4.72v1.25h-4.72zM300.22 165.52h4.72v1.25h-4.72zM304.68 165.52h4.72v1.25h-4.72zM309.15 165.52h4.72v1.25h-4.72zM331.47 165.52h4.72v1.25h-4.72zM335.94 165.52h4.72v1.25h-4.72zM286.82 166.52h4.72v1.25h-4.72zM295.75 166.52h4.72v1.25h-4.72zM313.61 166.52h4.72v1.25h-4.72zM286.82 167.52h4.72v1.25h-4.72zM291.29 167.52h4.72v1.25h-4.72zM295.75 167.52h4.72v1.25h-4.72zM340.4 167.52h4.72v1.25h-4.72zM260.03 168.53h4.72v1.25h-4.72zM286.82 168.53h4.72v1.25h-4.72zM291.29 168.53h4.72v1.25h-4.72zM304.68 168.53h4.72v1.25h-4.72zM335.94 168.53h4.72v1.25h-4.72zM340.4 168.53h4.72v1.25h-4.72zM291.29 169.53h4.72v1.25h-4.72zM313.61 169.53h4.72v1.25h-4.72zM322.54 170.53h4.72v1.25h-4.72zM291.29 171.54h4.72v1.25h-4.72zM260.03 172.54h4.72v1.25h-4.72zM295.75 175.55h4.72v1.25h-4.72zM286.82 176.55h4.72v1.25h-4.72zM291.29 177.56h4.72v1.25h-4.72zM295.75 177.56h4.72v1.25h-4.72zM300.22 177.56h4.72v1.25h-4.72zM309.15 177.56h4.72v1.25h-4.72zM260.03 178.56h4.72v1.25h-4.72zM309.15 178.56h4.72v1.25h-4.72zM260.03 179.56h4.72v1.25h-4.72zM286.82 179.56h4.72v1.25h-4.72zM304.68 179.56h4.72v1.25h-4.72zM340.4 179.56h4.72v1.25h-4.72zM295.75 180.57h4.72v1.25h-4.72zM300.22 180.57h4.72v1.25h-4.72zM260.03 182.57h4.72v1.25h-4.72zM291.29 182.57h4.72v1.25h-4.72zM309.15 182.57h4.72v1.25h-4.72zM313.61 183.57h4.72v1.25h-4.72zM260.03 184.58h4.72v1.25h-4.72zM286.82 184.58h4.72v1.25h-4.72zM295.75 184.58h4.72v1.25h-4.72zM322.54 184.58h4.72v1.25h-4.72zM264.5 185.58h4.72v1.25h-4.72zM304.68 185.58h4.72v1.25h-4.72zM282.36 186.58h4.72v1.25h-4.72zM286.82 186.58h4.72v1.25h-4.72zM327.01 186.58h4.72v1.25h-4.72zM331.47 186.58h4.72v1.25h-4.72zM335.94 186.58h4.72v1.25h-4.72zM286.82 187.59h4.72v1.25h-4.72zM295.75 187.59h4.72v1.25h-4.72zM300.22 187.59h4.72v1.25h-4.72zM313.61 187.59h4.72v1.25h-4.72zM260.03 188.59h4.72v1.25h-4.72zM286.82 188.59h4.72v1.25h-4.72zM291.29 188.59h4.72v1.25h-4.72zM295.75 188.59h4.72v1.25h-4.72zM313.61 188.59h4.72v1.25h-4.72zM260.03 189.59h4.72v1.25h-4.72zM295.75 189.59h4.72v1.25h-4.72zM313.61 189.59h4.72v1.25h-4.72zM260.03 190.6h4.72v1.25h-4.72zM286.82 190.6h4.72v1.25h-4.72zM322.54 190.6h4.72v1.25h-4.72zM340.4 190.6h4.72v1.25h-4.72z" fill="#b3dbb3"/>
<path d="M255.57 63.2h4.72v1.25h-4.72zM268.96 63.2h4.72v1.25h-4.72zM313.61 63.2h4.72v1.25h-4.72zM268.96 64.2h4.72v1.25h-4.72zM300.22 64.2h4.72v1.25h-4.72zM335.94 64.2h4.72v1.25h-4.72zM268.96 65.21h4.72v1.25h-4.72zM295.75 65.21h4.72v1.25h-4.72zM313.61 65.21h4.72v1.25h-4.72zM344.87 65.21h4.72v1.25h-4.72zM264.5 67.21h4.72v1.25h-4.72zM291.29 67.21h4.72v1.25h-4.72zM300.22 67.21h4.72v1.25h-4.72zM277.89 68.22h4.72v1.25h-4.72zM286.82 68.22h4.72v1.25h-4.72zM313.61 68.22h4.72v1.25h-4.72zM273.43 69.22h4.72v1.25h-4.72zM309.15 69.22h4.72v1.25h-4.72zM291.29 70.22h4.72v1.25h-4.72zM313.61 70.22h4.72v1.25h-4.72zM291.29 71.22h4.72v1.25h-4.72zM313.61 71.22h4.72v1.25h-4.72zM344.87 71.22h4.72v1.25h-4.72zM268.96 72.23h4.72v1.25h-4.72zM268.96 73.23h4.72v1.25h-4.72zM291.29 73.23h4.72v1.25h-4.72zM300.22 73.23h4.72v1.25h-4.72zM344.87 73.23h4.72v1.25h-4.72zM291.29 74.23h4.72v1.25h-4.72zM304.68 74.23h4.72v1.25h-4.72zM309.15 74.23h4.72v1.25h-4.72zM340.4 74.23h4.72v1.25h-4.72zM295.75 75.24h4.72v1.25h-4.72zM282.36 76.24h4.72v1.25h-4.72zM344.87 76.24h4.72v1.25h-4.72zM349.33 76.24h4.72v1.25h-4.72zM309.15 77.24h4.72v1.25h-4.72zM340.4 77.24h4.72v1.25h-4.72zM344.87 77.24h4.72v1.25h-4.72zM268.96 78.25h4.72v1.25h-4.72zM313.61 78.25h4.72v1.25h-4.72zM335.94 78.25h4.72v1.25h-4.72zM300.22 79.25h4.72v1.25h-4.72zM304.68 79.25h4.72v1.25h-4.72zM309.15 79.25h4.72v1.25h-4.72zM286.82 80.25h4.72v1.25h-4.72zM300.22 80.25h4.72v1.25h-4.72zM304.68 80.25h4.72v1.25h-4.72zM335.94 80.25h4.72v1.25h-4.72zM286.82 81.26h4.72v1.25h-4.72zM304.68 81.26h4.72v1.25h-4.72zM313.61 81.26h4.72v1.25h-4.72zM304.68 82.26h4.72v1.25h-4.72zM335.94 82.26h4.72v1.25h-4.72zM295.75 83.26h4.72v1.25h-4.72zM309.15 83.26h4.72v1.25h-4.72zM300.22 84.27h4.72v1.25h-4.72zM340.4 84.27h4.72v1.25h-4.72zM344.87 84.27h4.72v1.25h-4.72zM277.89 85.27h4.72v1.25h-4.72zM304.68 85.27h4.72v1.25h-4.72zM313.61 85.27h4.72v1.25h-4.72zM295.75 86.27h4.72v1.25h-4.72zM309.15 86.27h4.72v1.25h-4.72zM313.61 86.27h4.72v1.25h-4.72zM268.96 87.28h4.72v1.25h-4.72zM295.75 87.28h4.72v1.25h-4.72zM313.61 87.28h4.72v1.25h-4.72zM340.4 87.28h4.72v1.25h-4.72zM264.5 88.28h4.72v1.25h-4.72zM295.75 88.28h4.72v1.25h-4.72zM300.22 88.28h4.72v1.25h-4.72zM300.22 89.28h4.72v1.25h-4.72zM309.15 89.28h4.72v1.25h-4.72zM313.61 89.28h4.72v1.25h-4.72zM349.33 90.28h4.72v1.25h-4.72zM291.29 91.29h4.72v1.25h-4.72zM260.03 92.29h4.72v1.25h-4.72zM295.75 92.29h4.72v1.25h-4.72zM313.61 92.29h4.72v1.25h-4.72zM286.82 93.29h4.72v1.25h-4.72zM291.29 93.29h4.72v1.25h-4.72zM295.75 93.29h4.72v1.25h-4.72zM309.15 93.29h4.72v1.25h-4.72zM335.94 93.29h4.72v1.25h-4.72zM344.87 93.29h4.72v1.25h-4.72zM349.33 94.3h4.72v1.25h-4.72zM295.75 95.3h4.72v1.25h-4.72zM309.15 95.3h4.72v1.25h-4.72zM260.03 96.3h4.72v1.25h-4.72zM291.29 96.3h4.72v1.25h-4.72zM309.15 96.3h4.72v1.25h-4.72zM313.61 96.3h4.72v1.25h-4.72zM344.87 96.3h4.72v1.25h-4.72zM309.15 97.31h4.72v1.25h-4.72zM349.33 97.31h4.72v1.25h-4.72zM344.87 98.31h4.72v1.25h-4.72zM286.82 99.31h4.72v1.25h-4.72zM291.29 99.31h4.72v1.25h-4.72zM309.15 99.31h4.72v1.25h-4.72zM286.82 100.32h4.72v1.25h-4.72zM291.29 100.32h4.72v1.25h-4.72zM309.15 100.32h4.72v1.25h-4.72zM268.96 101.32h4.72v1.25h-4.72zM309.15 101.32h4.72v1.25h-4.72zM295.75 102.32h4.72v1.25h-4.72zM313.61 102.32h4.72v1.25h-4.72zM251.1 103.32h4.72v1.25h-4.72zM286.82 103.32h4.72v1.25h-4.72zM309.15 103.32h4.72v1.25h-4.72zM313.61 103.32h4.72v1.25h-4.72zM344.87 103.32h4.72v1.25h-4.72zM255.57 104.33h4.72v1.25h-4.72zM260.03 104.33h4.72v1.25h-4.72zM286.82 104.33h4.72v1.25h-4.72zM291.29 104.33h4.72v1.25h-4.72zM295.75 104.33h4.72v1.25h-4.72zM309.15 104.33h4.72v1.25h-4.72zM313.61 104.33h4.72v1.25h-4.72zM268.96 105.33h4.72v1.25h-4.72zM300.22 105.33h4.72v1.25h-4.72zM313.61 105.33h4.72v1.25h-4.72zM344.87 105.33h4.72v1.25h-4.72zM255.57 106.33h4.72v1.25h-4.72zM264.5 106.33h4.72v1.25h-4.72zM295.75 106.33h4.72v1.25h-4.72zM344.87 106.33h4.72v1.25h-4.72zM349.33 106.33h4.72v1.25h-4.72zM291.29 107.34h4.72v1.25h-4.72zM295.75 107.34h4.72v1.25h-4.72zM300.22 107.34h4.72v1.25h-4.72zM304.68 107.34h4.72v1.25h-4.72zM309.15 107.34h4.72v1.25h-4.72zM291.29 109.34h4.72v1.25h-4.72zM340.4 109.34h4.72v1.25h-4.72zM344.87 109.34h4.72v1.25h-4.72zM268.96 110.35h4.72v1.25h-4.72zM286.82 110.35h4.72v1.25h-4.72zM295.75 110.35h4.72v1.25h-4.72zM313.61 110.35h4.72v1.25h-4.72zM344.87 110.35h4.72v1.25h-4.72zM291.29 111.35h4.72v1.25h-4.72zM304.68 111.35h4.72v1.25h-4.72zM344.87 111.35h4.72v1.25h-4.72zM344.87 112.35h4.72v1.25h-4.72zM295.75 113.36h4.72v1.25h-4.72zM273.43 114.36h4.72v1.25h-4.72zM304.68 114.36h4.72v1.25h-4.72zM309.15 114.36h4.72v1.25h-4.72zM313.61 114.36h4.72v1.25h-4.72zM309.15 115.36h4.72v1.25h-4.72zM340.4 115.36h4.72v1.25h-4.72zM309.15 116.37h4.72v1.25h-4.72zM344.87 116.37h4.72v1.25h-4.72zM264.5 118.37h4.72v1.25h-4.72zM268.96 118.37h4.72v1.25h-4.72zM300.22 118.37h4.72v1.25h-4.72zM349.33 118.37h4.72v1.25h-4.72zM286.82 119.38h4.72v1.25h-4.72zM309.15 119.38h4.72v1.25h-4.72zM309.15 120.38h4.72v1.25h-4.72zM313.61 120.38h4.72v1.25h-4.72zM349.33 120.38h4.72v1.25h-4.72zM255.57 121.38h4.72v1.25h-4.72zM291.29 121.38h4.72v1.25h-4.72zM313.61 121.38h4.72v1.25h-4.72zM344.87 121.38h4.72v1.25h-4.72zM286.82 122.38h4.72v1.25h-4.72zM295.75 122.38h4.72v1.25h-4.72zM300.22 122.38h4.72v1.25h-4.72zM273.43 123.39h4.72v1.25h-4.72zM286.82 123.39h4.72v1.25h-4.72zM309.15 123.39h4.72v1.25h-4.72zM251.1 124.39h4.72v1.25h-4.72zM260.03 125.39h4.72v1.25h-4.72zM291.29 125.39h4.72v1.25h-4.72zM295.75 126.4h4.72v1.25h-4.72zM340.4 126.4h4.72v1.25h-4.72zM282.36 127.4h4.72v1.25h-4.72zM291.29 127.4h4.72v1.25h-4.72zM300.22 127.4h4.72v1.25h-4.72zM313.61 127.4h4.72v1.25h-4.72zM268.96 128.4h4.72v1.25h-4.72zM291.29 128.4h4.72v1.25h-4.72zM260.03 129.41h4.72v1.25h-4.72zM282.36 129.41h4.72v1.25h-4.72zM295.75 129.41h4.72v1.25h-4.72zM300.22 129.41h4.72v1.25h-4.72zM260.03 130.41h4.72v1.25h-4.72zM277.89 130.41h4.72v1.25h-4.72zM282.36 130.41h4.72v1.25h-4.72zM304.68 130.41h4.72v1.25h-4.72zM309.15 130.41h4.72v1.25h-4.72zM313.61 130.41h4.72v1.25h-4.72zM300.22 131.41h4.72v1.25h-4.72zM344.87 131.41h4.72v1.25h-4.72zM349.33 131.41h4.72v1.25h-4.72zM264.5 132.42h4.72v1.25h-4.72zM304.68 132.42h4.72v1.25h-4.72zM340.4 132.42h4.72v1.25h-4.72zM344.87 132.42h4.72v1.25h-4.72zM260.03 133.42h4.72v1.25h-4.72zM295.75 133.42h4.72v1.25h-4.72zM300.22 133.42h4.72v1.25h-4.72zM340.4 133.42h4.72v1.25h-4.72zM344.87 133.42h4.72v1.25h-4.72zM260.03 134.42h4.72v1.25h-4.72zM304.68 134.42h4.72v1.25h-4.72zM300.22 135.43h4.72v1.25h-4.72zM313.61 135.43h4.72v1.25h-4.72zM335.94 135.43h4.72v1.25h-4.72zM291.29 136.43h4.72v1.25h-4.72zM309.15 136.43h4.72v1.25h-4.72zM344.87 136.43h4.72v1.25h-4.72zM286.82 137.43h4.72v1.25h-4.72zM291.29 137.43h4.72v1.25h-4.72zM295.75 137.43h4.72v1.25h-4.72zM300.22 137.43h4.72v1.25h-4.72zM344.87 137.43h4.72v1.25h-4.72zM295.75 138.43h4.72v1.25h-4.72zM309.15 138.43h4.72v1.25h-4.72zM344.87 138.43h4.72v1.25h-4.72zM349.33 138.43h4.72v1.25h-4.72zM264.5 139.44h4.72v1.25h-4.72zM295.75 139.44h4.72v1.25h-4.72zM344.87 139.44h4.72v1.25h-4.72zM291.29 140.44h4.72v1.25h-4.72zM313.61 140.44h4.72v1.25h-4.72zM349.33 140.44h4.72v1.25h-4.72zM309.15 141.44h4.72v1.25h-4.72zM251.1 142.45h4.72v1.25h-4.72zM260.03 142.45h4.72v1.25h-4.72zM349.33 142.45h4.72v1.25h-4.72zM264.5 143.45h4.72v1.25h-4.72zM282.36 143.45h4.72v1.25h-4.72zM286.82 143.45h4.72v1.25h-4.72zM300.22 143.45h4.72v1.25h-4.72zM304.68 143.45h4.72v1.25h-4.72zM300.22 144.45h4.72v1.25h-4.72zM251.1 145.46h4.72v1.25h-4.72zM264.5 145.46h4.72v1.25h-4.72zM282.36 145.46h4.72v1.25h-4.72zM286.82 145.46h4.72v1.25h-4.72zM300.22 145.46h4.72v1.25h-4.72zM309.15 145.46h4.72v1.25h-4.72zM349.33 145.46h4.72v1.25h-4.72zM282.36 146.46h4.72v1.25h-4.72zM300.22 146.46h4.72v1.25h-4.72zM309.15 146.46h4.72v1.25h-4.72zM340.4 146.46h4.72v1.25h-4.72zM282.36 147.46h4.72v1.25h-4.72zM300.22 147.46h4.72v1.25h-4.72zM309.15 147.46h4.72v1.25h-4.72zM282.36 148.47h4.72v1.25h-4.72zM295.75 148.47h4.72v1.25h-4.72zM286.82 149.47h4.72v1.25h-4.72zM291.29 149.47h4.72v1.25h-4.72zM264.5 150.47h4.72v1.25h-4.72zM282.36 150.47h4.72v1.25h-4.72zM286.82 150.47h4.72v1.25h-4.72zM291.29 150.47h4.72v1.25h-4.72zM264.5 151.47h4.72v1.25h-4.72zM286.82 151.47h4.72v1.25h-4.72zM291.29 151.47h4.72v1.25h-4.72zM309.15 151.47h4.72v1.25h-4.72zM313.61 151.47h4.72v1.25h-4.72zM260.03 152.48h4.72v1.25h-4.72zM286.82 152.48h4.72v1.25h-4.72zM295.75 152.48h4.72v1.25h-4.72zM309.15 152.48h4.72v1.25h-4.72zM260.03 153.48h4.72v1.25h-4.72zM264.5 153.48h4.72v1.25h-4.72zM300.22 153.48h4.72v1.25h-4.72zM309.15 153.48h4.72v1.25h-4.72zM291.29 154.48h4.72v1.25h-4.72zM295.75 154.48h4.72v1.25h-4.72zM300.22 154.48h4.72v1.25h-4.72zM309.15 154.48h4.72v1.25h-4.72zM264.5 155.49h4.72v1.25h-4.72zM291.29 155.49h4.72v1.25h-4.72zM264.5 156.49h4.72v1.25h-4.72zM282.36 156.49h4.72v1.25h-4.72zM286.82 156.49h4.72v1.25h-4.72zM300.22 156.49h4.72v1.25h-4.72zM264.5 157.49h4.72v1.25h-4.72zM309.15 157.49h4.72v1.25h-4.72zM286.82 158.5h4.72v1.25h-4.72zM291.29 158.5h4.72v1.25h-4.72zM309.15 158.5h4.72v1.25h-4.72zM264.5 159.5h4.72v1.25h-4.72zM309.15 159.5h4.72v1.25h-4.72zM349.33 159.5h4.72v1.25h-4.72zM260.03 160.5h4.72v1.25h-4.72zM322.54 160.5h4.72v1.25h-4.72zM260.03 161.51h4.72v1.25h-4.72zM282.36 161.51h4.72v1.25h-4.72zM286.82 161.51h4.72v1.25h-4.72zM295.75 161.51h4.72v1.25h-4.72zM309.15 161.51h4.72v1.25h-4.72zM322.54 161.51h4.72v1.25h-4.72zM331.47 161.51h4.72v1.25h-4.72zM340.4 161.51h4.72v1.25h-4.72zM264.5 162.51h4.72v1.25h-4.72zM282.36 162.51h4.72v1.25h-4.72zM309.15 162.51h4.72v1.25h-4.72zM309.15 163.51h4.72v1.25h-4.72zM264.5 164.52h4.72v1.25h-4.72zM295.75 164.52h4.72v1.25h-4.72zM309.15 164.52h4.72v1.25h-4.72zM291.29 165.52h4.72v1.25h-4.72zM260.03 166.52h4.72v1.25h-4.72zM291.29 166.52h4.72v1.25h-4.72zM300.22 167.52h4.72v1.25h-4.72zM309.15 167.52h4.72v1.25h-4.72zM295.75 168.53h4.72v1.25h-4.72zM309.15 168.53h4.72v1.25h-4.72zM286.82 169.53h4.72v1.25h-4.72zM295.75 169.53h4.72v1.25h-4.72zM304.68 169.53h4.72v1.25h-4.72zM309.15 169.53h4.72v1.25h-4.72zM260.03 170.53h4.72v1.25h-4.72zM264.5 170.53h4.72v1.25h-4.72zM313.61 170.53h4.72v1.25h-4.72zM260.03 171.54h4.72v1.25h-4.72zM273.43 171.54h4.72v1.25h-4.72zM282.36 171.54h4.72v1.25h-4.72zM286.82 171.54h4.72v1.25h-4.72zM295.75 171.54h4.72v1.25h-4.72zM309.15 171.54h4.72v1.25h-4.72zM313.61 171.54h4.72v1.25h-4.72zM264.5 172.54h4.72v1.25h-4.72zM291.29 172.54h4.72v1.25h-4.72zM260.03 173.54h4.72v1.25h-4.72zM286.82 173.54h4.72v1.25h-4.72zM291.29 173.54h4.72v1.25h-4.72zM295.75 173.54h4.72v1.25h-4.72zM313.61 173.54h4.72v1.25h-4.72zM282.36 174.55h4.72v1.25h-4.72zM286.82 174.55h4.72v1.25h-4.72zM291.29 174.55h4.72v1.25h-4.72zM300.22 174.55h4.72v1.25h-4.72zM304.68 174.55h4.72v1.25h-4.72zM255.57 175.55h4.72v1.25h-4.72zM260.03 175.55h4.72v1.25h-4.72zM286.82 175.55h4.72v1.25h-4.72zM300.22 175.55h4.72v1.25h-4.72zM304.68 175.55h4.72v1.25h-4.72zM309.15 175.55h4.72v1.25h-4.72zM313.61 175.55h4.72v1.25h-4.72zM260.03 176.55h4.72v1.25h-4.72zM295.75 176.55h4.72v1.25h-4.72zM264.5 177.56h4.72v1.25h-4.72zM282.36 177.56h4.72v1.25h-4.72zM251.1 178.56h4.72v1.25h-4.72zM282.36 178.56h4.72v1.25h-4.72zM300.22 178.56h4.72v1.25h-4.72zM264.5 179.56h4.72v1.25h-4.72zM295.75 179.56h4.72v1.25h-4.72zM300.22 179.56h4.72v1.25h-4.72zM335.94 179.56h4.72v1.25h-4.72zM264.5 180.57h4.72v1.25h-4.72zM286.82 180.57h4.72v1.25h-4.72zM309.15 180.57h4.72v1.25h-4.72zM340.4 180.57h4.72v1.25h-4.72zM304.68 181.57h4.72v1.25h-4.72zM282.36 182.57h4.72v1.25h-4.72zM300.22 182.57h4.72v1.25h-4.72zM295.75 183.57h4.72v1.25h-4.72zM309.15 183.57h4.72v1.25h-4.72zM291.29 184.58h4.72v1.25h-4.72zM300.22 184.58h4.72v1.25h-4.72zM260.03 185.58h4.72v1.25h-4.72zM291.29 185.58h4.72v1.25h-4.72zM260.03 187.59h4.72v1.25h-4.72zM309.15 187.59h4.72v1.25h-4.72zM282.36 188.59h4.72v1.25h-4.72zM309.15 188.59h4.72v1.25h-4.72zM335.94 188.59h4.72v1.25h-4.72zM340.4 188.59h4.72v1.25h-4.72zM264.5 189.59h4.72v1.25h-4.72zM282.36 189.59h4.72v1.25h-4.72zM300.22 189.59h4.72v1.25h-4.72zM304.68 189.59h4.72v1.25h-4.72zM309.15 189.59h4.72v1.25h-4.72zM282.36 190.6h4.72v1.25h-4.72zM291.29 190.6h4.72v1.25h-4.72zM304.68 190.6h4.72v1.25h-4.72zM309.15 190.6h4.72v1.25h-4.72zM327.01 190.6h4.72v1.25h-4.72z" fill="#a5d4a6"/>
<path d="M309.15 63.2h4.72v1.25h-4.72zM344.87 63.2h4.72v1.25h-4.72zM313.61 64.2h4.72v1.25h-4.72zM251.1 65.21h4.72v1.25h-4.72zM255.57 65.21h4.72v1.25h-4.72zM260.03 65.21h4.72v1.25h-4.72zM264.5 65.21h4.72v1.25h-4.72zM340.4 65.21h4.72v1.25h-4.72zM335.94 66.21h4.72v1.25h-4.72zM340.4 66.21h4.72v1.25h-4.72zM344.87 67.21h4.72v1.25h-4.72zM349.33 67.21h4.72v1.25h-4.72zM291.29 68.22h4.72v1.25h-4.72zM300.22 68.22h4.72v1.25h-4.72zM344.87 68.22h4.72v1.25h-4.72zM291.29 69.22h4.72v1.25h-4.72zM300.22 69.22h4.72v1.25h-4.72zM313.61 69.22h4.72v1.25h-4.72zM335.94 69.22h4.72v1.25h-4.72zM300.22 70.22h4.72v1.25h-4.72zM344.87 70.22h4.72v1.25h-4.72zM260.03 71.22h4.72v1.25h-4.72zM335.94 71.22h4.72v1.25h-4.72zM291.29 72.23h4.72v1.25h-4.72zM300.22 72.23h4.72v1.25h-4.72zM304.68 72.23h4.72v1.25h-4.72zM295.75 73.23h4.72v1.25h-4.72zM260.03 74.23h4.72v1.25h-4.72zM295.75 74.23h4.72v1.25h-4.72zM300.22 74.23h4.72v1.25h-4.72zM335.94 74.23h4.72v1.25h-4.72zM344.87 74.23h4.72v1.25h-4.72zM251.1 75.24h4.72v1.25h-4.72zM309.15 75.24h4.72v1.25h-4.72zM340.4 76.24h4.72v1.25h-4.72zM349.33 77.24h4.72v1.25h-4.72zM251.1 78.25h4.72v1.25h-4.72zM344.87 78.25h4.72v1.25h-4.72zM295.75 79.25h4.72v1.25h-4.72zM335.94 79.25h4.72v1.25h-4.72zM344.87 79.25h4.72v1.25h-4.72zM344.87 80.25h4.72v1.25h-4.72zM260.03 81.26h4.72v1.25h-4.72zM264.5 81.26h4.72v1.25h-4.72zM300.22 81.26h4.72v1.25h-4.72zM340.4 81.26h4.72v1.25h-4.72zM344.87 81.26h4.72v1.25h-4.72zM264.5 82.26h4.72v1.25h-4.72zM349.33 82.26h4.72v1.25h-4.72zM300.22 83.26h4.72v1.25h-4.72zM349.33 83.26h4.72v1.25h-4.72zM295.75 84.27h4.72v1.25h-4.72zM335.94 84.27h4.72v1.25h-4.72zM291.29 85.27h4.72v1.25h-4.72zM295.75 85.27h4.72v1.25h-4.72zM300.22 85.27h4.72v1.25h-4.72zM309.15 85.27h4.72v1.25h-4.72zM349.33 86.27h4.72v1.25h-4.72zM260.03 87.28h4.72v1.25h-4.72zM264.5 87.28h4.72v1.25h-4.72zM300.22 87.28h4.72v1.25h-4.72zM349.33 87.28h4.72v1.25h-4.72zM349.33 88.28h4.72v1.25h-4.72zM304.68 89.28h4.72v1.25h-4.72zM340.4 89.28h4.72v1.25h-4.72zM344.87 89.28h4.72v1.25h-4.72zM349.33 89.28h4.72v1.25h-4.72zM295.75 90.28h4.72v1.25h-4.72zM340.4 90.28h4.72v1.25h-4.72zM295.75 91.29h4.72v1.25h-4.72zM335.94 91.29h4.72v1.25h-4.72zM344.87 91.29h4.72v1.25h-4.72zM349.33 91.29h4.72v1.25h-4.72zM255.57 92.29h4.72v1.25h-4.72zM300.22 92.29h4.72v1.25h-4.72zM335.94 92.29h4.72v1.25h-4.72zM344.87 92.29h4.72v1.25h-4.72zM300.22 93.29h4.72v1.25h-4.72zM335.94 94.3h4.72v1.25h-4.72zM340.4 94.3h4.72v1.25h-4.72zM300.22 95.3h4.72v1.25h-4.72zM349.33 96.3h4.72v1.25h-4.72zM291.29 97.31h4.72v1.25h-4.72zM295.75 97.31h4.72v1.25h-4.72zM295.75 99.31h4.72v1.25h-4.72zM300.22 99.31h4.72v1.25h-4.72zM344.87 99.31h4.72v1.25h-4.72zM255.57 100.32h4.72v1.25h-4.72zM295.75 100.32h4.72v1.25h-4.72zM300.22 100.32h4.72v1.25h-4.72zM313.61 100.32h4.72v1.25h-4.72zM344.87 100.32h4.72v1.25h-4.72zM295.75 101.32h4.72v1.25h-4.72zM300.22 101.32h4.72v1.25h-4.72zM340.4 101.32h4.72v1.25h-4.72zM264.5 102.32h4.72v1.25h-4.72zM300.22 102.32h4.72v1.25h-4.72zM349.33 102.32h4.72v1.25h-4.72zM251.1 104.33h4.72v1.25h-4.72zM300.22 104.33h4.72v1.25h-4.72zM340.4 104.33h4.72v1.25h-4.72zM295.75 105.33h4.72v1.25h-4.72zM309.15 105.33h4.72v1.25h-4.72zM335.94 105.33h4.72v1.25h-4.72zM349.33 105.33h4.72v1.25h-4.72zM251.1 107.34h4.72v1.25h-4.72zM255.57 107.34h4.72v1.25h-4.72zM349.33 107.34h4.72v1.25h-4.72zM295.75 108.34h4.72v1.25h-4.72zM300.22 108.34h4.72v1.25h-4.72zM335.94 108.34h4.72v1.25h-4.72zM344.87 108.34h4.72v1.25h-4.72zM300.22 109.34h4.72v1.25h-4.72zM322.54 109.34h4.72v1.25h-4.72zM335.94 109.34h4.72v1.25h-4.72zM309.15 110.35h4.72v1.25h-4.72zM295.75 111.35h4.72v1.25h-4.72zM309.15 111.35h4.72v1.25h-4.72zM349.33 111.35h4.72v1.25h-4.72zM309.15 112.35h4.72v1.25h-4.72zM335.94 112.35h4.72v1.25h-4.72zM340.4 112.35h4.72v1.25h-4.72zM344.87 113.36h4.72v1.25h-4.72zM349.33 113.36h4.72v1.25h-4.72zM260.03 114.36h4.72v1.25h-4.72zM344.87 114.36h4.72v1.25h-4.72zM286.82 115.36h4.72v1.25h-4.72zM295.75 115.36h4.72v1.25h-4.72zM344.87 115.36h4.72v1.25h-4.72zM295.75 116.37h4.72v1.25h-4.72zM335.94 116.37h4.72v1.25h-4.72zM255.57 117.37h4.72v1.25h-4.72zM286.82 117.37h4.72v1.25h-4.72zM300.22 117.37h4.72v1.25h-4.72zM309.15 117.37h4.72v1.25h-4.72zM295.75 118.37h4.72v1.25h-4.72zM344.87 118.37h4.72v1.25h-4.72zM264.5 119.38h4.72v1.25h-4.72zM291.29 119.38h4.72v1.25h-4.72zM295.75 119.38h4.72v1.25h-4.72zM304.68 119.38h4.72v1.25h-4.72zM344.87 119.38h4.72v1.25h-4.72zM295.75 120.38h4.72v1.25h-4.72zM300.22 120.38h4.72v1.25h-4.72zM277.89 121.38h4.72v1.25h-4.72zM335.94 121.38h4.72v1.25h-4.72zM349.33 121.38h4.72v1.25h-4.72zM331.47 122.38h4.72v1.25h-4.72zM277.89 123.39h4.72v1.25h-4.72zM295.75 123.39h4.72v1.25h-4.72zM300.22 123.39h4.72v1.25h-4.72zM340.4 124.39h4.72v1.25h-4.72zM344.87 124.39h4.72v1.25h-4.72zM300.22 125.39h4.72v1.25h-4.72zM344.87 125.39h4.72v1.25h-4.72zM309.15 126.4h4.72v1.25h-4.72zM344.87 126.4h4.72v1.25h-4.72zM349.33 126.4h4.72v1.25h-4.72zM255.57 127.4h4.72v1.25h-4.72zM260.03 127.4h4.72v1.25h-4.72zM309.15 127.4h4.72v1.25h-4.72zM335.94 127.4h4.72v1.25h-4.72zM340.4 127.4h4.72v1.25h-4.72zM349.33 127.4h4.72v1.25h-4.72zM295.75 128.4h4.72v1.25h-4.72zM300.22 128.4h4.72v1.25h-4.72zM335.94 128.4h4.72v1.25h-4.72zM340.4 128.4h4.72v1.25h-4.72zM268.96 129.41h4.72v1.25h-4.72zM322.54 129.41h4.72v1.25h-4.72zM340.4 129.41h4.72v1.25h-4.72zM344.87 129.41h4.72v1.25h-4.72zM349.33 129.41h4.72v1.25h-4.72zM344.87 130.41h4.72v1.25h-4.72zM349.33 130.41h4.72v1.25h-4.72zM304.68 131.41h4.72v1.25h-4.72zM335.94 131.41h4.72v1.25h-4.72zM340.4 131.41h4.72v1.25h-4.72zM295.75 132.42h4.72v1.25h-4.72zM300.22 132.42h4.72v1.25h-4.72zM313.61 132.42h4.72v1.25h-4.72zM349.33 132.42h4.72v1.25h-4.72zM335.94 133.42h4.72v1.25h-4.72zM349.33 133.42h4.72v1.25h-4.72zM264.5 134.42h4.72v1.25h-4.72zM268.96 135.43h4.72v1.25h-4.72zM309.15 135.43h4.72v1.25h-4.72zM331.47 135.43h4.72v1.25h-4.72zM313.61 136.43h4.72v1.25h-4.72zM264.5 137.43h4.72v1.25h-4.72zM300.22 139.44h4.72v1.25h-4.72zM335.94 139.44h4.72v1.25h-4.72zM344.87 140.44h4.72v1.25h-4.72zM282.36 141.44h4.72v1.25h-4.72zM291.29 141.44h4.72v1.25h-4.72zM282.36 142.45h4.72v1.25h-4.72zM300.22 142.45h4.72v1.25h-4.72zM313.61 144.45h4.72v1.25h-4.72zM322.54 144.45h4.72v1.25h-4.72zM264.5 146.46h4.72v1.25h-4.72zM344.87 146.46h4.72v1.25h-4.72zM255.57 147.46h4.72v1.25h-4.72zM251.1 148.47h4.72v1.25h-4.72zM264.5 148.47h4.72v1.25h-4.72zM251.1 149.47h4.72v1.25h-4.72zM282.36 149.47h4.72v1.25h-4.72zM295.75 149.47h4.72v1.25h-4.72zM309.15 149.47h4.72v1.25h-4.72zM260.03 150.47h4.72v1.25h-4.72zM300.22 150.47h4.72v1.25h-4.72zM309.15 150.47h4.72v1.25h-4.72zM335.94 150.47h4.72v1.25h-4.72zM260.03 151.47h4.72v1.25h-4.72zM282.36 151.47h4.72v1.25h-4.72zM264.5 152.48h4.72v1.25h-4.72zM322.54 152.48h4.72v1.25h-4.72zM251.1 153.48h4.72v1.25h-4.72zM349.33 153.48h4.72v1.25h-4.72zM282.36 154.48h4.72v1.25h-4.72zM277.89 155.49h4.72v1.25h-4.72zM282.36 155.49h4.72v1.25h-4.72zM255.57 156.49h4.72v1.25h-4.72zM251.1 157.49h4.72v1.25h-4.72zM273.43 157.49h4.72v1.25h-4.72zM282.36 157.49h4.72v1.25h-4.72zM349.33 157.49h4.72v1.25h-4.72zM260.03 158.5h4.72v1.25h-4.72zM282.36 158.5h4.72v1.25h-4.72zM295.75 158.5h4.72v1.25h-4.72zM300.22 158.5h4.72v1.25h-4.72zM260.03 159.5h4.72v1.25h-4.72zM291.29 159.5h4.72v1.25h-4.72zM300.22 159.5h4.72v1.25h-4.72zM286.82 160.5h4.72v1.25h-4.72zM300.22 160.5h4.72v1.25h-4.72zM255.57 161.51h4.72v1.25h-4.72zM300.22 161.51h4.72v1.25h-4.72zM277.89 162.51h4.72v1.25h-4.72zM282.36 163.51h4.72v1.25h-4.72zM300.22 163.51h4.72v1.25h-4.72zM251.1 164.52h4.72v1.25h-4.72zM260.03 164.52h4.72v1.25h-4.72zM251.1 165.52h4.72v1.25h-4.72zM255.57 165.52h4.72v1.25h-4.72zM282.36 165.52h4.72v1.25h-4.72zM300.22 166.52h4.72v1.25h-4.72zM304.68 166.52h4.72v1.25h-4.72zM340.4 166.52h4.72v1.25h-4.72zM264.5 167.52h4.72v1.25h-4.72zM273.43 167.52h4.72v1.25h-4.72zM313.61 167.52h4.72v1.25h-4.72zM251.1 168.53h4.72v1.25h-4.72zM264.5 168.53h4.72v1.25h-4.72zM282.36 168.53h4.72v1.25h-4.72zM300.22 168.53h4.72v1.25h-4.72zM251.1 169.53h4.72v1.25h-4.72zM264.5 169.53h4.72v1.25h-4.72zM282.36 169.53h4.72v1.25h-4.72zM251.1 170.53h4.72v1.25h-4.72zM255.57 170.53h4.72v1.25h-4.72zM300.22 170.53h4.72v1.25h-4.72zM309.15 170.53h4.72v1.25h-4.72zM255.57 171.54h4.72v1.25h-4.72zM300.22 171.54h4.72v1.25h-4.72zM251.1 172.54h4.72v1.25h-4.72zM282.36 172.54h4.72v1.25h-4.72zM286.82 172.54h4.72v1.25h-4.72zM295.75 172.54h4.72v1.25h-4.72zM313.61 172.54h4.72v1.25h-4.72zM282.36 173.54h4.72v1.25h-4.72zM300.22 173.54h4.72v1.25h-4.72zM309.15 173.54h4.72v1.25h-4.72zM309.15 174.55h4.72v1.25h-4.72zM251.1 175.55h4.72v1.25h-4.72zM264.5 175.55h4.72v1.25h-4.72zM282.36 175.55h4.72v1.25h-4.72zM282.36 176.55h4.72v1.25h-4.72zM300.22 176.55h4.72v1.25h-4.72zM313.61 176.55h4.72v1.25h-4.72zM251.1 177.56h4.72v1.25h-4.72zM255.57 177.56h4.72v1.25h-4.72zM264.5 178.56h4.72v1.25h-4.72zM268.96 178.56h4.72v1.25h-4.72zM282.36 179.56h4.72v1.25h-4.72zM309.15 179.56h4.72v1.25h-4.72zM313.61 179.56h4.72v1.25h-4.72zM251.1 180.57h4.72v1.25h-4.72zM255.57 180.57h4.72v1.25h-4.72zM251.1 181.57h4.72v1.25h-4.72zM260.03 181.57h4.72v1.25h-4.72zM286.82 182.57h4.72v1.25h-4.72zM295.75 182.57h4.72v1.25h-4.72zM313.61 182.57h4.72v1.25h-4.72zM251.1 183.57h4.72v1.25h-4.72zM264.5 183.57h4.72v1.25h-4.72zM282.36 183.57h4.72v1.25h-4.72zM291.29 183.57h4.72v1.25h-4.72zM300.22 183.57h4.72v1.25h-4.72zM340.4 183.57h4.72v1.25h-4.72zM264.5 184.58h4.72v1.25h-4.72zM309.15 184.58h4.72v1.25h-4.72zM255.57 185.58h4.72v1.25h-4.72zM282.36 185.58h4.72v1.25h-4.72zM286.82 185.58h4.72v1.25h-4.72zM295.75 185.58h4.72v1.25h-4.72zM340.4 185.58h4.72v1.25h-4.72zM300.22 186.58h4.72v1.25h-4.72zM309.15 186.58h4.72v1.25h-4.72zM251.1 187.59h4.72v1.25h-4.72zM255.57 187.59h4.72v1.25h-4.72zM282.36 187.59h4.72v1.25h-4.72zM255.57 188.59h4.72v1.25h-4.72zM300.22 188.59h4.72v1.25h-4.72zM251.1 189.59h4.72v1.25h-4.72zM264.5 190.6h4.72v1.25h-4.72zM273.43 190.6h4.72v1.25h-4.72zM300.22 190.6h4.72v1.25h-4.72z" fill="#97c799"/>
<path d="M340.4 63.2h4.72v1.25h-4.72zM286.82 64.2h4.72v1.25h-4.72zM304.68 64.2h4.72v1.25h-4.72zM300.22 65.21h4.72v1.25h-4.72zM335.94 65.21h4.72v1.25h-4.72zM349.33 65.21h4.72v1.25h-4.72zM295.75 66.21h4.72v1.25h-4.72zM309.15 66.21h4.72v1.25h-4.72zM295.75 67.21h4.72v1.25h-4.72zM304.68 67.21h4.72v1.25h-4.72zM322.54 67.21h4.72v1.25h-4.72zM335.94 67.21h4.72v1.25h-4.72zM340.4 67.21h4.72v1.25h-4.72zM255.57 68.22h4.72v1.25h-4.72zM282.36 68.22h4.72v1.25h-4.72zM295.75 68.22h4.72v1.25h-4.72zM322.54 68.22h4.72v1.25h-4.72zM331.47 68.22h4.72v1.25h-4.72zM340.4 68.22h4.72v1.25h-4.72zM349.33 68.22h4.72v1.25h-4.72zM322.54 69.22h4.72v1.25h-4.72zM340.4 69.22h4.72v1.25h-4.72zM255.57 71.22h4.72v1.25h-4.72zM264.5 71.22h4.72v1.25h-4.72zM304.68 71.22h4.72v1.25h-4.72zM309.15 71.22h4.72v1.25h-4.72zM349.33 71.22h4.72v1.25h-4.72zM295.75 72.23h4.72v1.25h-4.72zM318.08 72.23h4.72v1.25h-4.72zM340.4 72.23h4.72v1.25h-4.72zM335.94 73.23h4.72v1.25h-4.72zM349.33 73.23h4.72v1.25h-4.72zM327.01 74.23h4.72v1.25h-4.72zM349.33 74.23h4.72v1.25h-4.72zM260.03 75.24h4.72v1.25h-4.72zM300.22 75.24h4.72v1.25h-4.72zM344.87 75.24h4.72v1.25h-4.72zM304.68 76.24h4.72v1.25h-4.72zM322.54 76.24h4.72v1.25h-4.72zM335.94 76.24h4.72v1.25h-4.72zM331.47 77.24h4.72v1.25h-4.72zM335.94 77.24h4.72v1.25h-4.72zM300.22 78.25h4.72v1.25h-4.72zM322.54 79.25h4.72v1.25h-4.72zM260.03 80.25h4.72v1.25h-4.72zM264.5 80.25h4.72v1.25h-4.72zM313.61 80.25h4.72v1.25h-4.72zM331.47 80.25h4.72v1.25h-4.72zM340.4 80.25h4.72v1.25h-4.72zM349.33 80.25h4.72v1.25h-4.72zM255.57 81.26h4.72v1.25h-4.72zM349.33 81.26h4.72v1.25h-4.72zM300.22 82.26h4.72v1.25h-4.72zM313.61 82.26h4.72v1.25h-4.72zM322.54 82.26h4.72v1.25h-4.72zM340.4 82.26h4.72v1.25h-4.72zM331.47 83.26h4.72v1.25h-4.72zM335.94 83.26h4.72v1.25h-4.72zM344.87 83.26h4.72v1.25h-4.72zM349.33 85.27h4.72v1.25h-4.72zM322.54 86.27h4.72v1.25h-4.72zM335.94 87.28h4.72v1.25h-4.72zM344.87 88.28h4.72v1.25h-4.72zM322.54 89.28h4.72v1.25h-4.72zM300.22 90.28h4.72v1.25h-4.72zM313.61 90.28h4.72v1.25h-4.72zM322.54 90.28h4.72v1.25h-4.72zM300.22 91.29h4.72v1.25h-4.72zM340.4 91.29h4.72v1.25h-4.72zM309.15 92.29h4.72v1.25h-4.72zM322.54 92.29h4.72v1.25h-4.72zM349.33 92.29h4.72v1.25h-4.72zM322.54 93.29h4.72v1.25h-4.72zM340.4 93.29h4.72v1.25h-4.72zM286.82 94.3h4.72v1.25h-4.72zM291.29 94.3h4.72v1.25h-4.72zM300.22 94.3h4.72v1.25h-4.72zM318.08 94.3h4.72v1.25h-4.72zM344.87 95.3h4.72v1.25h-4.72zM349.33 95.3h4.72v1.25h-4.72zM255.57 96.3h4.72v1.25h-4.72zM335.94 96.3h4.72v1.25h-4.72zM340.4 96.3h4.72v1.25h-4.72zM300.22 97.31h4.72v1.25h-4.72zM344.87 97.31h4.72v1.25h-4.72zM318.08 98.31h4.72v1.25h-4.72zM340.4 98.31h4.72v1.25h-4.72zM349.33 98.31h4.72v1.25h-4.72zM349.33 99.31h4.72v1.25h-4.72zM251.1 100.32h4.72v1.25h-4.72zM335.94 100.32h4.72v1.25h-4.72zM349.33 100.32h4.72v1.25h-4.72zM318.08 101.32h4.72v1.25h-4.72zM322.54 101.32h4.72v1.25h-4.72zM335.94 101.32h4.72v1.25h-4.72zM268.96 102.32h4.72v1.25h-4.72zM322.54 102.32h4.72v1.25h-4.72zM335.94 102.32h4.72v1.25h-4.72zM340.4 102.32h4.72v1.25h-4.72zM300.22 103.32h4.72v1.25h-4.72zM335.94 103.32h4.72v1.25h-4.72zM340.4 103.32h4.72v1.25h-4.72zM349.33 104.33h4.72v1.25h-4.72zM340.4 105.33h4.72v1.25h-4.72zM260.03 106.33h4.72v1.25h-4.72zM300.22 106.33h4.72v1.25h-4.72zM268.96 107.34h4.72v1.25h-4.72zM335.94 107.34h4.72v1.25h-4.72zM340.4 107.34h4.72v1.25h-4.72zM344.87 107.34h4.72v1.25h-4.72zM340.4 108.34h4.72v1.25h-4.72zM349.33 108.34h4.72v1.25h-4.72zM295.75 109.34h4.72v1.25h-4.72zM331.47 109.34h4.72v1.25h-4.72zM349.33 109.34h4.72v1.25h-4.72zM251.1 110.35h4.72v1.25h-4.72zM255.57 110.35h4.72v1.25h-4.72zM300.22 110.35h4.72v1.25h-4.72zM335.94 110.35h4.72v1.25h-4.72zM340.4 110.35h4.72v1.25h-4.72zM300.22 111.35h4.72v1.25h-4.72zM335.94 111.35h4.72v1.25h-4.72zM340.4 111.35h4.72v1.25h-4.72zM300.22 112.35h4.72v1.25h-4.72zM340.4 113.36h4.72v1.25h-4.72zM268.96 114.36h4.72v1.25h-4.72zM300.22 114.36h4.72v1.25h-4.72zM331.47 114.36h4.72v1.25h-4.72zM340.4 114.36h4.72v1.25h-4.72zM349.33 114.36h4.72v1.25h-4.72zM349.33 115.36h4.72v1.25h-4.72zM322.54 116.37h4.72v1.25h-4.72zM349.33 116.37h4.72v1.25h-4.72zM251.1 117.37h4.72v1.25h-4.72zM260.03 117.37h4.72v1.25h-4.72zM335.94 117.37h4.72v1.25h-4.72zM340.4 117.37h4.72v1.25h-4.72zM335.94 118.37h4.72v1.25h-4.72zM340.4 118.37h4.72v1.25h-4.72zM255.57 119.38h4.72v1.25h-4.72zM300.22 119.38h4.72v1.25h-4.72zM340.4 119.38h4.72v1.25h-4.72zM349.33 119.38h4.72v1.25h-4.72zM335.94 120.38h4.72v1.25h-4.72zM295.75 121.38h4.72v1.25h-4.72zM300.22 121.38h4.72v1.25h-4.72zM322.54 121.38h4.72v1.25h-4.72zM340.4 121.38h4.72v1.25h-4.72zM322.54 122.38h4.72v1.25h-4.72zM349.33 122.38h4.72v1.25h-4.72zM335.94 123.39h4.72v1.25h-4.72zM340.4 123.39h4.72v1.25h-4.72zM344.87 123.39h4.72v1.25h-4.72zM349.33 123.39h4.72v1.25h-4.72zM295.75 124.39h4.72v1.25h-4.72zM300.22 124.39h4.72v1.25h-4.72zM322.54 124.39h4.72v1.25h-4.72zM349.33 124.39h4.72v1.25h-4.72zM295.75 125.39h4.72v1.25h-4.72zM313.61 125.39h4.72v1.25h-4.72zM335.94 125.39h4.72v1.25h-4.72zM340.4 125.39h4.72v1.25h-4.72zM349.33 125.39h4.72v1.25h-4.72zM300.22 126.4h4.72v1.25h-4.72zM335.94 126.4h4.72v1.25h-4.72zM251.1 128.4h4.72v1.25h-4.72zM255.57 128.4h4.72v1.25h-4.72zM260.03 128.4h4.72v1.25h-4.72zM331.47 128.4h4.72v1.25h-4.72zM349.33 128.4h4.72v1.25h-4.72zM335.94 129.41h4.72v1.25h-4.72zM322.54 130.41h4.72v1.25h-4.72zM260.03 131.41h4.72v1.25h-4.72zM264.5 131.41h4.72v1.25h-4.72zM309.15 131.41h4.72v1.25h-4.72zM322.54 131.41h4.72v1.25h-4.72zM264.5 133.42h4.72v1.25h-4.72zM309.15 133.42h4.72v1.25h-4.72zM313.61 133.42h4.72v1.25h-4.72zM291.29 134.42h4.72v1.25h-4.72zM313.61 134.42h4.72v1.25h-4.72zM349.33 134.42h4.72v1.25h-4.72zM251.1 136.43h4.72v1.25h-4.72zM255.57 136.43h4.72v1.25h-4.72zM295.75 136.43h4.72v1.25h-4.72zM300.22 136.43h4.72v1.25h-4.72zM340.4 136.43h4.72v1.25h-4.72zM349.33 136.43h4.72v1.25h-4.72zM268.96 137.43h4.72v1.25h-4.72zM313.61 137.43h4.72v1.25h-4.72zM340.4 137.43h4.72v1.25h-4.72zM300.22 138.43h4.72v1.25h-4.72zM349.33 139.44h4.72v1.25h-4.72zM295.75 140.44h4.72v1.25h-4.72zM300.22 140.44h4.72v1.25h-4.72zM322.54 140.44h4.72v1.25h-4.72zM335.94 140.44h4.72v1.25h-4.72zM255.57 142.45h4.72v1.25h-4.72zM255.57 143.45h4.72v1.25h-4.72zM251.1 144.45h4.72v1.25h-4.72zM282.36 144.45h4.72v1.25h-4.72zM286.82 144.45h4.72v1.25h-4.72zM291.29 144.45h4.72v1.25h-4.72zM255.57 145.46h4.72v1.25h-4.72zM268.96 145.46h4.72v1.25h-4.72zM255.57 146.46h4.72v1.25h-4.72zM260.03 146.46h4.72v1.25h-4.72zM291.29 146.46h4.72v1.25h-4.72zM251.1 147.46h4.72v1.25h-4.72zM268.96 147.46h4.72v1.25h-4.72zM277.89 147.46h4.72v1.25h-4.72zM313.61 147.46h4.72v1.25h-4.72zM255.57 148.47h4.72v1.25h-4.72zM268.96 148.47h4.72v1.25h-4.72zM291.29 148.47h4.72v1.25h-4.72zM300.22 148.47h4.72v1.25h-4.72zM264.5 149.47h4.72v1.25h-4.72zM251.1 150.47h4.72v1.25h-4.72zM251.1 151.47h4.72v1.25h-4.72zM255.57 151.47h4.72v1.25h-4.72zM273.43 152.48h4.72v1.25h-4.72zM277.89 152.48h4.72v1.25h-4.72zM300.22 152.48h4.72v1.25h-4.72zM255.57 153.48h4.72v1.25h-4.72zM268.96 153.48h4.72v1.25h-4.72zM273.43 153.48h4.72v1.25h-4.72zM282.36 153.48h4.72v1.25h-4.72zM255.57 154.48h4.72v1.25h-4.72zM264.5 154.48h4.72v1.25h-4.72zM251.1 155.49h4.72v1.25h-4.72zM268.96 155.49h4.72v1.25h-4.72zM273.43 155.49h4.72v1.25h-4.72zM295.75 155.49h4.72v1.25h-4.72zM300.22 155.49h4.72v1.25h-4.72zM251.1 156.49h4.72v1.25h-4.72zM273.43 156.49h4.72v1.25h-4.72zM277.89 157.49h4.72v1.25h-4.72zM251.1 158.5h4.72v1.25h-4.72zM251.1 159.5h4.72v1.25h-4.72zM273.43 159.5h4.72v1.25h-4.72zM255.57 160.5h4.72v1.25h-4.72zM264.5 160.5h4.72v1.25h-4.72zM268.96 160.5h4.72v1.25h-4.72zM282.36 160.5h4.72v1.25h-4.72zM313.61 160.5h4.72v1.25h-4.72zM251.1 161.51h4.72v1.25h-4.72zM264.5 161.51h4.72v1.25h-4.72zM251.1 162.51h4.72v1.25h-4.72zM273.43 162.51h4.72v1.25h-4.72zM251.1 163.51h4.72v1.25h-4.72zM260.03 163.51h4.72v1.25h-4.72zM264.5 163.51h4.72v1.25h-4.72zM268.96 163.51h4.72v1.25h-4.72zM273.43 165.52h4.72v1.25h-4.72zM251.1 166.52h4.72v1.25h-4.72zM255.57 166.52h4.72v1.25h-4.72zM264.5 166.52h4.72v1.25h-4.72zM268.96 166.52h4.72v1.25h-4.72zM251.1 167.52h4.72v1.25h-4.72zM255.57 167.52h4.72v1.25h-4.72zM277.89 167.52h4.72v1.25h-4.72zM282.36 167.52h4.72v1.25h-4.72zM255.57 168.53h4.72v1.25h-4.72zM273.43 168.53h4.72v1.25h-4.72zM260.03 169.53h4.72v1.25h-4.72zM300.22 169.53h4.72v1.25h-4.72zM286.82 170.53h4.72v1.25h-4.72zM300.22 172.54h4.72v1.25h-4.72zM277.89 173.54h4.72v1.25h-4.72zM251.1 174.55h4.72v1.25h-4.72zM255.57 174.55h4.72v1.25h-4.72zM260.03 174.55h4.72v1.25h-4.72zM277.89 174.55h4.72v1.25h-4.72zM251.1 176.55h4.72v1.25h-4.72zM264.5 176.55h4.72v1.25h-4.72zM309.15 176.55h4.72v1.25h-4.72zM286.82 177.56h4.72v1.25h-4.72zM255.57 178.56h4.72v1.25h-4.72zM273.43 178.56h4.72v1.25h-4.72zM277.89 178.56h4.72v1.25h-4.72zM251.1 179.56h4.72v1.25h-4.72zM282.36 180.57h4.72v1.25h-4.72zM255.57 182.57h4.72v1.25h-4.72zM255.57 183.57h4.72v1.25h-4.72zM260.03 183.57h4.72v1.25h-4.72zM286.82 183.57h4.72v1.25h-4.72zM251.1 184.58h4.72v1.25h-4.72zM255.57 184.58h4.72v1.25h-4.72zM268.96 184.58h4.72v1.25h-4.72zM273.43 184.58h4.72v1.25h-4.72zM300.22 185.58h4.72v1.25h-4.72zM260.03 186.58h4.72v1.25h-4.72zM264.5 186.58h4.72v1.25h-4.72zM268.96 186.58h4.72v1.25h-4.72zM277.89 186.58h4.72v1.25h-4.72zM295.75 186.58h4.72v1.25h-4.72zM313.61 186.58h4.72v1.25h-4.72zM251.1 188.59h4.72v1.25h-4.72zM264.5 188.59h4.72v1.25h-4.72zM255.57 189.59h4.72v1.25h-4.72zM277.89 189.59h4.72v1.25h-4.72zM286.82 189.59h4.72v1.25h-4.72zM291.29 189.59h4.72v1.25h-4.72zM255.57 190.6h4.72v1.25h-4.72zM268.96 190.6h4.72v1.25h-4.72z" fill="#89b58b"/>
<path d="M331.47 63.2h4.72v1.25h-4.72zM335.94 63.2h4.72v1.25h-4.72zM349.33 63.2h4.72v1.25h-4.72zM309.15 64.2h4.72v1.25h-4.72zM322.54 64.2h4.72v1.25h-4.72zM331.47 64.2h4.72v1.25h-4.72zM340.4 64.2h4.72v1.25h-4.72zM291.29 65.21h4.72v1.25h-4.72zM300.22 66.21h4.72v1.25h-4.72zM322.54 66.21h4.72v1.25h-4.72zM331.47 66.21h4.72v1.25h-4.72zM309.15 67.21h4.72v1.25h-4.72zM318.08 67.21h4.72v1.25h-4.72zM331.47 67.21h4.72v1.25h-4.72zM268.96 68.22h4.72v1.25h-4.72zM309.15 68.22h4.72v1.25h-4.72zM335.94 68.22h4.72v1.25h-4.72zM295.75 69.22h4.72v1.25h-4.72zM331.47 69.22h4.72v1.25h-4.72zM295.75 70.22h4.72v1.25h-4.72zM318.08 70.22h4.72v1.25h-4.72zM331.47 70.22h4.72v1.25h-4.72zM335.94 70.22h4.72v1.25h-4.72zM340.4 70.22h4.72v1.25h-4.72zM340.4 71.22h4.72v1.25h-4.72zM322.54 72.23h4.72v1.25h-4.72zM318.08 73.23h4.72v1.25h-4.72zM331.47 73.23h4.72v1.25h-4.72zM340.4 73.23h4.72v1.25h-4.72zM322.54 74.23h4.72v1.25h-4.72zM268.96 75.24h4.72v1.25h-4.72zM349.33 75.24h4.72v1.25h-4.72zM286.82 76.24h4.72v1.25h-4.72zM291.29 76.24h4.72v1.25h-4.72zM318.08 76.24h4.72v1.25h-4.72zM327.01 76.24h4.72v1.25h-4.72zM322.54 77.24h4.72v1.25h-4.72zM322.54 78.25h4.72v1.25h-4.72zM340.4 78.25h4.72v1.25h-4.72zM318.08 80.25h4.72v1.25h-4.72zM295.75 81.26h4.72v1.25h-4.72zM318.08 81.26h4.72v1.25h-4.72zM331.47 81.26h4.72v1.25h-4.72zM335.94 81.26h4.72v1.25h-4.72zM295.75 82.26h4.72v1.25h-4.72zM318.08 82.26h4.72v1.25h-4.72zM331.47 82.26h4.72v1.25h-4.72zM322.54 83.26h4.72v1.25h-4.72zM340.4 83.26h4.72v1.25h-4.72zM327.01 85.27h4.72v1.25h-4.72zM344.87 85.27h4.72v1.25h-4.72zM300.22 86.27h4.72v1.25h-4.72zM327.01 86.27h4.72v1.25h-4.72zM340.4 86.27h4.72v1.25h-4.72zM344.87 87.28h4.72v1.25h-4.72zM322.54 88.28h4.72v1.25h-4.72zM335.94 88.28h4.72v1.25h-4.72zM340.4 88.28h4.72v1.25h-4.72zM335.94 89.28h4.72v1.25h-4.72zM318.08 90.28h4.72v1.25h-4.72zM268.96 91.29h4.72v1.25h-4.72zM327.01 91.29h4.72v1.25h-4.72zM331.47 91.29h4.72v1.25h-4.72zM340.4 92.29h4.72v1.25h-4.72zM331.47 93.29h4.72v1.25h-4.72zM331.47 95.3h4.72v1.25h-4.72zM300.22 96.3h4.72v1.25h-4.72zM268.96 99.31h4.72v1.25h-4.72zM331.47 99.31h4.72v1.25h-4.72zM340.4 99.31h4.72v1.25h-4.72zM327.01 100.32h4.72v1.25h-4.72zM313.61 101.32h4.72v1.25h-4.72zM331.47 102.32h4.72v1.25h-4.72zM295.75 103.32h4.72v1.25h-4.72zM327.01 103.32h4.72v1.25h-4.72zM349.33 103.32h4.72v1.25h-4.72zM327.01 104.33h4.72v1.25h-4.72zM331.47 104.33h4.72v1.25h-4.72zM335.94 104.33h4.72v1.25h-4.72zM318.08 105.33h4.72v1.25h-4.72zM322.54 105.33h4.72v1.25h-4.72zM331.47 105.33h4.72v1.25h-4.72zM322.54 106.33h4.72v1.25h-4.72zM327.01 106.33h4.72v1.25h-4.72zM335.94 106.33h4.72v1.25h-4.72zM340.4 106.33h4.72v1.25h-4.72zM318.08 107.34h4.72v1.25h-4.72zM331.47 107.34h4.72v1.25h-4.72zM318.08 108.34h4.72v1.25h-4.72zM331.47 108.34h4.72v1.25h-4.72zM318.08 109.34h4.72v1.25h-4.72zM349.33 110.35h4.72v1.25h-4.72zM264.5 111.35h4.72v1.25h-4.72zM268.96 111.35h4.72v1.25h-4.72zM322.54 111.35h4.72v1.25h-4.72zM331.47 111.35h4.72v1.25h-4.72zM291.29 112.35h4.72v1.25h-4.72zM295.75 112.35h4.72v1.25h-4.72zM349.33 112.35h4.72v1.25h-4.72zM300.22 113.36h4.72v1.25h-4.72zM255.57 114.36h4.72v1.25h-4.72zM335.94 114.36h4.72v1.25h-4.72zM300.22 115.36h4.72v1.25h-4.72zM335.94 115.36h4.72v1.25h-4.72zM318.08 116.37h4.72v1.25h-4.72zM331.47 116.37h4.72v1.25h-4.72zM340.4 116.37h4.72v1.25h-4.72zM318.08 117.37h4.72v1.25h-4.72zM322.54 117.37h4.72v1.25h-4.72zM331.47 118.37h4.72v1.25h-4.72zM251.1 119.38h4.72v1.25h-4.72zM268.96 119.38h4.72v1.25h-4.72zM331.47 119.38h4.72v1.25h-4.72zM340.4 120.38h4.72v1.25h-4.72zM344.87 120.38h4.72v1.25h-4.72zM327.01 122.38h4.72v1.25h-4.72zM335.94 122.38h4.72v1.25h-4.72zM344.87 122.38h4.72v1.25h-4.72zM331.47 123.39h4.72v1.25h-4.72zM335.94 124.39h4.72v1.25h-4.72zM309.15 125.39h4.72v1.25h-4.72zM331.47 125.39h4.72v1.25h-4.72zM322.54 127.4h4.72v1.25h-4.72zM309.15 128.4h4.72v1.25h-4.72zM322.54 128.4h4.72v1.25h-4.72zM313.61 131.41h4.72v1.25h-4.72zM331.47 131.41h4.72v1.25h-4.72zM309.15 132.42h4.72v1.25h-4.72zM322.54 132.42h4.72v1.25h-4.72zM322.54 133.42h4.72v1.25h-4.72zM327.01 133.42h4.72v1.25h-4.72zM331.47 133.42h4.72v1.25h-4.72zM309.15 134.42h4.72v1.25h-4.72zM322.54 134.42h4.72v1.25h-4.72zM340.4 135.43h4.72v1.25h-4.72zM344.87 135.43h4.72v1.25h-4.72zM260.03 136.43h4.72v1.25h-4.72zM331.47 136.43h4.72v1.25h-4.72zM335.94 136.43h4.72v1.25h-4.72zM309.15 137.43h4.72v1.25h-4.72zM331.47 137.43h4.72v1.25h-4.72zM331.47 138.43h4.72v1.25h-4.72zM340.4 138.43h4.72v1.25h-4.72zM260.03 139.44h4.72v1.25h-4.72zM327.01 139.44h4.72v1.25h-4.72zM331.47 139.44h4.72v1.25h-4.72zM340.4 139.44h4.72v1.25h-4.72zM309.15 140.44h4.72v1.25h-4.72zM331.47 140.44h4.72v1.25h-4.72zM251.1 141.44h4.72v1.25h-4.72zM255.57 141.44h4.72v1.25h-4.72zM277.89 141.44h4.72v1.25h-4.72zM286.82 141.44h4.72v1.25h-4.72zM349.33 141.44h4.72v1.25h-4.72zM264.5 142.45h4.72v1.25h-4.72zM268.96 143.45h4.72v1.25h-4.72zM273.43 143.45h4.72v1.25h-4.72zM277.89 143.45h4.72v1.25h-4.72zM309.15 143.45h4.72v1.25h-4.72zM255.57 144.45h4.72v1.25h-4.72zM273.43 144.45h4.72v1.25h-4.72zM277.89 144.45h4.72v1.25h-4.72zM273.43 145.46h4.72v1.25h-4.72zM277.89 145.46h4.72v1.25h-4.72zM251.1 146.46h4.72v1.25h-4.72zM273.43 147.46h4.72v1.25h-4.72zM273.43 148.47h4.72v1.25h-4.72zM277.89 148.47h4.72v1.25h-4.72zM255.57 149.47h4.72v1.25h-4.72zM277.89 149.47h4.72v1.25h-4.72zM300.22 149.47h4.72v1.25h-4.72zM255.57 150.47h4.72v1.25h-4.72zM268.96 150.47h4.72v1.25h-4.72zM273.43 150.47h4.72v1.25h-4.72zM277.89 150.47h4.72v1.25h-4.72zM273.43 151.47h4.72v1.25h-4.72zM255.57 152.48h4.72v1.25h-4.72zM260.03 154.48h4.72v1.25h-4.72zM277.89 154.48h4.72v1.25h-4.72zM255.57 155.49h4.72v1.25h-4.72zM268.96 156.49h4.72v1.25h-4.72zM255.57 157.49h4.72v1.25h-4.72zM268.96 157.49h4.72v1.25h-4.72zM264.5 158.5h4.72v1.25h-4.72zM255.57 159.5h4.72v1.25h-4.72zM268.96 159.5h4.72v1.25h-4.72zM251.1 160.5h4.72v1.25h-4.72zM277.89 160.5h4.72v1.25h-4.72zM268.96 161.51h4.72v1.25h-4.72zM273.43 161.51h4.72v1.25h-4.72zM255.57 162.51h4.72v1.25h-4.72zM255.57 163.51h4.72v1.25h-4.72zM282.36 164.52h4.72v1.25h-4.72zM264.5 165.52h4.72v1.25h-4.72zM260.03 167.52h4.72v1.25h-4.72zM268.96 168.53h4.72v1.25h-4.72zM277.89 168.53h4.72v1.25h-4.72zM313.61 168.53h4.72v1.25h-4.72zM255.57 169.53h4.72v1.25h-4.72zM282.36 170.53h4.72v1.25h-4.72zM291.29 170.53h4.72v1.25h-4.72zM251.1 171.54h4.72v1.25h-4.72zM264.5 171.54h4.72v1.25h-4.72zM255.57 172.54h4.72v1.25h-4.72zM277.89 172.54h4.72v1.25h-4.72zM251.1 173.54h4.72v1.25h-4.72zM255.57 173.54h4.72v1.25h-4.72zM264.5 174.55h4.72v1.25h-4.72zM273.43 174.55h4.72v1.25h-4.72zM268.96 175.55h4.72v1.25h-4.72zM273.43 175.55h4.72v1.25h-4.72zM277.89 175.55h4.72v1.25h-4.72zM255.57 176.55h4.72v1.25h-4.72zM268.96 176.55h4.72v1.25h-4.72zM277.89 176.55h4.72v1.25h-4.72zM268.96 177.56h4.72v1.25h-4.72zM277.89 177.56h4.72v1.25h-4.72zM273.43 179.56h4.72v1.25h-4.72zM277.89 179.56h4.72v1.25h-4.72zM268.96 180.57h4.72v1.25h-4.72zM273.43 180.57h4.72v1.25h-4.72zM277.89 180.57h4.72v1.25h-4.72zM255.57 181.57h4.72v1.25h-4.72zM277.89 181.57h4.72v1.25h-4.72zM282.36 181.57h4.72v1.25h-4.72zM286.82 181.57h4.72v1.25h-4.72zM291.29 181.57h4.72v1.25h-4.72zM300.22 181.57h4.72v1.25h-4.72zM313.61 181.57h4.72v1.25h-4.72zM251.1 182.57h4.72v1.25h-4.72zM264.5 182.57h4.72v1.25h-4.72zM273.43 182.57h4.72v1.25h-4.72zM268.96 183.57h4.72v1.25h-4.72zM277.89 184.58h4.72v1.25h-4.72zM282.36 184.58h4.72v1.25h-4.72zM251.1 185.58h4.72v1.25h-4.72zM268.96 185.58h4.72v1.25h-4.72zM273.43 185.58h4.72v1.25h-4.72zM277.89 185.58h4.72v1.25h-4.72zM313.61 185.58h4.72v1.25h-4.72zM264.5 187.59h4.72v1.25h-4.72zM268.96 188.59h4.72v1.25h-4.72zM268.96 189.59h4.72v1.25h-4.72zM251.1 190.6h4.72v1.25h-4.72z" fill="#7ba37e"/>
<path d="M295.75 63.2h4.72v1.25h-4.72zM291.29 64.2h4.72v1.25h-4.72zM318.08 64.2h4.72v1.25h-4.72zM318.08 65.21h4.72v1.25h-4.72zM322.54 65.21h4.72v1.25h-4.72zM331.47 65.21h4.72v1.25h-4.72zM327.01 66.21h4.72v1.25h-4.72zM327.01 67.21h4.72v1.25h-4.72zM318.08 68.22h4.72v1.25h-4.72zM327.01 68.22h4.72v1.25h-4.72zM327.01 69.22h4.72v1.25h-4.72zM322.54 70.22h4.72v1.25h-4.72zM295.75 71.22h4.72v1.25h-4.72zM318.08 71.22h4.72v1.25h-4.72zM322.54 71.22h4.72v1.25h-4.72zM327.01 71.22h4.72v1.25h-4.72zM331.47 71.22h4.72v1.25h-4.72zM309.15 72.23h4.72v1.25h-4.72zM327.01 72.23h4.72v1.25h-4.72zM335.94 72.23h4.72v1.25h-4.72zM344.87 72.23h4.72v1.25h-4.72zM322.54 73.23h4.72v1.25h-4.72zM318.08 74.23h4.72v1.25h-4.72zM331.47 74.23h4.72v1.25h-4.72zM264.5 75.24h4.72v1.25h-4.72zM322.54 75.24h4.72v1.25h-4.72zM331.47 76.24h4.72v1.25h-4.72zM291.29 77.24h4.72v1.25h-4.72zM318.08 77.24h4.72v1.25h-4.72zM286.82 78.25h4.72v1.25h-4.72zM318.08 79.25h4.72v1.25h-4.72zM322.54 80.25h4.72v1.25h-4.72zM327.01 80.25h4.72v1.25h-4.72zM268.96 81.26h4.72v1.25h-4.72zM327.01 81.26h4.72v1.25h-4.72zM327.01 82.26h4.72v1.25h-4.72zM327.01 83.26h4.72v1.25h-4.72zM309.15 84.27h4.72v1.25h-4.72zM318.08 84.27h4.72v1.25h-4.72zM322.54 84.27h4.72v1.25h-4.72zM331.47 84.27h4.72v1.25h-4.72zM318.08 85.27h4.72v1.25h-4.72zM322.54 85.27h4.72v1.25h-4.72zM331.47 85.27h4.72v1.25h-4.72zM335.94 85.27h4.72v1.25h-4.72zM340.4 85.27h4.72v1.25h-4.72zM318.08 86.27h4.72v1.25h-4.72zM335.94 86.27h4.72v1.25h-4.72zM318.08 87.28h4.72v1.25h-4.72zM331.47 87.28h4.72v1.25h-4.72zM318.08 88.28h4.72v1.25h-4.72zM331.47 88.28h4.72v1.25h-4.72zM291.29 89.28h4.72v1.25h-4.72zM318.08 89.28h4.72v1.25h-4.72zM309.15 90.28h4.72v1.25h-4.72zM331.47 92.29h4.72v1.25h-4.72zM318.08 93.29h4.72v1.25h-4.72zM327.01 93.29h4.72v1.25h-4.72zM349.33 93.29h4.72v1.25h-4.72zM295.75 94.3h4.72v1.25h-4.72zM322.54 94.3h4.72v1.25h-4.72zM327.01 94.3h4.72v1.25h-4.72zM331.47 94.3h4.72v1.25h-4.72zM322.54 95.3h4.72v1.25h-4.72zM327.01 95.3h4.72v1.25h-4.72zM340.4 95.3h4.72v1.25h-4.72zM251.1 96.3h4.72v1.25h-4.72zM318.08 96.3h4.72v1.25h-4.72zM322.54 96.3h4.72v1.25h-4.72zM327.01 96.3h4.72v1.25h-4.72zM331.47 96.3h4.72v1.25h-4.72zM318.08 97.31h4.72v1.25h-4.72zM322.54 97.31h4.72v1.25h-4.72zM300.22 98.31h4.72v1.25h-4.72zM322.54 98.31h4.72v1.25h-4.72zM318.08 99.31h4.72v1.25h-4.72zM322.54 99.31h4.72v1.25h-4.72zM327.01 99.31h4.72v1.25h-4.72zM268.96 100.32h4.72v1.25h-4.72zM340.4 100.32h4.72v1.25h-4.72zM331.47 101.32h4.72v1.25h-4.72zM349.33 101.32h4.72v1.25h-4.72zM318.08 102.32h4.72v1.25h-4.72zM327.01 102.32h4.72v1.25h-4.72zM322.54 103.32h4.72v1.25h-4.72zM331.47 103.32h4.72v1.25h-4.72zM322.54 104.33h4.72v1.25h-4.72zM327.01 105.33h4.72v1.25h-4.72zM331.47 106.33h4.72v1.25h-4.72zM327.01 107.34h4.72v1.25h-4.72zM322.54 108.34h4.72v1.25h-4.72zM327.01 108.34h4.72v1.25h-4.72zM327.01 109.34h4.72v1.25h-4.72zM318.08 110.35h4.72v1.25h-4.72zM322.54 110.35h4.72v1.25h-4.72zM318.08 111.35h4.72v1.25h-4.72zM327.01 111.35h4.72v1.25h-4.72zM318.08 112.35h4.72v1.25h-4.72zM322.54 112.35h4.72v1.25h-4.72zM331.47 112.35h4.72v1.25h-4.72zM264.5 114.36h4.72v1.25h-4.72zM291.29 114.36h4.72v1.25h-4.72zM322.54 114.36h4.72v1.25h-4.72zM268.96 115.36h4.72v1.25h-4.72zM313.61 115.36h4.72v1.25h-4.72zM322.54 115.36h4.72v1.25h-4.72zM327.01 116.37h4.72v1.25h-4.72zM331.47 117.37h4.72v1.25h-4.72zM349.33 117.37h4.72v1.25h-4.72zM322.54 118.37h4.72v1.25h-4.72zM318.08 119.38h4.72v1.25h-4.72zM322.54 119.38h4.72v1.25h-4.72zM327.01 119.38h4.72v1.25h-4.72zM327.01 120.38h4.72v1.25h-4.72zM331.47 120.38h4.72v1.25h-4.72zM309.15 121.38h4.72v1.25h-4.72zM331.47 121.38h4.72v1.25h-4.72zM318.08 122.38h4.72v1.25h-4.72zM340.4 122.38h4.72v1.25h-4.72zM268.96 123.39h4.72v1.25h-4.72zM318.08 124.39h4.72v1.25h-4.72zM318.08 125.39h4.72v1.25h-4.72zM322.54 125.39h4.72v1.25h-4.72zM327.01 125.39h4.72v1.25h-4.72zM322.54 126.4h4.72v1.25h-4.72zM327.01 126.4h4.72v1.25h-4.72zM318.08 128.4h4.72v1.25h-4.72zM327.01 128.4h4.72v1.25h-4.72zM318.08 129.41h4.72v1.25h-4.72zM331.47 129.41h4.72v1.25h-4.72zM300.22 130.41h4.72v1.25h-4.72zM318.08 130.41h4.72v1.25h-4.72zM327.01 130.41h4.72v1.25h-4.72zM331.47 130.41h4.72v1.25h-4.72zM335.94 130.41h4.72v1.25h-4.72zM340.4 130.41h4.72v1.25h-4.72zM295.75 131.41h4.72v1.25h-4.72zM318.08 131.41h4.72v1.25h-4.72zM327.01 131.41h4.72v1.25h-4.72zM327.01 132.42h4.72v1.25h-4.72zM318.08 133.42h4.72v1.25h-4.72zM318.08 134.42h4.72v1.25h-4.72zM344.87 134.42h4.72v1.25h-4.72zM327.01 135.43h4.72v1.25h-4.72zM318.08 136.43h4.72v1.25h-4.72zM322.54 136.43h4.72v1.25h-4.72zM327.01 136.43h4.72v1.25h-4.72zM318.08 137.43h4.72v1.25h-4.72zM322.54 137.43h4.72v1.25h-4.72zM327.01 137.43h4.72v1.25h-4.72zM335.94 137.43h4.72v1.25h-4.72zM322.54 138.43h4.72v1.25h-4.72zM327.01 138.43h4.72v1.25h-4.72zM322.54 139.44h4.72v1.25h-4.72zM286.82 140.44h4.72v1.25h-4.72zM264.5 141.44h4.72v1.25h-4.72zM273.43 141.44h4.72v1.25h-4.72zM260.03 144.45h4.72v1.25h-4.72zM264.5 144.45h4.72v1.25h-4.72zM277.89 146.46h4.72v1.25h-4.72zM286.82 146.46h4.72v1.25h-4.72zM309.15 148.47h4.72v1.25h-4.72zM268.96 149.47h4.72v1.25h-4.72zM273.43 149.47h4.72v1.25h-4.72zM268.96 151.47h4.72v1.25h-4.72zM277.89 151.47h4.72v1.25h-4.72zM268.96 152.48h4.72v1.25h-4.72zM277.89 153.48h4.72v1.25h-4.72zM251.1 154.48h4.72v1.25h-4.72zM268.96 154.48h4.72v1.25h-4.72zM273.43 154.48h4.72v1.25h-4.72zM277.89 156.49h4.72v1.25h-4.72zM255.57 158.5h4.72v1.25h-4.72zM277.89 158.5h4.72v1.25h-4.72zM282.36 159.5h4.72v1.25h-4.72zM273.43 160.5h4.72v1.25h-4.72zM273.43 163.51h4.72v1.25h-4.72zM277.89 163.51h4.72v1.25h-4.72zM255.57 164.52h4.72v1.25h-4.72zM260.03 165.52h4.72v1.25h-4.72zM268.96 165.52h4.72v1.25h-4.72zM277.89 165.52h4.72v1.25h-4.72zM268.96 167.52h4.72v1.25h-4.72zM268.96 169.53h4.72v1.25h-4.72zM268.96 170.53h4.72v1.25h-4.72zM277.89 170.53h4.72v1.25h-4.72zM268.96 171.54h4.72v1.25h-4.72zM277.89 171.54h4.72v1.25h-4.72zM273.43 172.54h4.72v1.25h-4.72zM309.15 172.54h4.72v1.25h-4.72zM273.43 173.54h4.72v1.25h-4.72zM273.43 176.55h4.72v1.25h-4.72zM295.75 181.57h4.72v1.25h-4.72zM309.15 181.57h4.72v1.25h-4.72zM277.89 183.57h4.72v1.25h-4.72zM309.15 185.58h4.72v1.25h-4.72zM273.43 186.58h4.72v1.25h-4.72zM273.43 187.59h4.72v1.25h-4.72zM277.89 187.59h4.72v1.25h-4.72zM273.43 189.59h4.72v1.25h-4.72zM277.89 190.6h4.72v1.25h-4.72z" fill="#6d9170"/>
<path d="M318.08 63.2h4.72v1.25h-4.72zM322.54 63.2h4.72v1.25h-4.72zM327.01 64.2h4.72v1.25h-4.72zM327.01 65.21h4.72v1.25h-4.72zM318.08 66.21h4.72v1.25h-4.72zM349.33 66.21h4.72v1.25h-4.72zM344.87 69.22h4.72v1.25h-4.72zM349.33 69.22h4.72v1.25h-4.72zM331.47 72.23h4.72v1.25h-4.72zM349.33 72.23h4.72v1.25h-4.72zM327.01 73.23h4.72v1.25h-4.72zM318.08 75.24h4.72v1.25h-4.72zM335.94 75.24h4.72v1.25h-4.72zM295.75 76.24h4.72v1.25h-4.72zM295.75 77.24h4.72v1.25h-4.72zM300.22 77.24h4.72v1.25h-4.72zM327.01 77.24h4.72v1.25h-4.72zM291.29 78.25h4.72v1.25h-4.72zM318.08 78.25h4.72v1.25h-4.72zM349.33 78.25h4.72v1.25h-4.72zM327.01 79.25h4.72v1.25h-4.72zM331.47 79.25h4.72v1.25h-4.72zM322.54 81.26h4.72v1.25h-4.72zM318.08 83.26h4.72v1.25h-4.72zM349.33 84.27h4.72v1.25h-4.72zM327.01 88.28h4.72v1.25h-4.72zM331.47 90.28h4.72v1.25h-4.72zM318.08 92.29h4.72v1.25h-4.72zM318.08 95.3h4.72v1.25h-4.72zM331.47 97.31h4.72v1.25h-4.72zM335.94 97.31h4.72v1.25h-4.72zM295.75 98.31h4.72v1.25h-4.72zM327.01 98.31h4.72v1.25h-4.72zM335.94 99.31h4.72v1.25h-4.72zM318.08 100.32h4.72v1.25h-4.72zM331.47 100.32h4.72v1.25h-4.72zM344.87 101.32h4.72v1.25h-4.72zM318.08 104.33h4.72v1.25h-4.72zM318.08 106.33h4.72v1.25h-4.72zM322.54 107.34h4.72v1.25h-4.72zM327.01 112.35h4.72v1.25h-4.72zM327.01 113.36h4.72v1.25h-4.72zM331.47 113.36h4.72v1.25h-4.72zM327.01 114.36h4.72v1.25h-4.72zM318.08 115.36h4.72v1.25h-4.72zM327.01 115.36h4.72v1.25h-4.72zM318.08 118.37h4.72v1.25h-4.72zM327.01 118.37h4.72v1.25h-4.72zM318.08 120.38h4.72v1.25h-4.72zM318.08 121.38h4.72v1.25h-4.72zM327.01 121.38h4.72v1.25h-4.72zM318.08 123.39h4.72v1.25h-4.72zM322.54 123.39h4.72v1.25h-4.72zM327.01 123.39h4.72v1.25h-4.72zM331.47 124.39h4.72v1.25h-4.72zM318.08 126.4h4.72v1.25h-4.72zM331.47 126.4h4.72v1.25h-4.72zM331.47 127.4h4.72v1.25h-4.72zM295.75 130.41h4.72v1.25h-4.72zM318.08 132.42h4.72v1.25h-4.72zM295.75 134.42h4.72v1.25h-4.72zM300.22 134.42h4.72v1.25h-4.72zM340.4 134.42h4.72v1.25h-4.72zM318.08 138.43h4.72v1.25h-4.72zM335.94 138.43h4.72v1.25h-4.72zM318.08 139.44h4.72v1.25h-4.72zM318.08 140.44h4.72v1.25h-4.72zM327.01 140.44h4.72v1.25h-4.72zM313.61 141.44h4.72v1.25h-4.72zM251.1 143.45h4.72v1.25h-4.72zM282.36 152.48h4.72v1.25h-4.72zM273.43 158.5h4.72v1.25h-4.72zM309.15 160.5h4.72v1.25h-4.72zM268.96 164.52h4.72v1.25h-4.72zM282.36 166.52h4.72v1.25h-4.72zM309.15 166.52h4.72v1.25h-4.72zM268.96 172.54h4.72v1.25h-4.72zM264.5 173.54h4.72v1.25h-4.72zM268.96 173.54h4.72v1.25h-4.72zM268.96 174.55h4.72v1.25h-4.72zM268.96 179.56h4.72v1.25h-4.72zM264.5 181.57h4.72v1.25h-4.72zM273.43 181.57h4.72v1.25h-4.72zM273.43 183.57h4.72v1.25h-4.72zM251.1 186.58h4.72v1.25h-4.72zM268.96 187.59h4.72v1.25h-4.72zM273.43 188.59h4.72v1.25h-4.72z" fill="#628164"/>
<path d="M349.33 64.2h4.72v1.25h-4.72zM344.87 66.21h4.72v1.25h-4.72zM318.08 69.22h4.72v1.25h-4.72zM300.22 71.22h4.72v1.25h-4.72zM340.4 75.24h4.72v1.25h-4.72zM295.75 78.25h4.72v1.25h-4.72zM327.01 78.25h4.72v1.25h-4.72zM340.4 79.25h4.72v1.25h-4.72zM349.33 79.25h4.72v1.25h-4.72zM327.01 84.27h4.72v1.25h-4.72zM331.47 86.27h4.72v1.25h-4.72zM322.54 87.28h4.72v1.25h-4.72zM335.94 90.28h4.72v1.25h-4.72zM335.94 95.3h4.72v1.25h-4.72zM327.01 97.31h4.72v1.25h-4.72zM340.4 97.31h4.72v1.25h-4.72zM335.94 98.31h4.72v1.25h-4.72zM327.01 101.32h4.72v1.25h-4.72zM318.08 103.32h4.72v1.25h-4.72zM331.47 110.35h4.72v1.25h-4.72zM295.75 114.36h4.72v1.25h-4.72zM318.08 114.36h4.72v1.25h-4.72zM331.47 115.36h4.72v1.25h-4.72zM300.22 116.37h4.72v1.25h-4.72zM335.94 119.38h4.72v1.25h-4.72zM322.54 120.38h4.72v1.25h-4.72zM327.01 124.39h4.72v1.25h-4.72zM327.01 127.4h4.72v1.25h-4.72zM327.01 129.41h4.72v1.25h-4.72zM331.47 132.42h4.72v1.25h-4.72zM335.94 132.42h4.72v1.25h-4.72zM318.08 135.43h4.72v1.25h-4.72zM322.54 135.43h4.72v1.25h-4.72zM349.33 135.43h4.72v1.25h-4.72zM268.96 142.45h4.72v1.25h-4.72zM273.43 142.45h4.72v1.25h-4.72zM277.89 142.45h4.72v1.25h-4.72zM268.96 144.45h4.72v1.25h-4.72zM268.96 158.5h4.72v1.25h-4.72zM277.89 159.5h4.72v1.25h-4.72zM277.89 161.51h4.72v1.25h-4.72zM277.89 164.52h4.72v1.25h-4.72zM273.43 166.52h4.72v1.25h-4.72zM273.43 170.53h4.72v1.25h-4.72zM255.57 179.56h4.72v1.25h-4.72zM268.96 181.57h4.72v1.25h-4.72zM277.89 182.57h4.72v1.25h-4.72zM255.57 186.58h4.72v1.25h-4.72zM277.89 188.59h4.72v1.25h-4.72z" fill="#577259"/>
<path d="M295.75 64.2h4.72v1.25h-4.72zM327.01 70.22h4.72v1.25h-4.72zM349.33 70.22h4.72v1.25h-4.72zM331.47 75.24h4.72v1.25h-4.72zM300.22 76.24h4.72v1.25h-4.72zM327.01 87.28h4.72v1.25h-4.72zM295.75 89.28h4.72v1.25h-4.72zM327.01 89.28h4.72v1.25h-4.72zM331.47 89.28h4.72v1.25h-4.72zM327.01 90.28h4.72v1.25h-4.72zM322.54 91.29h4.72v1.25h-4.72zM327.01 92.29h4.72v1.25h-4.72zM322.54 113.36h4.72v1.25h-4.72zM335.94 134.42h4.72v1.25h-4.72zM349.33 137.43h4.72v1.25h-4.72zM340.4 140.44h4.72v1.25h-4.72zM251.1 152.48h4.72v1.25h-4.72zM268.96 162.51h4.72v1.25h-4.72zM273.43 164.52h4.72v1.25h-4.72zM273.43 177.56h4.72v1.25h-4.72z" fill="#4d634e"/>
<path d="M300.22 63.2h4.72v1.25h-4.72zM327.01 63.2h4.72v1.25h-4.72zM331.47 78.25h4.72v1.25h-4.72zM318.08 91.29h4.72v1.25h-4.72zM331.47 98.31h4.72v1.25h-4.72zM322.54 100.32h4.72v1.25h-4.72zM327.01 110.35h4.72v1.25h-4.72zM318.08 113.36h4.72v1.25h-4.72zM327.01 134.42h4.72v1.25h-4.72zM268.96 141.44h4.72v1.25h-4.72zM268.96 146.46h4.72v1.25h-4.72zM277.89 166.52h4.72v1.25h-4.72zM273.43 169.53h4.72v1.25h-4.72zM277.89 169.53h4.72v1.25h-4.72z" fill="#435644"/>
<path d="M327.01 75.24h4.72v1.25h-4.72zM327.01 117.37h4.72v1.25h-4.72zM318.08 127.4h4.72v1.25h-4.72zM331.47 134.42h4.72v1.25h-4.72zM273.43 146.46h4.72v1.25h-4.72zM268.96 182.57h4.72v1.25h-4.72z" fill="#3e503f"/>
</g></g>
<rect x="251.1" y="55.6" width="35.92" height="5.6" fill="#057df8"/>
<rect x="286.82" y="55.6" width="31.46" height="5.6" fill="#ff2900"/>
<rect x="318.08" y="55.6" width="4.67" height="5.6" fill="#c1b394"/>
<rect x="322.54" y="55.6" width="4.67" height="5.6" fill="#ff2900"/>
<rect x="327.01" y="55.6" width="26.99" height="5.6" fill="#c1b394"/>
<path d="M268.5 39.7V2.1H315.9V30.4M298.6 42.8V30.4H333.4V41.6M257.7 45V39.7H279.4V43.5M253.33 53.7V45H261.82V47.2M257.8 53.7V47.2H265.84V49M262.26 53.7V49H268.96V50.5M266.73 53.7V50.5H271.19V53.7M275.66 53.7V43.5H282.36V47.5M280.12 53.7V47.5H284.59V53.7M290.84 45.5V42.8H309.59V46M289.05 53.7V45.5H293.52V53.7M300.22 49V46H313.61V48M297.98 53.7V49H302.45V53.7M309.15 50V48H315.85V53.7M306.92 53.7V50H311.38V53.7M322.99 46V41.6H345.32V44.5M320.31 53.7V46H327.46V48.5M324.78 53.7V48.5H331.47V50M329.24 53.7V50H333.71V53.7M340.4 47.5V44.5H349.33V49M338.17 53.7V47.5H342.64V53.7M347.1 53.7V49H351.57V53.7" stroke="#000" stroke-width="0.75" fill="none"/>
<path d="M244.6 65.39H240.05V65.88H244.6M244.6 68.84H242.25V69.22H244.6M244.6 69.65H241.49V70.16H244.6M244.6 70.52H240.93V71H244.6M244.6 71.66H240.05V72.07H244.6M244.6 72.37H240.05V72.84H244.6M244.6 73.51H241.43V73.96H244.6M244.6 76.03H239.31V76.46H244.6M244.6 77.1H240.56V77.59H244.6M244.6 79.67H240.73V80.12H244.6M244.6 81H239.92V81.47H244.6M244.6 82.3H241.8V82.73H244.6M244.6 86.24H238.42V86.71H244.6M244.6 87.51H242V87.95H244.6M244.6 90.04H241.93V90.46H244.6M244.6 91.31H240.13V91.79H244.6M244.6 92.53H239.68V92.92H244.6M244.6 93.74H242.02V94.12H244.6M244.6 95.16H240.43V95.54H244.6M244.6 96.43H242.23V96.83H244.6M244.6 97.39H241.33V97.85H244.6M244.6 98.45H241.97V98.89H244.6M244.6 100.95H242.11V101.34H244.6M244.6 102.9H241.34V103.28H244.6M241.34 103.09H240.44V103.56H244.6M244.6 104.28H242.09V104.67H244.6M244.6 106.38H240.35V106.82H244.6M244.6 109.42H240.83V109.81H244.6M240.83 109.62H239.93V110.07H244.6M244.6 110.35H239.03V110.82H244.6M244.6 111.35H238.3V111.84H244.6M244.6 115.89H242.17V116.27H244.6M244.6 116.72H240.99V117.23H244.6M244.6 119.86H240.28V120.27H244.6M244.6 121.92H239.55V122.39H244.6M244.6 122.83H241.78V123.27H244.6M244.6 123.58H241.78V123.99H244.6M244.6 127.76H240.29V128.31H244.6M244.6 128.72H240.51V129.12H244.6M240.51 128.92H239.61V129.43H244.6M244.6 129.81H238.93V130.27H244.6M244.6 132.32H241.35V132.77H244.6M244.6 134.75H241.21V135.28H244.6M244.6 135.8H241.14V136.29H244.6M244.6 141.23H240.17V141.62H244.6M244.6 143.3H241.68V143.73H244.6M244.6 144.9H240.67V145.41H244.6M244.6 146.36H241.58V146.85H244.6M244.6 147.47H240.4V147.88H244.6M244.6 148.32H238.24V148.82H244.6M244.6 149.12H238.89V149.51H244.6M244.6 150.09H239.18V150.64H244.6M244.6 151.53H241.75V151.92H244.6M244.6 152.97H240.75V153.42H244.6M244.6 153.75H241.74V154.25H244.6M244.6 154.71H242.09V155.18H244.6M244.6 162.64H242.9V163.03H244.6M244.6 162.23H242V162.84H242.9M244.6 163.35H239.5V163.89H244.6M244.6 165.59H241.08V166.01H244.6M244.6 166.63H240.29V167.15H244.6M244.6 168.78H241.96V169.2H244.6M244.6 169.81H238.77V170.26H244.6M244.6 174.55H241.17V174.96H244.6M244.6 175.45H239.37V175.87H244.6M244.6 177.08H240.59V177.55H244.6M244.6 178.1H241.61V178.6H244.6M244.6 179.01H241.61V179.51H244.6M244.6 180.05H241.74V180.48H244.6M244.6 181.5H241.29V181.91H244.6M244.6 182.25H240.64V182.66H244.6M244.6 183.14H240.64V183.55H244.6M244.6 183.95H241.63V184.4H244.6M244.6 189.29H241.56V189.71H244.6M244.6 190.61H241.03V191.02H244.6" stroke="#000" stroke-width="0.5" fill="none"/>
<path d="M244.6 64.25H241.58V64.81H244.6M244.6 63.81H240.68V64.53H241.58M244.6 63.41H238.15V64.17H240.68M240.05 65.64H235.47V66.47H244.6M244.6 68.44H241.35V69.03H242.25M244.6 67.92H240.45V68.73H241.35M244.6 67.2H239.55V68.32H240.45M239.55 67.76H237.62V69.91H241.49M237.62 68.83H236.18V70.76H240.93M235.47 66.05H234.57V69.8H236.18M238.15 63.79H233.33V67.93H234.57M240.05 71.86H239.15V72.61H240.05M241.43 73.73H239.69V74.32H244.6M244.6 74.89H237.37V75.56H244.6M239.69 74.03H235.13V75.22H237.37M239.15 72.24H234.23V74.63H235.13M240.56 77.34H239.66V77.97H244.6M239.66 77.66H237.53V78.52H244.6M239.31 76.24H236.63V78.09H237.53M234.23 73.43H233.33V77.17H236.63M233.33 65.86H232.43V75.3H233.33M240.73 79.9H237.23V80.58H244.6M244.6 79.11H236.33V80.24H237.23M244.6 82.02H240.9V82.52H241.8M239.92 81.23H236.33V82.27H240.9M236.33 79.68H234.23V81.75H236.33M244.6 83.83H240.36V84.46H244.6M244.6 83.31H239.46V84.15H240.36M234.23 80.71H233.33V83.73H239.46M244.6 85.15H237.1V85.76H244.6M244.6 87.17H241.1V87.73H242M241.1 87.45H240.2V88.42H244.6M238.42 86.47H237.52V87.93H240.2M244.6 88.91H240.34V89.48H244.6M237.52 87.2H235.18V89.2H240.34M237.1 85.45H234.28V88.2H235.18M233.33 82.22H232.43V86.83H234.28M232.43 70.58H231.53V84.52H232.43M241.93 90.25H241.03V90.83H244.6M240.13 91.55H237.25V92.24H244.6M241.03 90.54H235.99V91.9H237.25M235.99 91.22H234.64V92.72H239.68M244.6 93.4H240.83V93.93H242.02M244.6 96.05H241.33V96.63H242.23M241.33 96.34H240.43V97.62H241.33M240.43 95.35H239.53V96.98H240.43M244.6 94.71H238.63V96.17H239.53M240.83 93.66H235.96V95.44H238.63M234.64 91.97H232.14V94.55H235.96M244.6 98.11H241.07V98.67H241.97M241.07 98.39H240.17V99.34H244.6M244.6 99.9H241.21V100.51H244.6M242.11 101.15H241.21V101.76H244.6M241.21 100.2H240.31V101.45H241.21M240.17 98.86H237.6V100.83H240.31M244.6 102.27H239.54V103.33H240.44M244.6 103.93H239.05V104.47H242.09M239.05 104.2H236.72V105.15H244.6M239.54 102.8H234.53V104.68H236.72M240.35 106.6H239.45V107.06H244.6M244.6 105.73H236.83V106.83H239.45M244.6 108.03H240.76V108.59H244.6M244.6 107.45H239.86V108.31H240.76M244.6 109H239.03V109.84H239.93M239.03 109.42H238.13V110.59H239.03M238.13 110H237.23V111.59H238.3M239.86 107.88H236.33V110.8H237.23M244.6 112.38H239.98V112.95H244.6M239.98 112.66H239.08V113.42H244.6M236.33 109.34H235.43V113.04H239.08M236.83 106.28H234.53V111.19H235.43M234.53 103.74H233.63V108.73H234.53M237.6 99.85H232.73V106.24H233.63M244.6 114.47H238.72V115.09H244.6M238.72 114.78H237.42V115.62H244.6M244.6 113.9H235.25V115.2H237.42M235.25 114.55H234.35V116.08H242.17M240.99 116.98H240.09V117.77H244.6M244.6 118.77H239.65V119.33H244.6M244.6 118.28H237.59V119.05H239.65M240.09 117.37H236.15V118.67H237.59M244.6 120.77H237.95V121.36H244.6M237.95 121.06H237.05V122.15H239.55M240.28 120.06H236.15V121.61H237.05M236.15 118.02H235.25V120.84H236.15M241.78 123.05H240.88V123.79H241.78M235.25 119.43H234.35V123.42H240.88M234.35 115.32H233.45V121.42H234.35M244.6 124.56H238.98V125.15H244.6M238.98 124.86H237.47V125.85H244.6M244.6 127.1H239.39V128.03H240.29M244.6 126.5H236.85V127.56H239.39M239.61 129.18H236V130.04H238.93M236.85 127.03H234.37V129.61H236M237.47 125.36H233.47V128.32H234.37M233.45 118.37H232.13V126.84H233.47M232.73 103.04H230.36V122.6H232.13M232.14 93.26H229.46V112.82H230.36M231.53 77.55H228.56V103.04H229.46M244.6 130.81H240.66V131.38H244.6M240.66 131.09H239.76V131.82H244.6M239.76 131.45H234.6V132.54H241.35M244.6 134.22H240.31V135.01H241.21M244.6 133.83H239.41V134.62H240.31M244.6 133.26H237.35V134.22H239.41M234.6 132H232.44V133.74H237.35M241.14 136.05H240.24V136.75H244.6M244.6 137.36H238.89V138.01H244.6M244.6 139.37H239.37V140.1H244.6M244.6 138.69H237.94V139.73H239.37M237.94 139.21H234.58V140.73H244.6M238.89 137.69H233.64V139.97H234.58M240.24 136.4H232.74V138.83H233.64M232.44 132.87H231.54V137.61H232.74M244.6 143.02H240.78V143.52H241.68M244.6 142.69H239.88V143.27H240.78M239.88 142.98H238.98V144.38H244.6M244.6 142.14H238.08V143.68H238.98M240.17 141.42H237.18V142.91H238.08M240.67 145.15H239.77V146.01H244.6M241.58 146.61H236.75V147.67H240.4M239.77 145.58H235.85V147.14H236.75M237.18 142.17H234.95V146.36H235.85M244.6 151.11H240.85V151.73H241.75M239.18 150.36H238.28V151.42H240.85M238.89 149.31H235.85V150.89H238.28M238.24 148.57H234.95V150.1H235.85M234.95 144.26H234.05V149.34H234.95M244.6 152.39H239.56V153.19H240.75M242.09 154.95H241.19V155.75H244.6M241.74 154H240.29V155.35H241.19M244.6 156.33H241.5V156.98H244.6M241.5 156.66H240.6V157.59H244.6M240.6 157.12H239.7V158.17H244.6M240.29 154.67H235.52V157.64H239.7M239.56 152.79H234.62V156.16H235.52M244.6 158.72H239.83V159.31H244.6M239.83 159.02H236.94V160H244.6M244.6 161.81H241.1V162.53H242M244.6 161.26H240.2V162.17H241.1M244.6 160.68H239.3V161.72H240.2M236.94 159.51H233.95V161.2H239.3M244.6 165.02H240.18V165.8H241.08M244.6 164.51H239.28V165.41H240.18M239.5 163.62H238.38V164.96H239.28M233.95 160.35H233.05V164.29H238.38M244.6 166.24H239.39V166.89H240.29M244.6 168.54H240.72V168.99H241.96M244.6 168.25H239.82V168.76H240.72M244.6 167.76H238.1V168.51H239.82M239.39 166.56H237.2V168.14H238.1M238.77 170.04H237.87V170.66H244.6M244.6 171.14H240.09V171.69H244.6M237.87 170.35H236.84V171.42H240.09M244.6 172.83H242.07V173.4H244.6M242.07 173.11H241.17V173.81H244.6M244.6 172.23H240.27V173.46H241.17M244.6 174.17H240.27V174.75H241.17M240.27 172.85H239.37V174.46H240.27M239.37 173.65H238.47V175.66H239.37M236.84 170.88H234.43V174.66H238.47M237.2 167.35H233.05V172.77H234.43M233.05 162.32H232.15V170.06H233.05M234.62 154.48H231.25V166.19H232.15M234.05 146.8H229.18V160.33H231.25M244.6 176.66H239.69V177.32H240.59M244.6 176.25H238.79V176.99H239.69M241.61 178.35H240.71V179.26H241.61M241.74 180.27H240.84V180.94H244.6M240.71 178.81H236.78V180.6H240.84M238.79 176.62H235.88V179.7H236.78M240.64 182.46H239.74V183.34H240.64M239.74 182.9H238.84V184.17H241.63M241.29 181.7H237.94V183.54H238.84M235.88 178.16H231.39V182.62H237.94M244.6 184.94H241.32V185.59H244.6M241.32 185.27H238.81V186.25H244.6M244.6 186.97H238.16V187.56H244.6M244.6 188.07H240.97V188.66H244.6M241.56 189.5H240.66V189.95H244.6M240.97 188.37H238.36V189.72H240.66M241.03 190.81H239.55V191.42H244.6M244.6 190.25H238.65V191.11H239.55M238.36 189.05H237.46V190.68H238.65M238.16 187.26H235.01V189.86H237.46M238.81 185.76H234.11V188.56H235.01M231.39 180.39H228.27V187.16H234.11M228.56 90.3H221.8V135.24H231.54M229.18 153.57H223.5V183.78H228.27M221.8 112.77H208.9V168.67H223.5" stroke="#000" stroke-width="0.65" fill="none"/>
<rect x="244.2" y="62.8" width="5.8" height="129" fill="#000"/>
<text transform="translate(357.8 123.7) rotate(90)" font-size="9.25" text-anchor="middle">DRN RNA-seq</text>
<text x="303" y="201.8" font-size="9.2" text-anchor="middle">Male</text>
<rect x="363.1" y="3.5" width="11.2" height="30.4" fill="#f3faf1"/>
<rect x="374.1" y="3.5" width="11.2" height="30.4" fill="#d3ecd2"/>
<rect x="385.1" y="3.5" width="11.2" height="30.4" fill="#9ed0a0"/>
<rect x="396.1" y="3.5" width="11.2" height="30.4" fill="#6b8e6e"/>
<rect x="407.1" y="3.5" width="11.2" height="30.4" fill="#435544"/>
<path d="M363.1 33.9L418.1 33.9" stroke="#000" stroke-width="0.6" fill="none"/>
<path d="M366.4 33.9L366.4 36.6" stroke="#000" stroke-width="0.6" fill="none"/>
<path d="M374.42 33.9L374.42 36.6" stroke="#000" stroke-width="0.6" fill="none"/>
<path d="M382.44 33.9L382.44 36.6" stroke="#000" stroke-width="0.6" fill="none"/>
<path d="M390.46 33.9L390.46 36.6" stroke="#000" stroke-width="0.6" fill="none"/>
<path d="M398.48 33.9L398.48 36.6" stroke="#000" stroke-width="0.6" fill="none"/>
<path d="M406.5 33.9L406.5 36.6" stroke="#000" stroke-width="0.6" fill="none"/>
<path d="M414.52 33.9L414.52 36.6" stroke="#000" stroke-width="0.6" fill="none"/>
<text x="398.3" y="44.6" font-size="9.5" text-anchor="middle">1</text>
<text x="414.5" y="44.6" font-size="9.5" text-anchor="middle">3</text>
<text x="361.5" y="44.6" font-size="9.5" text-anchor="start"><tspan font-size="6.6" dy="-0.9">–</tspan><tspan dx="0.5" dy="0.9">3</tspan></text>
<text x="377.7" y="44.6" font-size="9.5" text-anchor="start"><tspan font-size="6.6" dy="-0.9">–</tspan><tspan dx="0.5" dy="0.9">1</tspan></text>
<text x="391.5" y="55.8" font-size="9.1" text-anchor="middle">Row Z-score</text>
<defs><filter id="hb2" x="-5%" y="-5%" width="110%" height="110%"><feGaussianBlur stdDeviation="0.45"/></filter><clipPath id="hc2"><rect x="271" y="278.8" width="82.8" height="121.7"/></clipPath></defs>
<g clip-path="url(#hc2)"><g filter="url(#hb2)">
<rect x="268" y="275.8" width="88.8" height="127.7" fill="#bca0dd"/>
<path d="M338.75 350.47h7.78v1.6h-7.78zM338.75 363.99h7.78v1.6h-7.78zM323.69 372.1h7.78v1.6h-7.78zM338.75 376.16h7.78v1.6h-7.78zM338.75 380.22h7.78v1.6h-7.78zM338.75 381.57h7.78v1.6h-7.78zM338.75 399.15h7.78v1.6h-7.78z" fill="#f5e6fa"/>
<path d="M286.05 278.8h7.78v1.6h-7.78zM286.05 303.14h7.78v1.6h-7.78zM286.05 309.9h7.78v1.6h-7.78zM308.64 315.31h7.78v1.6h-7.78zM323.69 339.65h7.78v1.6h-7.78zM323.69 342.35h7.78v1.6h-7.78zM331.22 342.35h7.78v1.6h-7.78zM338.75 343.71h7.78v1.6h-7.78zM323.69 350.47h7.78v1.6h-7.78zM338.75 351.82h7.78v1.6h-7.78zM338.75 358.58h7.78v1.6h-7.78zM323.69 359.93h7.78v1.6h-7.78zM331.22 359.93h7.78v1.6h-7.78zM316.16 361.29h7.78v1.6h-7.78zM346.27 363.99h7.78v1.6h-7.78zM316.16 365.34h7.78v1.6h-7.78zM338.75 365.34h7.78v1.6h-7.78zM346.27 365.34h7.78v1.6h-7.78zM316.16 366.69h7.78v1.6h-7.78zM338.75 366.69h7.78v1.6h-7.78zM316.16 368.05h7.78v1.6h-7.78zM338.75 368.05h7.78v1.6h-7.78zM338.75 369.4h7.78v1.6h-7.78zM323.69 373.46h7.78v1.6h-7.78zM338.75 373.46h7.78v1.6h-7.78zM316.16 374.81h7.78v1.6h-7.78zM323.69 378.86h7.78v1.6h-7.78zM316.16 380.22h7.78v1.6h-7.78zM338.75 386.98h7.78v1.6h-7.78zM338.75 388.33h7.78v1.6h-7.78zM323.69 389.68h7.78v1.6h-7.78zM331.22 389.68h7.78v1.6h-7.78zM346.27 389.68h7.78v1.6h-7.78zM331.22 393.74h7.78v1.6h-7.78zM338.75 393.74h7.78v1.6h-7.78zM346.27 395.09h7.78v1.6h-7.78zM316.16 399.15h7.78v1.6h-7.78z" fill="#efdcf7"/>
<path d="M286.05 280.15h7.78v1.6h-7.78zM308.64 285.56h7.78v1.6h-7.78zM293.58 288.27h7.78v1.6h-7.78zM308.64 289.62h7.78v1.6h-7.78zM286.05 290.97h7.78v1.6h-7.78zM293.58 290.97h7.78v1.6h-7.78zM293.58 292.32h7.78v1.6h-7.78zM308.64 292.32h7.78v1.6h-7.78zM286.05 296.38h7.78v1.6h-7.78zM301.11 299.08h7.78v1.6h-7.78zM308.64 299.08h7.78v1.6h-7.78zM286.05 301.79h7.78v1.6h-7.78zM301.11 303.14h7.78v1.6h-7.78zM286.05 304.49h7.78v1.6h-7.78zM286.05 307.2h7.78v1.6h-7.78zM293.58 312.61h7.78v1.6h-7.78zM286.05 313.96h7.78v1.6h-7.78zM293.58 313.96h7.78v1.6h-7.78zM293.58 316.66h7.78v1.6h-7.78zM308.64 316.66h7.78v1.6h-7.78zM308.64 318.01h7.78v1.6h-7.78zM301.11 320.72h7.78v1.6h-7.78zM271 327.48h7.78v1.6h-7.78zM286.05 327.48h7.78v1.6h-7.78zM286.05 330.18h7.78v1.6h-7.78zM293.58 335.59h7.78v1.6h-7.78zM286.05 336.95h7.78v1.6h-7.78zM316.16 338.3h7.78v1.6h-7.78zM323.69 338.3h7.78v1.6h-7.78zM331.22 338.3h7.78v1.6h-7.78zM338.75 338.3h7.78v1.6h-7.78zM346.27 339.65h7.78v1.6h-7.78zM316.16 341h7.78v1.6h-7.78zM323.69 341h7.78v1.6h-7.78zM338.75 342.35h7.78v1.6h-7.78zM323.69 343.71h7.78v1.6h-7.78zM338.75 345.06h7.78v1.6h-7.78zM338.75 346.41h7.78v1.6h-7.78zM323.69 349.12h7.78v1.6h-7.78zM346.27 349.12h7.78v1.6h-7.78zM323.69 351.82h7.78v1.6h-7.78zM346.27 351.82h7.78v1.6h-7.78zM323.69 353.17h7.78v1.6h-7.78zM323.69 355.88h7.78v1.6h-7.78zM338.75 355.88h7.78v1.6h-7.78zM323.69 357.23h7.78v1.6h-7.78zM323.69 358.58h7.78v1.6h-7.78zM331.22 358.58h7.78v1.6h-7.78zM346.27 361.29h7.78v1.6h-7.78zM316.16 363.99h7.78v1.6h-7.78zM323.69 363.99h7.78v1.6h-7.78zM331.22 363.99h7.78v1.6h-7.78zM316.16 369.4h7.78v1.6h-7.78zM346.27 369.4h7.78v1.6h-7.78zM338.75 370.75h7.78v1.6h-7.78zM338.75 372.1h7.78v1.6h-7.78zM316.16 373.46h7.78v1.6h-7.78zM346.27 373.46h7.78v1.6h-7.78zM323.69 374.81h7.78v1.6h-7.78zM331.22 374.81h7.78v1.6h-7.78zM338.75 374.81h7.78v1.6h-7.78zM316.16 376.16h7.78v1.6h-7.78zM323.69 376.16h7.78v1.6h-7.78zM331.22 376.16h7.78v1.6h-7.78zM346.27 376.16h7.78v1.6h-7.78zM316.16 377.51h7.78v1.6h-7.78zM323.69 377.51h7.78v1.6h-7.78zM331.22 377.51h7.78v1.6h-7.78zM338.75 377.51h7.78v1.6h-7.78zM346.27 377.51h7.78v1.6h-7.78zM323.69 381.57h7.78v1.6h-7.78zM323.69 382.92h7.78v1.6h-7.78zM331.22 382.92h7.78v1.6h-7.78zM338.75 384.27h7.78v1.6h-7.78zM316.16 388.33h7.78v1.6h-7.78zM323.69 388.33h7.78v1.6h-7.78zM316.16 389.68h7.78v1.6h-7.78zM331.22 391.03h7.78v1.6h-7.78zM316.16 392.39h7.78v1.6h-7.78zM331.22 392.39h7.78v1.6h-7.78zM338.75 392.39h7.78v1.6h-7.78zM316.16 393.74h7.78v1.6h-7.78zM323.69 396.44h7.78v1.6h-7.78zM338.75 396.44h7.78v1.6h-7.78zM338.75 397.8h7.78v1.6h-7.78zM346.27 399.15h7.78v1.6h-7.78z" fill="#e8d2f4"/>
<path d="M308.64 278.8h7.78v1.6h-7.78zM278.53 280.15h7.78v1.6h-7.78zM286.05 281.5h7.78v1.6h-7.78zM308.64 281.5h7.78v1.6h-7.78zM278.53 282.86h7.78v1.6h-7.78zM301.11 282.86h7.78v1.6h-7.78zM308.64 282.86h7.78v1.6h-7.78zM271 284.21h7.78v1.6h-7.78zM286.05 284.21h7.78v1.6h-7.78zM308.64 284.21h7.78v1.6h-7.78zM278.53 285.56h7.78v1.6h-7.78zM286.05 285.56h7.78v1.6h-7.78zM301.11 285.56h7.78v1.6h-7.78zM308.64 286.91h7.78v1.6h-7.78zM278.53 288.27h7.78v1.6h-7.78zM301.11 288.27h7.78v1.6h-7.78zM308.64 288.27h7.78v1.6h-7.78zM301.11 292.32h7.78v1.6h-7.78zM308.64 293.67h7.78v1.6h-7.78zM286.05 295.03h7.78v1.6h-7.78zM293.58 295.03h7.78v1.6h-7.78zM278.53 296.38h7.78v1.6h-7.78zM293.58 297.73h7.78v1.6h-7.78zM308.64 297.73h7.78v1.6h-7.78zM278.53 299.08h7.78v1.6h-7.78zM286.05 299.08h7.78v1.6h-7.78zM293.58 299.08h7.78v1.6h-7.78zM271 300.44h7.78v1.6h-7.78zM278.53 300.44h7.78v1.6h-7.78zM286.05 300.44h7.78v1.6h-7.78zM293.58 300.44h7.78v1.6h-7.78zM308.64 300.44h7.78v1.6h-7.78zM293.58 301.79h7.78v1.6h-7.78zM301.11 301.79h7.78v1.6h-7.78zM308.64 303.14h7.78v1.6h-7.78zM308.64 304.49h7.78v1.6h-7.78zM293.58 305.84h7.78v1.6h-7.78zM308.64 305.84h7.78v1.6h-7.78zM293.58 307.2h7.78v1.6h-7.78zM308.64 307.2h7.78v1.6h-7.78zM286.05 308.55h7.78v1.6h-7.78zM278.53 309.9h7.78v1.6h-7.78zM301.11 309.9h7.78v1.6h-7.78zM308.64 309.9h7.78v1.6h-7.78zM293.58 311.25h7.78v1.6h-7.78zM286.05 312.61h7.78v1.6h-7.78zM308.64 312.61h7.78v1.6h-7.78zM271 313.96h7.78v1.6h-7.78zM278.53 313.96h7.78v1.6h-7.78zM308.64 313.96h7.78v1.6h-7.78zM271 318.01h7.78v1.6h-7.78zM286.05 318.01h7.78v1.6h-7.78zM278.53 319.37h7.78v1.6h-7.78zM286.05 320.72h7.78v1.6h-7.78zM308.64 320.72h7.78v1.6h-7.78zM271 322.07h7.78v1.6h-7.78zM286.05 322.07h7.78v1.6h-7.78zM293.58 322.07h7.78v1.6h-7.78zM301.11 322.07h7.78v1.6h-7.78zM286.05 324.78h7.78v1.6h-7.78zM308.64 324.78h7.78v1.6h-7.78zM271 326.13h7.78v1.6h-7.78zM278.53 326.13h7.78v1.6h-7.78zM293.58 326.13h7.78v1.6h-7.78zM278.53 327.48h7.78v1.6h-7.78zM293.58 327.48h7.78v1.6h-7.78zM301.11 327.48h7.78v1.6h-7.78zM286.05 328.83h7.78v1.6h-7.78zM301.11 330.18h7.78v1.6h-7.78zM293.58 331.54h7.78v1.6h-7.78zM301.11 331.54h7.78v1.6h-7.78zM308.64 331.54h7.78v1.6h-7.78zM286.05 332.89h7.78v1.6h-7.78zM301.11 334.24h7.78v1.6h-7.78zM293.58 336.95h7.78v1.6h-7.78zM316.16 339.65h7.78v1.6h-7.78zM331.22 339.65h7.78v1.6h-7.78zM331.22 341h7.78v1.6h-7.78zM346.27 341h7.78v1.6h-7.78zM316.16 343.71h7.78v1.6h-7.78zM346.27 343.71h7.78v1.6h-7.78zM323.69 346.41h7.78v1.6h-7.78zM331.22 346.41h7.78v1.6h-7.78zM346.27 346.41h7.78v1.6h-7.78zM323.69 347.76h7.78v1.6h-7.78zM346.27 347.76h7.78v1.6h-7.78zM338.75 349.12h7.78v1.6h-7.78zM316.16 350.47h7.78v1.6h-7.78zM316.16 351.82h7.78v1.6h-7.78zM331.22 351.82h7.78v1.6h-7.78zM316.16 353.17h7.78v1.6h-7.78zM338.75 353.17h7.78v1.6h-7.78zM346.27 353.17h7.78v1.6h-7.78zM316.16 354.52h7.78v1.6h-7.78zM323.69 354.52h7.78v1.6h-7.78zM331.22 354.52h7.78v1.6h-7.78zM338.75 354.52h7.78v1.6h-7.78zM316.16 355.88h7.78v1.6h-7.78zM346.27 355.88h7.78v1.6h-7.78zM331.22 357.23h7.78v1.6h-7.78zM338.75 357.23h7.78v1.6h-7.78zM316.16 359.93h7.78v1.6h-7.78zM338.75 359.93h7.78v1.6h-7.78zM323.69 361.29h7.78v1.6h-7.78zM331.22 361.29h7.78v1.6h-7.78zM338.75 361.29h7.78v1.6h-7.78zM323.69 362.64h7.78v1.6h-7.78zM338.75 362.64h7.78v1.6h-7.78zM346.27 362.64h7.78v1.6h-7.78zM323.69 365.34h7.78v1.6h-7.78zM323.69 366.69h7.78v1.6h-7.78zM323.69 368.05h7.78v1.6h-7.78zM331.22 368.05h7.78v1.6h-7.78zM323.69 369.4h7.78v1.6h-7.78zM331.22 372.1h7.78v1.6h-7.78zM346.27 372.1h7.78v1.6h-7.78zM346.27 374.81h7.78v1.6h-7.78zM316.16 378.86h7.78v1.6h-7.78zM346.27 378.86h7.78v1.6h-7.78zM331.22 380.22h7.78v1.6h-7.78zM346.27 380.22h7.78v1.6h-7.78zM316.16 381.57h7.78v1.6h-7.78zM338.75 382.92h7.78v1.6h-7.78zM323.69 384.27h7.78v1.6h-7.78zM323.69 385.63h7.78v1.6h-7.78zM338.75 385.63h7.78v1.6h-7.78zM316.16 386.98h7.78v1.6h-7.78zM323.69 386.98h7.78v1.6h-7.78zM331.22 386.98h7.78v1.6h-7.78zM346.27 388.33h7.78v1.6h-7.78zM338.75 389.68h7.78v1.6h-7.78zM323.69 392.39h7.78v1.6h-7.78zM316.16 395.09h7.78v1.6h-7.78zM323.69 395.09h7.78v1.6h-7.78zM338.75 395.09h7.78v1.6h-7.78zM316.16 396.44h7.78v1.6h-7.78zM346.27 396.44h7.78v1.6h-7.78zM323.69 397.8h7.78v1.6h-7.78zM323.69 399.15h7.78v1.6h-7.78zM331.22 399.15h7.78v1.6h-7.78z" fill="#e0c7f0"/>
<path d="M278.53 278.8h7.78v1.6h-7.78zM293.58 278.8h7.78v1.6h-7.78zM301.11 278.8h7.78v1.6h-7.78zM308.64 280.15h7.78v1.6h-7.78zM293.58 281.5h7.78v1.6h-7.78zM301.11 281.5h7.78v1.6h-7.78zM293.58 282.86h7.78v1.6h-7.78zM278.53 284.21h7.78v1.6h-7.78zM293.58 284.21h7.78v1.6h-7.78zM301.11 284.21h7.78v1.6h-7.78zM286.05 286.91h7.78v1.6h-7.78zM293.58 286.91h7.78v1.6h-7.78zM301.11 286.91h7.78v1.6h-7.78zM271 288.27h7.78v1.6h-7.78zM286.05 288.27h7.78v1.6h-7.78zM271 289.62h7.78v1.6h-7.78zM286.05 289.62h7.78v1.6h-7.78zM301.11 289.62h7.78v1.6h-7.78zM308.64 290.97h7.78v1.6h-7.78zM278.53 292.32h7.78v1.6h-7.78zM286.05 292.32h7.78v1.6h-7.78zM271 293.67h7.78v1.6h-7.78zM278.53 293.67h7.78v1.6h-7.78zM301.11 293.67h7.78v1.6h-7.78zM271 295.03h7.78v1.6h-7.78zM278.53 295.03h7.78v1.6h-7.78zM301.11 295.03h7.78v1.6h-7.78zM308.64 295.03h7.78v1.6h-7.78zM293.58 296.38h7.78v1.6h-7.78zM301.11 296.38h7.78v1.6h-7.78zM308.64 296.38h7.78v1.6h-7.78zM278.53 297.73h7.78v1.6h-7.78zM286.05 297.73h7.78v1.6h-7.78zM301.11 297.73h7.78v1.6h-7.78zM271 301.79h7.78v1.6h-7.78zM278.53 301.79h7.78v1.6h-7.78zM308.64 301.79h7.78v1.6h-7.78zM278.53 303.14h7.78v1.6h-7.78zM293.58 303.14h7.78v1.6h-7.78zM286.05 305.84h7.78v1.6h-7.78zM301.11 305.84h7.78v1.6h-7.78zM301.11 307.2h7.78v1.6h-7.78zM293.58 308.55h7.78v1.6h-7.78zM308.64 308.55h7.78v1.6h-7.78zM271 309.9h7.78v1.6h-7.78zM293.58 309.9h7.78v1.6h-7.78zM278.53 311.25h7.78v1.6h-7.78zM308.64 311.25h7.78v1.6h-7.78zM278.53 312.61h7.78v1.6h-7.78zM301.11 313.96h7.78v1.6h-7.78zM286.05 315.31h7.78v1.6h-7.78zM301.11 315.31h7.78v1.6h-7.78zM278.53 316.66h7.78v1.6h-7.78zM301.11 318.01h7.78v1.6h-7.78zM293.58 319.37h7.78v1.6h-7.78zM301.11 319.37h7.78v1.6h-7.78zM308.64 319.37h7.78v1.6h-7.78zM278.53 320.72h7.78v1.6h-7.78zM286.05 323.42h7.78v1.6h-7.78zM308.64 323.42h7.78v1.6h-7.78zM278.53 324.78h7.78v1.6h-7.78zM301.11 324.78h7.78v1.6h-7.78zM286.05 326.13h7.78v1.6h-7.78zM301.11 326.13h7.78v1.6h-7.78zM308.64 327.48h7.78v1.6h-7.78zM293.58 328.83h7.78v1.6h-7.78zM301.11 328.83h7.78v1.6h-7.78zM308.64 328.83h7.78v1.6h-7.78zM293.58 330.18h7.78v1.6h-7.78zM308.64 330.18h7.78v1.6h-7.78zM278.53 331.54h7.78v1.6h-7.78zM286.05 331.54h7.78v1.6h-7.78zM271 332.89h7.78v1.6h-7.78zM293.58 332.89h7.78v1.6h-7.78zM308.64 332.89h7.78v1.6h-7.78zM286.05 334.24h7.78v1.6h-7.78zM308.64 334.24h7.78v1.6h-7.78zM278.53 335.59h7.78v1.6h-7.78zM286.05 335.59h7.78v1.6h-7.78zM301.11 335.59h7.78v1.6h-7.78zM308.64 335.59h7.78v1.6h-7.78zM278.53 336.95h7.78v1.6h-7.78zM301.11 336.95h7.78v1.6h-7.78zM308.64 336.95h7.78v1.6h-7.78zM346.27 338.3h7.78v1.6h-7.78zM338.75 339.65h7.78v1.6h-7.78zM346.27 342.35h7.78v1.6h-7.78zM331.22 343.71h7.78v1.6h-7.78zM323.69 345.06h7.78v1.6h-7.78zM331.22 345.06h7.78v1.6h-7.78zM346.27 345.06h7.78v1.6h-7.78zM316.16 346.41h7.78v1.6h-7.78zM316.16 347.76h7.78v1.6h-7.78zM331.22 347.76h7.78v1.6h-7.78zM338.75 347.76h7.78v1.6h-7.78zM316.16 349.12h7.78v1.6h-7.78zM331.22 350.47h7.78v1.6h-7.78zM346.27 350.47h7.78v1.6h-7.78zM346.27 354.52h7.78v1.6h-7.78zM331.22 355.88h7.78v1.6h-7.78zM346.27 357.23h7.78v1.6h-7.78zM316.16 358.58h7.78v1.6h-7.78zM346.27 358.58h7.78v1.6h-7.78zM346.27 359.93h7.78v1.6h-7.78zM331.22 366.69h7.78v1.6h-7.78zM346.27 368.05h7.78v1.6h-7.78zM331.22 369.4h7.78v1.6h-7.78zM316.16 370.75h7.78v1.6h-7.78zM331.22 370.75h7.78v1.6h-7.78zM346.27 370.75h7.78v1.6h-7.78zM331.22 373.46h7.78v1.6h-7.78zM331.22 378.86h7.78v1.6h-7.78zM338.75 378.86h7.78v1.6h-7.78zM331.22 381.57h7.78v1.6h-7.78zM346.27 381.57h7.78v1.6h-7.78zM316.16 382.92h7.78v1.6h-7.78zM346.27 382.92h7.78v1.6h-7.78zM316.16 384.27h7.78v1.6h-7.78zM331.22 384.27h7.78v1.6h-7.78zM346.27 384.27h7.78v1.6h-7.78zM316.16 385.63h7.78v1.6h-7.78zM331.22 385.63h7.78v1.6h-7.78zM316.16 391.03h7.78v1.6h-7.78zM323.69 391.03h7.78v1.6h-7.78zM338.75 391.03h7.78v1.6h-7.78zM346.27 391.03h7.78v1.6h-7.78zM323.69 393.74h7.78v1.6h-7.78zM346.27 393.74h7.78v1.6h-7.78zM331.22 395.09h7.78v1.6h-7.78zM316.16 397.8h7.78v1.6h-7.78zM331.22 397.8h7.78v1.6h-7.78z" fill="#d8bbeb"/>
<path d="M271 278.8h7.78v1.6h-7.78zM293.58 280.15h7.78v1.6h-7.78zM271 281.5h7.78v1.6h-7.78zM278.53 281.5h7.78v1.6h-7.78zM286.05 282.86h7.78v1.6h-7.78zM293.58 285.56h7.78v1.6h-7.78zM271 286.91h7.78v1.6h-7.78zM293.58 289.62h7.78v1.6h-7.78zM271 292.32h7.78v1.6h-7.78zM286.05 293.67h7.78v1.6h-7.78zM293.58 293.67h7.78v1.6h-7.78zM271 296.38h7.78v1.6h-7.78zM301.11 300.44h7.78v1.6h-7.78zM271 303.14h7.78v1.6h-7.78zM271 304.49h7.78v1.6h-7.78zM278.53 304.49h7.78v1.6h-7.78zM293.58 304.49h7.78v1.6h-7.78zM301.11 304.49h7.78v1.6h-7.78zM278.53 305.84h7.78v1.6h-7.78zM271 308.55h7.78v1.6h-7.78zM278.53 308.55h7.78v1.6h-7.78zM301.11 308.55h7.78v1.6h-7.78zM286.05 311.25h7.78v1.6h-7.78zM301.11 311.25h7.78v1.6h-7.78zM271 312.61h7.78v1.6h-7.78zM301.11 312.61h7.78v1.6h-7.78zM271 315.31h7.78v1.6h-7.78zM278.53 315.31h7.78v1.6h-7.78zM293.58 315.31h7.78v1.6h-7.78zM286.05 316.66h7.78v1.6h-7.78zM301.11 316.66h7.78v1.6h-7.78zM278.53 318.01h7.78v1.6h-7.78zM293.58 318.01h7.78v1.6h-7.78zM271 320.72h7.78v1.6h-7.78zM293.58 320.72h7.78v1.6h-7.78zM278.53 322.07h7.78v1.6h-7.78zM308.64 322.07h7.78v1.6h-7.78zM271 323.42h7.78v1.6h-7.78zM278.53 323.42h7.78v1.6h-7.78zM293.58 323.42h7.78v1.6h-7.78zM301.11 323.42h7.78v1.6h-7.78zM271 324.78h7.78v1.6h-7.78zM293.58 324.78h7.78v1.6h-7.78zM331.22 324.78h7.78v1.6h-7.78zM308.64 326.13h7.78v1.6h-7.78zM271 330.18h7.78v1.6h-7.78zM271 331.54h7.78v1.6h-7.78zM278.53 332.89h7.78v1.6h-7.78zM301.11 332.89h7.78v1.6h-7.78zM278.53 334.24h7.78v1.6h-7.78zM293.58 334.24h7.78v1.6h-7.78zM338.75 341h7.78v1.6h-7.78zM316.16 342.35h7.78v1.6h-7.78zM316.16 345.06h7.78v1.6h-7.78zM331.22 353.17h7.78v1.6h-7.78zM316.16 362.64h7.78v1.6h-7.78zM331.22 362.64h7.78v1.6h-7.78zM331.22 365.34h7.78v1.6h-7.78zM346.27 366.69h7.78v1.6h-7.78zM323.69 370.75h7.78v1.6h-7.78zM316.16 372.1h7.78v1.6h-7.78zM323.69 380.22h7.78v1.6h-7.78zM346.27 385.63h7.78v1.6h-7.78zM346.27 386.98h7.78v1.6h-7.78zM331.22 388.33h7.78v1.6h-7.78zM346.27 392.39h7.78v1.6h-7.78zM271 393.74h7.78v1.6h-7.78zM331.22 396.44h7.78v1.6h-7.78zM346.27 397.8h7.78v1.6h-7.78z" fill="#cdb0e6"/>
<path d="M271 280.15h7.78v1.6h-7.78zM301.11 280.15h7.78v1.6h-7.78zM271 282.86h7.78v1.6h-7.78zM271 285.56h7.78v1.6h-7.78zM278.53 286.91h7.78v1.6h-7.78zM278.53 289.62h7.78v1.6h-7.78zM271 290.97h7.78v1.6h-7.78zM301.11 290.97h7.78v1.6h-7.78zM271 297.73h7.78v1.6h-7.78zM271 299.08h7.78v1.6h-7.78zM338.75 303.14h7.78v1.6h-7.78zM271 305.84h7.78v1.6h-7.78zM271 307.2h7.78v1.6h-7.78zM278.53 307.2h7.78v1.6h-7.78zM331.22 313.96h7.78v1.6h-7.78zM271 316.66h7.78v1.6h-7.78zM271 319.37h7.78v1.6h-7.78zM286.05 319.37h7.78v1.6h-7.78zM346.27 320.72h7.78v1.6h-7.78zM316.16 327.48h7.78v1.6h-7.78zM271 328.83h7.78v1.6h-7.78zM278.53 328.83h7.78v1.6h-7.78zM278.53 330.18h7.78v1.6h-7.78zM271 334.24h7.78v1.6h-7.78zM271 335.59h7.78v1.6h-7.78zM338.75 335.59h7.78v1.6h-7.78zM271 336.95h7.78v1.6h-7.78zM346.27 336.95h7.78v1.6h-7.78zM271 343.71h7.78v1.6h-7.78zM331.22 349.12h7.78v1.6h-7.78zM278.53 350.47h7.78v1.6h-7.78zM293.58 350.47h7.78v1.6h-7.78zM293.58 355.88h7.78v1.6h-7.78zM308.64 355.88h7.78v1.6h-7.78zM293.58 357.23h7.78v1.6h-7.78zM316.16 357.23h7.78v1.6h-7.78zM278.53 358.58h7.78v1.6h-7.78zM271 359.93h7.78v1.6h-7.78zM278.53 359.93h7.78v1.6h-7.78zM271 362.64h7.78v1.6h-7.78zM271 365.34h7.78v1.6h-7.78zM293.58 369.4h7.78v1.6h-7.78zM293.58 377.51h7.78v1.6h-7.78zM293.58 378.86h7.78v1.6h-7.78zM278.53 381.57h7.78v1.6h-7.78zM271 384.27h7.78v1.6h-7.78zM308.64 392.39h7.78v1.6h-7.78zM271 395.09h7.78v1.6h-7.78z" fill="#c2a5e0"/>
<path d="M331.22 282.86h7.78v1.6h-7.78zM331.22 284.21h7.78v1.6h-7.78zM331.22 285.56h7.78v1.6h-7.78zM316.16 286.91h7.78v1.6h-7.78zM331.22 286.91h7.78v1.6h-7.78zM331.22 288.27h7.78v1.6h-7.78zM278.53 290.97h7.78v1.6h-7.78zM331.22 295.03h7.78v1.6h-7.78zM338.75 295.03h7.78v1.6h-7.78zM331.22 299.08h7.78v1.6h-7.78zM338.75 300.44h7.78v1.6h-7.78zM346.27 300.44h7.78v1.6h-7.78zM338.75 301.79h7.78v1.6h-7.78zM331.22 308.55h7.78v1.6h-7.78zM271 311.25h7.78v1.6h-7.78zM323.69 311.25h7.78v1.6h-7.78zM346.27 311.25h7.78v1.6h-7.78zM346.27 313.96h7.78v1.6h-7.78zM331.22 316.66h7.78v1.6h-7.78zM331.22 318.01h7.78v1.6h-7.78zM346.27 319.37h7.78v1.6h-7.78zM338.75 320.72h7.78v1.6h-7.78zM316.16 324.78h7.78v1.6h-7.78zM323.69 326.13h7.78v1.6h-7.78zM331.22 326.13h7.78v1.6h-7.78zM346.27 326.13h7.78v1.6h-7.78zM323.69 327.48h7.78v1.6h-7.78zM346.27 327.48h7.78v1.6h-7.78zM338.75 328.83h7.78v1.6h-7.78zM338.75 331.54h7.78v1.6h-7.78zM346.27 334.24h7.78v1.6h-7.78zM271 341h7.78v1.6h-7.78zM278.53 341h7.78v1.6h-7.78zM278.53 346.41h7.78v1.6h-7.78zM278.53 347.76h7.78v1.6h-7.78zM308.64 350.47h7.78v1.6h-7.78zM278.53 351.82h7.78v1.6h-7.78zM286.05 351.82h7.78v1.6h-7.78zM271 353.17h7.78v1.6h-7.78zM308.64 353.17h7.78v1.6h-7.78zM271 354.52h7.78v1.6h-7.78zM271 355.88h7.78v1.6h-7.78zM286.05 359.93h7.78v1.6h-7.78zM308.64 362.64h7.78v1.6h-7.78zM278.53 363.99h7.78v1.6h-7.78zM308.64 365.34h7.78v1.6h-7.78zM271 366.69h7.78v1.6h-7.78zM308.64 366.69h7.78v1.6h-7.78zM278.53 369.4h7.78v1.6h-7.78zM286.05 369.4h7.78v1.6h-7.78zM293.58 372.1h7.78v1.6h-7.78zM271 373.46h7.78v1.6h-7.78zM278.53 373.46h7.78v1.6h-7.78zM286.05 376.16h7.78v1.6h-7.78zM278.53 380.22h7.78v1.6h-7.78zM308.64 380.22h7.78v1.6h-7.78zM271 389.68h7.78v1.6h-7.78zM293.58 389.68h7.78v1.6h-7.78zM293.58 392.39h7.78v1.6h-7.78zM278.53 393.74h7.78v1.6h-7.78zM308.64 393.74h7.78v1.6h-7.78zM293.58 395.09h7.78v1.6h-7.78zM271 396.44h7.78v1.6h-7.78zM308.64 396.44h7.78v1.6h-7.78zM271 397.8h7.78v1.6h-7.78zM271 399.15h7.78v1.6h-7.78zM293.58 399.15h7.78v1.6h-7.78z" fill="#b69ada"/>
<path d="M331.22 278.8h7.78v1.6h-7.78zM338.75 278.8h7.78v1.6h-7.78zM346.27 278.8h7.78v1.6h-7.78zM331.22 280.15h7.78v1.6h-7.78zM331.22 281.5h7.78v1.6h-7.78zM346.27 282.86h7.78v1.6h-7.78zM338.75 284.21h7.78v1.6h-7.78zM346.27 284.21h7.78v1.6h-7.78zM323.69 285.56h7.78v1.6h-7.78zM346.27 285.56h7.78v1.6h-7.78zM316.16 288.27h7.78v1.6h-7.78zM338.75 288.27h7.78v1.6h-7.78zM346.27 288.27h7.78v1.6h-7.78zM316.16 292.32h7.78v1.6h-7.78zM331.22 292.32h7.78v1.6h-7.78zM338.75 292.32h7.78v1.6h-7.78zM346.27 292.32h7.78v1.6h-7.78zM323.69 293.67h7.78v1.6h-7.78zM316.16 295.03h7.78v1.6h-7.78zM323.69 295.03h7.78v1.6h-7.78zM331.22 297.73h7.78v1.6h-7.78zM338.75 297.73h7.78v1.6h-7.78zM346.27 297.73h7.78v1.6h-7.78zM316.16 299.08h7.78v1.6h-7.78zM338.75 299.08h7.78v1.6h-7.78zM346.27 299.08h7.78v1.6h-7.78zM346.27 303.14h7.78v1.6h-7.78zM331.22 304.49h7.78v1.6h-7.78zM346.27 305.84h7.78v1.6h-7.78zM346.27 307.2h7.78v1.6h-7.78zM323.69 308.55h7.78v1.6h-7.78zM331.22 309.9h7.78v1.6h-7.78zM346.27 309.9h7.78v1.6h-7.78zM316.16 311.25h7.78v1.6h-7.78zM338.75 311.25h7.78v1.6h-7.78zM346.27 312.61h7.78v1.6h-7.78zM316.16 315.31h7.78v1.6h-7.78zM331.22 315.31h7.78v1.6h-7.78zM338.75 315.31h7.78v1.6h-7.78zM338.75 316.66h7.78v1.6h-7.78zM346.27 316.66h7.78v1.6h-7.78zM316.16 318.01h7.78v1.6h-7.78zM338.75 318.01h7.78v1.6h-7.78zM331.22 319.37h7.78v1.6h-7.78zM331.22 320.72h7.78v1.6h-7.78zM331.22 323.42h7.78v1.6h-7.78zM346.27 324.78h7.78v1.6h-7.78zM338.75 326.13h7.78v1.6h-7.78zM331.22 327.48h7.78v1.6h-7.78zM338.75 327.48h7.78v1.6h-7.78zM331.22 330.18h7.78v1.6h-7.78zM331.22 331.54h7.78v1.6h-7.78zM346.27 331.54h7.78v1.6h-7.78zM331.22 332.89h7.78v1.6h-7.78zM346.27 332.89h7.78v1.6h-7.78zM331.22 334.24h7.78v1.6h-7.78zM323.69 335.59h7.78v1.6h-7.78zM271 338.3h7.78v1.6h-7.78zM286.05 338.3h7.78v1.6h-7.78zM293.58 338.3h7.78v1.6h-7.78zM271 339.65h7.78v1.6h-7.78zM293.58 341h7.78v1.6h-7.78zM271 342.35h7.78v1.6h-7.78zM286.05 342.35h7.78v1.6h-7.78zM293.58 342.35h7.78v1.6h-7.78zM278.53 343.71h7.78v1.6h-7.78zM286.05 343.71h7.78v1.6h-7.78zM293.58 343.71h7.78v1.6h-7.78zM271 345.06h7.78v1.6h-7.78zM278.53 345.06h7.78v1.6h-7.78zM293.58 345.06h7.78v1.6h-7.78zM308.64 346.41h7.78v1.6h-7.78zM271 347.76h7.78v1.6h-7.78zM308.64 347.76h7.78v1.6h-7.78zM271 349.12h7.78v1.6h-7.78zM308.64 349.12h7.78v1.6h-7.78zM271 350.47h7.78v1.6h-7.78zM301.11 350.47h7.78v1.6h-7.78zM271 351.82h7.78v1.6h-7.78zM301.11 351.82h7.78v1.6h-7.78zM308.64 351.82h7.78v1.6h-7.78zM278.53 355.88h7.78v1.6h-7.78zM271 357.23h7.78v1.6h-7.78zM271 358.58h7.78v1.6h-7.78zM286.05 358.58h7.78v1.6h-7.78zM301.11 358.58h7.78v1.6h-7.78zM308.64 358.58h7.78v1.6h-7.78zM308.64 359.93h7.78v1.6h-7.78zM271 361.29h7.78v1.6h-7.78zM293.58 361.29h7.78v1.6h-7.78zM301.11 361.29h7.78v1.6h-7.78zM308.64 361.29h7.78v1.6h-7.78zM278.53 362.64h7.78v1.6h-7.78zM293.58 363.99h7.78v1.6h-7.78zM278.53 365.34h7.78v1.6h-7.78zM286.05 365.34h7.78v1.6h-7.78zM293.58 365.34h7.78v1.6h-7.78zM286.05 366.69h7.78v1.6h-7.78zM293.58 366.69h7.78v1.6h-7.78zM271 368.05h7.78v1.6h-7.78zM271 369.4h7.78v1.6h-7.78zM271 370.75h7.78v1.6h-7.78zM278.53 370.75h7.78v1.6h-7.78zM271 372.1h7.78v1.6h-7.78zM286.05 372.1h7.78v1.6h-7.78zM278.53 374.81h7.78v1.6h-7.78zM293.58 374.81h7.78v1.6h-7.78zM271 376.16h7.78v1.6h-7.78zM278.53 376.16h7.78v1.6h-7.78zM293.58 376.16h7.78v1.6h-7.78zM308.64 376.16h7.78v1.6h-7.78zM271 377.51h7.78v1.6h-7.78zM308.64 377.51h7.78v1.6h-7.78zM271 378.86h7.78v1.6h-7.78zM278.53 378.86h7.78v1.6h-7.78zM308.64 378.86h7.78v1.6h-7.78zM271 380.22h7.78v1.6h-7.78zM271 381.57h7.78v1.6h-7.78zM271 382.92h7.78v1.6h-7.78zM308.64 382.92h7.78v1.6h-7.78zM308.64 384.27h7.78v1.6h-7.78zM271 385.63h7.78v1.6h-7.78zM271 386.98h7.78v1.6h-7.78zM278.53 386.98h7.78v1.6h-7.78zM308.64 386.98h7.78v1.6h-7.78zM271 388.33h7.78v1.6h-7.78zM278.53 388.33h7.78v1.6h-7.78zM301.11 388.33h7.78v1.6h-7.78zM308.64 388.33h7.78v1.6h-7.78zM278.53 389.68h7.78v1.6h-7.78zM286.05 389.68h7.78v1.6h-7.78zM308.64 389.68h7.78v1.6h-7.78zM271 391.03h7.78v1.6h-7.78zM278.53 391.03h7.78v1.6h-7.78zM293.58 391.03h7.78v1.6h-7.78zM308.64 391.03h7.78v1.6h-7.78zM271 392.39h7.78v1.6h-7.78zM286.05 392.39h7.78v1.6h-7.78zM293.58 393.74h7.78v1.6h-7.78zM301.11 393.74h7.78v1.6h-7.78zM278.53 396.44h7.78v1.6h-7.78zM278.53 397.8h7.78v1.6h-7.78zM278.53 399.15h7.78v1.6h-7.78zM308.64 399.15h7.78v1.6h-7.78z" fill="#aa8fd4"/>
<path d="M316.16 280.15h7.78v1.6h-7.78zM316.16 281.5h7.78v1.6h-7.78zM323.69 281.5h7.78v1.6h-7.78zM338.75 281.5h7.78v1.6h-7.78zM346.27 281.5h7.78v1.6h-7.78zM316.16 282.86h7.78v1.6h-7.78zM338.75 282.86h7.78v1.6h-7.78zM316.16 284.21h7.78v1.6h-7.78zM338.75 285.56h7.78v1.6h-7.78zM316.16 289.62h7.78v1.6h-7.78zM331.22 289.62h7.78v1.6h-7.78zM338.75 289.62h7.78v1.6h-7.78zM331.22 290.97h7.78v1.6h-7.78zM346.27 290.97h7.78v1.6h-7.78zM316.16 293.67h7.78v1.6h-7.78zM331.22 293.67h7.78v1.6h-7.78zM338.75 293.67h7.78v1.6h-7.78zM346.27 293.67h7.78v1.6h-7.78zM346.27 295.03h7.78v1.6h-7.78zM316.16 296.38h7.78v1.6h-7.78zM316.16 300.44h7.78v1.6h-7.78zM331.22 300.44h7.78v1.6h-7.78zM331.22 301.79h7.78v1.6h-7.78zM346.27 301.79h7.78v1.6h-7.78zM316.16 303.14h7.78v1.6h-7.78zM316.16 304.49h7.78v1.6h-7.78zM323.69 304.49h7.78v1.6h-7.78zM346.27 304.49h7.78v1.6h-7.78zM323.69 305.84h7.78v1.6h-7.78zM331.22 305.84h7.78v1.6h-7.78zM338.75 305.84h7.78v1.6h-7.78zM331.22 307.2h7.78v1.6h-7.78zM316.16 308.55h7.78v1.6h-7.78zM346.27 308.55h7.78v1.6h-7.78zM316.16 309.9h7.78v1.6h-7.78zM323.69 309.9h7.78v1.6h-7.78zM338.75 309.9h7.78v1.6h-7.78zM316.16 312.61h7.78v1.6h-7.78zM331.22 312.61h7.78v1.6h-7.78zM338.75 312.61h7.78v1.6h-7.78zM338.75 313.96h7.78v1.6h-7.78zM323.69 315.31h7.78v1.6h-7.78zM316.16 316.66h7.78v1.6h-7.78zM346.27 318.01h7.78v1.6h-7.78zM316.16 319.37h7.78v1.6h-7.78zM323.69 319.37h7.78v1.6h-7.78zM316.16 320.72h7.78v1.6h-7.78zM316.16 322.07h7.78v1.6h-7.78zM323.69 322.07h7.78v1.6h-7.78zM331.22 322.07h7.78v1.6h-7.78zM338.75 322.07h7.78v1.6h-7.78zM346.27 322.07h7.78v1.6h-7.78zM316.16 323.42h7.78v1.6h-7.78zM346.27 323.42h7.78v1.6h-7.78zM323.69 324.78h7.78v1.6h-7.78zM323.69 328.83h7.78v1.6h-7.78zM331.22 328.83h7.78v1.6h-7.78zM346.27 328.83h7.78v1.6h-7.78zM323.69 330.18h7.78v1.6h-7.78zM338.75 330.18h7.78v1.6h-7.78zM323.69 332.89h7.78v1.6h-7.78zM338.75 332.89h7.78v1.6h-7.78zM316.16 334.24h7.78v1.6h-7.78zM316.16 335.59h7.78v1.6h-7.78zM331.22 335.59h7.78v1.6h-7.78zM346.27 335.59h7.78v1.6h-7.78zM316.16 336.95h7.78v1.6h-7.78zM331.22 336.95h7.78v1.6h-7.78zM278.53 338.3h7.78v1.6h-7.78zM301.11 338.3h7.78v1.6h-7.78zM308.64 338.3h7.78v1.6h-7.78zM286.05 339.65h7.78v1.6h-7.78zM301.11 339.65h7.78v1.6h-7.78zM301.11 342.35h7.78v1.6h-7.78zM308.64 342.35h7.78v1.6h-7.78zM301.11 343.71h7.78v1.6h-7.78zM308.64 343.71h7.78v1.6h-7.78zM286.05 345.06h7.78v1.6h-7.78zM271 346.41h7.78v1.6h-7.78zM286.05 346.41h7.78v1.6h-7.78zM293.58 346.41h7.78v1.6h-7.78zM301.11 346.41h7.78v1.6h-7.78zM286.05 347.76h7.78v1.6h-7.78zM293.58 347.76h7.78v1.6h-7.78zM278.53 349.12h7.78v1.6h-7.78zM293.58 349.12h7.78v1.6h-7.78zM286.05 350.47h7.78v1.6h-7.78zM293.58 351.82h7.78v1.6h-7.78zM278.53 353.17h7.78v1.6h-7.78zM278.53 354.52h7.78v1.6h-7.78zM286.05 354.52h7.78v1.6h-7.78zM293.58 354.52h7.78v1.6h-7.78zM301.11 357.23h7.78v1.6h-7.78zM308.64 357.23h7.78v1.6h-7.78zM293.58 358.58h7.78v1.6h-7.78zM293.58 359.93h7.78v1.6h-7.78zM301.11 359.93h7.78v1.6h-7.78zM278.53 361.29h7.78v1.6h-7.78zM286.05 361.29h7.78v1.6h-7.78zM293.58 362.64h7.78v1.6h-7.78zM308.64 363.99h7.78v1.6h-7.78zM278.53 366.69h7.78v1.6h-7.78zM301.11 366.69h7.78v1.6h-7.78zM278.53 368.05h7.78v1.6h-7.78zM293.58 368.05h7.78v1.6h-7.78zM308.64 368.05h7.78v1.6h-7.78zM308.64 369.4h7.78v1.6h-7.78zM293.58 370.75h7.78v1.6h-7.78zM278.53 372.1h7.78v1.6h-7.78zM301.11 372.1h7.78v1.6h-7.78zM293.58 373.46h7.78v1.6h-7.78zM301.11 373.46h7.78v1.6h-7.78zM308.64 373.46h7.78v1.6h-7.78zM271 374.81h7.78v1.6h-7.78zM286.05 374.81h7.78v1.6h-7.78zM308.64 374.81h7.78v1.6h-7.78zM301.11 376.16h7.78v1.6h-7.78zM278.53 377.51h7.78v1.6h-7.78zM286.05 377.51h7.78v1.6h-7.78zM286.05 378.86h7.78v1.6h-7.78zM301.11 378.86h7.78v1.6h-7.78zM286.05 380.22h7.78v1.6h-7.78zM293.58 380.22h7.78v1.6h-7.78zM301.11 380.22h7.78v1.6h-7.78zM293.58 381.57h7.78v1.6h-7.78zM301.11 381.57h7.78v1.6h-7.78zM308.64 381.57h7.78v1.6h-7.78zM278.53 382.92h7.78v1.6h-7.78zM278.53 384.27h7.78v1.6h-7.78zM293.58 384.27h7.78v1.6h-7.78zM278.53 385.63h7.78v1.6h-7.78zM286.05 385.63h7.78v1.6h-7.78zM301.11 385.63h7.78v1.6h-7.78zM308.64 385.63h7.78v1.6h-7.78zM293.58 386.98h7.78v1.6h-7.78zM286.05 388.33h7.78v1.6h-7.78zM301.11 389.68h7.78v1.6h-7.78zM278.53 392.39h7.78v1.6h-7.78zM301.11 392.39h7.78v1.6h-7.78zM286.05 393.74h7.78v1.6h-7.78zM278.53 395.09h7.78v1.6h-7.78zM286.05 395.09h7.78v1.6h-7.78zM301.11 395.09h7.78v1.6h-7.78zM308.64 395.09h7.78v1.6h-7.78zM293.58 396.44h7.78v1.6h-7.78zM301.11 396.44h7.78v1.6h-7.78zM286.05 397.8h7.78v1.6h-7.78zM293.58 397.8h7.78v1.6h-7.78zM301.11 399.15h7.78v1.6h-7.78z" fill="#9d83cb"/>
<path d="M316.16 278.8h7.78v1.6h-7.78zM323.69 278.8h7.78v1.6h-7.78zM338.75 280.15h7.78v1.6h-7.78zM346.27 280.15h7.78v1.6h-7.78zM323.69 282.86h7.78v1.6h-7.78zM323.69 284.21h7.78v1.6h-7.78zM316.16 285.56h7.78v1.6h-7.78zM323.69 286.91h7.78v1.6h-7.78zM338.75 286.91h7.78v1.6h-7.78zM346.27 286.91h7.78v1.6h-7.78zM323.69 288.27h7.78v1.6h-7.78zM323.69 289.62h7.78v1.6h-7.78zM346.27 289.62h7.78v1.6h-7.78zM316.16 290.97h7.78v1.6h-7.78zM338.75 290.97h7.78v1.6h-7.78zM323.69 292.32h7.78v1.6h-7.78zM323.69 296.38h7.78v1.6h-7.78zM331.22 296.38h7.78v1.6h-7.78zM338.75 296.38h7.78v1.6h-7.78zM346.27 296.38h7.78v1.6h-7.78zM316.16 297.73h7.78v1.6h-7.78zM323.69 297.73h7.78v1.6h-7.78zM323.69 299.08h7.78v1.6h-7.78zM323.69 300.44h7.78v1.6h-7.78zM323.69 303.14h7.78v1.6h-7.78zM331.22 303.14h7.78v1.6h-7.78zM338.75 304.49h7.78v1.6h-7.78zM316.16 305.84h7.78v1.6h-7.78zM316.16 307.2h7.78v1.6h-7.78zM323.69 307.2h7.78v1.6h-7.78zM338.75 307.2h7.78v1.6h-7.78zM338.75 308.55h7.78v1.6h-7.78zM331.22 311.25h7.78v1.6h-7.78zM323.69 312.61h7.78v1.6h-7.78zM316.16 313.96h7.78v1.6h-7.78zM346.27 315.31h7.78v1.6h-7.78zM338.75 319.37h7.78v1.6h-7.78zM323.69 320.72h7.78v1.6h-7.78zM323.69 323.42h7.78v1.6h-7.78zM338.75 323.42h7.78v1.6h-7.78zM338.75 324.78h7.78v1.6h-7.78zM316.16 326.13h7.78v1.6h-7.78zM316.16 328.83h7.78v1.6h-7.78zM316.16 330.18h7.78v1.6h-7.78zM323.69 331.54h7.78v1.6h-7.78zM316.16 332.89h7.78v1.6h-7.78zM338.75 334.24h7.78v1.6h-7.78zM323.69 336.95h7.78v1.6h-7.78zM338.75 336.95h7.78v1.6h-7.78zM278.53 339.65h7.78v1.6h-7.78zM293.58 339.65h7.78v1.6h-7.78zM308.64 339.65h7.78v1.6h-7.78zM286.05 341h7.78v1.6h-7.78zM301.11 341h7.78v1.6h-7.78zM308.64 341h7.78v1.6h-7.78zM278.53 342.35h7.78v1.6h-7.78zM308.64 345.06h7.78v1.6h-7.78zM301.11 347.76h7.78v1.6h-7.78zM301.11 349.12h7.78v1.6h-7.78zM286.05 353.17h7.78v1.6h-7.78zM293.58 353.17h7.78v1.6h-7.78zM301.11 353.17h7.78v1.6h-7.78zM301.11 354.52h7.78v1.6h-7.78zM308.64 354.52h7.78v1.6h-7.78zM286.05 355.88h7.78v1.6h-7.78zM301.11 355.88h7.78v1.6h-7.78zM278.53 357.23h7.78v1.6h-7.78zM286.05 357.23h7.78v1.6h-7.78zM286.05 362.64h7.78v1.6h-7.78zM301.11 362.64h7.78v1.6h-7.78zM271 363.99h7.78v1.6h-7.78zM286.05 363.99h7.78v1.6h-7.78zM286.05 368.05h7.78v1.6h-7.78zM301.11 368.05h7.78v1.6h-7.78zM301.11 370.75h7.78v1.6h-7.78zM308.64 372.1h7.78v1.6h-7.78zM286.05 373.46h7.78v1.6h-7.78zM301.11 374.81h7.78v1.6h-7.78zM301.11 377.51h7.78v1.6h-7.78zM293.58 382.92h7.78v1.6h-7.78zM301.11 382.92h7.78v1.6h-7.78zM286.05 384.27h7.78v1.6h-7.78zM293.58 385.63h7.78v1.6h-7.78zM286.05 386.98h7.78v1.6h-7.78zM301.11 386.98h7.78v1.6h-7.78zM293.58 388.33h7.78v1.6h-7.78zM286.05 391.03h7.78v1.6h-7.78zM286.05 396.44h7.78v1.6h-7.78zM308.64 397.8h7.78v1.6h-7.78zM286.05 399.15h7.78v1.6h-7.78z" fill="#8f79bf"/>
<path d="M323.69 280.15h7.78v1.6h-7.78zM323.69 290.97h7.78v1.6h-7.78zM316.16 301.79h7.78v1.6h-7.78zM323.69 301.79h7.78v1.6h-7.78zM323.69 313.96h7.78v1.6h-7.78zM323.69 316.66h7.78v1.6h-7.78zM323.69 318.01h7.78v1.6h-7.78zM346.27 330.18h7.78v1.6h-7.78zM316.16 331.54h7.78v1.6h-7.78zM323.69 334.24h7.78v1.6h-7.78zM286.05 349.12h7.78v1.6h-7.78zM301.11 363.99h7.78v1.6h-7.78zM301.11 365.34h7.78v1.6h-7.78zM301.11 369.4h7.78v1.6h-7.78zM286.05 370.75h7.78v1.6h-7.78zM308.64 370.75h7.78v1.6h-7.78zM286.05 381.57h7.78v1.6h-7.78zM286.05 382.92h7.78v1.6h-7.78zM301.11 384.27h7.78v1.6h-7.78zM301.11 391.03h7.78v1.6h-7.78zM301.11 397.8h7.78v1.6h-7.78z" fill="#816eb4"/>
<path d="M301.11 345.06h7.78v1.6h-7.78z" fill="#7364aa"/>
</g></g>
<rect x="271" y="271.8" width="45.16" height="5.4" fill="#057df8"/>
<rect x="316.16" y="271.8" width="37.64" height="5.4" fill="#c1b394"/>
<path d="M287.6 260.3V220.1H327.1V260.3M278.7 264.8V260.3H296.5V261.7M274.76 270.1V264.8H282.29V270.1M289.82 270.1V261.7H304.12V264.5M297.35 270.1V264.5H308.64V266M304.87 270.1V266H312.4V270.1M319.93 270.1V260.3H334.23V265.2M327.45 270.1V265.2H340.63V267.6M334.98 270.1V267.6H346.27V269M342.51 270.1V269H350.04V270.1" stroke="#000" stroke-width="0.75" fill="none"/>
<path d="" stroke="#000" stroke-width="0.4" fill="none"/>
<path d="M268.6 279.35H267.69V280.09H268.6M267.69 279.72H266.76V280.51H268.6M268.6 282.04H267.73V283.5H268.6M268.6 281.12H266.83V282.77H267.73M268.6 284.61H268.02V285.55H268.6M268.6 286.87H268.02V287.58H268.6M268.02 285.08H267.12V287.23H268.02M266.83 281.95H265.14V286.15H267.12M266.76 280.12H264.24V284.05H265.14M268.6 288.96H267.96V289.5H268.6M267.96 289.23H267.06V289.98H268.6M268.6 288.15H266.16V289.6H267.06M268.6 291.49H268.22V292.18H268.6M268.6 290.81H267.32V291.84H268.22M266.16 288.88H265.26V291.32H267.32M264.24 282.08H261.91V290.1H265.26M268.6 294.4H268.21V295H268.6M268.6 293.58H267.31V294.7H268.21M268.6 292.92H266.41V294.14H267.31M268.6 295.68H267.72V296.48H268.6M268.6 297.76H267.52V299.01H268.6M267.72 296.08H265.83V298.39H267.52M266.41 293.53H264.74V297.24H265.83M261.91 286.09H260.12V295.38H264.74M268.6 299.42H267.82V300.09H268.6M268.6 301.7H268.07V302.34H268.6M268.6 300.93H267.17V302.02H268.07M267.82 299.76H266.27V301.47H267.17M268.6 303.3H268.1V303.92H268.6M268.1 303.61H267.2V304.71H268.6M268.6 302.82H266.3V304.16H267.2M268.6 306.11H267.93V306.99H268.6M268.6 305.31H267.03V306.55H267.93M266.3 303.49H265.16V305.93H267.03M268.6 307.56H267.79V308.29H268.6M268.6 309.18H267.79V310.32H268.6M267.79 307.92H266.89V309.75H267.79M268.6 311.55H267.78V312.29H268.6M268.6 313.07H267.78V314.01H268.6M267.78 311.92H266.88V313.54H267.78M266.89 308.84H265.02V312.73H266.88M265.16 304.71H263.64V310.78H265.02M266.27 300.61H261.86V307.75H263.64M260.12 290.74H257.65V304.18H261.86M268.6 314.92H267.78V315.53H268.6M268.6 315.91H267.99V316.7H268.6M268.6 317.5H267.99V318.08H268.6M267.99 316.31H267.09V317.79H267.99M268.6 318.93H267.99V319.54H268.6M267.99 319.23H267.09V319.83H268.6M267.09 317.05H266.19V319.53H267.09M267.78 315.22H265.29V318.29H266.19M268.6 321.23H267.92V321.78H268.6M268.6 320.39H267.02V321.5H267.92M268.6 322.05H267.92V322.66H268.6M268.6 323.51H267.92V324.11H268.6M267.92 322.35H267.02V323.81H267.92M267.02 320.95H266.12V323.08H267.02M268.6 324.69H267.62V325.32H268.6M267.62 325.01H266.72V325.89H268.6M268.6 326.41H267.45V326.97H268.6M268.6 327.51H268.16V328.02H268.6M268.16 327.77H267.26V328.6H268.6M267.45 326.69H266.36V328.19H267.26M266.72 325.45H265.46V327.44H266.36M266.12 322.02H264.56V326.44H265.46M268.6 329.06H267.25V329.62H268.6M268.6 330.23H267.95V330.83H268.6M267.95 330.53H267.05V331.6H268.6M268.6 332.32H267.95V333.03H268.6M267.95 332.67H267.05V333.85H268.6M267.05 331.06H266.15V333.26H267.05M267.25 329.34H265.25V332.16H266.15M268.6 334.8H267.61V335.86H268.6M267.61 335.33H266.71V336.67H268.6M268.6 337.28H267.26V337.8H268.6M266.71 336H265.81V337.54H267.26M265.25 330.75H263.98V336.77H265.81M264.56 324.23H261.31V333.76H263.98M265.29 316.76H259.49V328.99H261.31M268.6 338.95H268.22V339.89H268.6M268.6 338.26H267.32V339.42H268.22M268.6 340.89H267.71V341.75H268.6M267.32 338.84H265.55V341.32H267.71M268.6 342.28H267.9V343.02H268.6M268.6 343.83H267.9V344.62H268.6M267.9 342.65H267V344.22H267.9M265.55 340.08H264.42V343.44H267M268.6 346.71H268.13V347.42H268.6M268.6 346.27H267.23V347.06H268.13M268.6 345.62H266.33V346.66H267.23M268.6 348.75H267.78V349.51H268.6M268.6 348.15H266.42V349.13H267.78M266.33 346.14H265.43V348.64H266.42M264.42 341.76H263.52V347.39H265.43M268.6 350.43H267.58V351.32H268.6M268.6 352.27H267.58V353.06H268.6M267.58 350.87H266.68V352.67H267.58M268.6 353.61H268.2V354.15H268.6M268.6 354.96H268.2V355.7H268.6M268.2 353.88H267.3V355.33H268.2M266.68 351.77H265.69V354.61H267.3M263.52 344.57H261.98V353.19H265.69M268.6 356.43H267.49V357.42H268.6M268.6 358.24H267.49V359.4H268.6M268.6 361.4H267.49V362.97H268.6M267.49 358.82H266.59V362.19H267.49M267.49 356.93H265.69V360.5H266.59M268.6 363.8H267.55V364.85H268.6M267.55 364.33H266.65V365.72H268.6M265.69 358.71H264.79V365.02H266.65M261.98 348.88H261.08V361.87H264.79M268.6 366.55H267.63V367.36H268.6M268.6 367.97H267.63V368.91H268.6M267.63 366.95H266.73V368.44H267.63M268.6 370.26H267.67V371.59H268.6M267.67 370.92H266.77V372.52H268.6M268.6 373.25H267.41V374.27H268.6M268.6 375.51H267.41V376.45H268.6M267.41 373.76H266.51V375.98H267.41M268.6 378.14H267.41V378.68H268.6M268.6 377.26H266.49V378.41H267.41M266.51 374.87H265.59V377.84H266.49M266.77 371.72H264.69V376.35H265.59M266.73 367.7H262.86V374.04H264.69M268.6 379.14H267.62V379.79H268.6M267.62 379.47H266.72V380.51H268.6M268.6 381.27H267.82V381.8H268.6M268.6 382.22H267.82V382.92H268.6M267.82 381.54H266.92V382.57H267.82M266.72 379.99H265.55V382.05H266.92M268.6 384.89H267.67V385.68H268.6M268.6 383.82H266.77V385.29H267.67M268.6 386.28H267.38V387.07H268.6M266.77 384.55H265.87V386.67H267.38M268.6 387.9H268.01V389.21H268.6M268.6 390.21H268.01V390.8H268.6M268.01 388.56H267.11V390.5H268.01M268.6 391.86H268.09V392.79H268.6M268.6 393.33H268.09V393.98H268.6M268.09 392.32H267.19V393.66H268.09M268.6 394.75H267.69V395.41H268.6M267.19 392.99H266.29V395.08H267.69M268.6 396.57H267.42V397.95H268.6M266.29 394.04H265.39V397.26H267.42M268.6 398.93H267.83V399.46H268.6M267.83 399.19H266.62V400.05H268.6M265.39 395.65H263.79V399.62H266.62M267.11 389.53H262.89V397.64H263.79M265.87 385.61H261.24V393.58H262.89M265.55 381.02H260.33V389.6H261.24M262.86 370.87H258.9V385.31H260.33M257.65 297.46H255.2V322.88H259.49M261.08 355.37H256.8V378.09H258.9M255.2 310.17H237V366.73H256.8" stroke="#000" stroke-width="0.65" fill="none"/>
<rect x="268.4" y="278.8" width="1.7" height="121.7" fill="#000"/>
<text transform="translate(358.2 340.6) rotate(90)" font-size="9.25" text-anchor="middle">DRN RNA-seq</text>
<text x="312.8" y="410.2" font-size="9.2" text-anchor="middle">Female</text>
<rect x="362.9" y="216" width="8.26" height="31.5" fill="#f3e3f8"/>
<rect x="370.96" y="216" width="8.26" height="31.5" fill="#e5cdf2"/>
<rect x="379.01" y="216" width="8.26" height="31.5" fill="#d3b5e8"/>
<rect x="387.07" y="216" width="8.26" height="31.5" fill="#bb9fdc"/>
<rect x="395.13" y="216" width="8.26" height="31.5" fill="#a388d0"/>
<rect x="403.19" y="216" width="8.26" height="31.5" fill="#8672b8"/>
<rect x="411.24" y="216" width="8.26" height="31.5" fill="#6a5fa5"/>
<path d="M362.9 247.5L419.3 247.5" stroke="#000" stroke-width="0.6" fill="none"/>
<path d="M365.5 247.5L365.5 250.2" stroke="#000" stroke-width="0.6" fill="none"/>
<path d="M378.18 247.5L378.18 250.2" stroke="#000" stroke-width="0.6" fill="none"/>
<path d="M390.86 247.5L390.86 250.2" stroke="#000" stroke-width="0.6" fill="none"/>
<path d="M403.54 247.5L403.54 250.2" stroke="#000" stroke-width="0.6" fill="none"/>
<path d="M416.22 247.5L416.22 250.2" stroke="#000" stroke-width="0.6" fill="none"/>
<text x="365.5" y="259.3" font-size="9.5" text-anchor="middle">−2</text>
<text x="391.1" y="259.3" font-size="9.5" text-anchor="middle">0</text>
<text x="416.2" y="259.3" font-size="9.5" text-anchor="middle">2</text>
<text x="392.4" y="270.1" font-size="9.1" text-anchor="middle">Row Z-score</text>
</svg>
</body>
</html>
